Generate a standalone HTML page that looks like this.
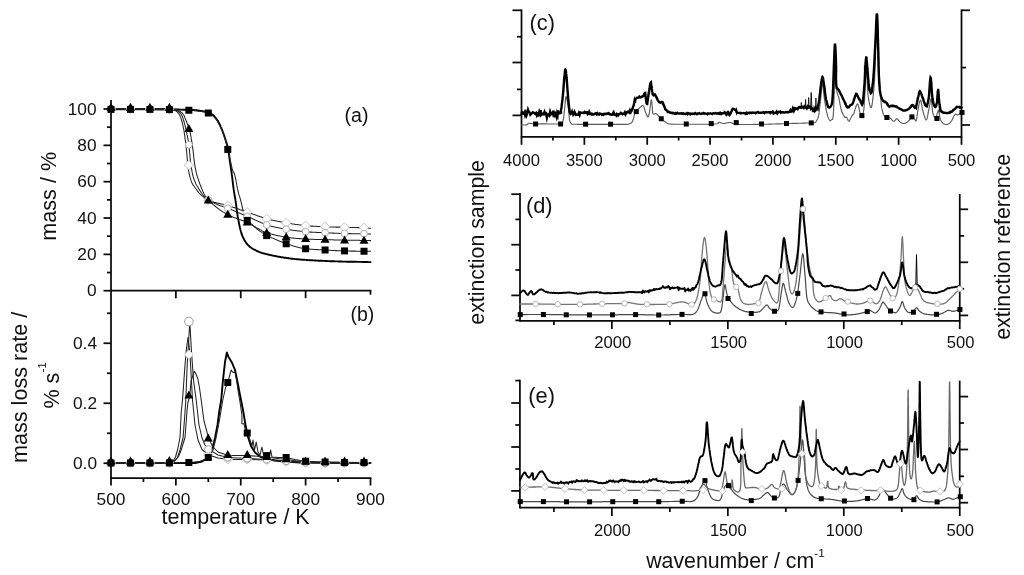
<!DOCTYPE html>
<html lang="en">
<head>
<meta charset="utf-8">
<title>TGA and IR spectra figure</title>
<style>
html,body{margin:0;padding:0;background:#fff;}
body{width:1024px;height:575px;overflow:hidden;font-family:"Liberation Sans", Arial, sans-serif;}
svg{display:block;font-family:"Liberation Sans", Arial, sans-serif;filter:blur(0.45px);}
</style>
</head>
<body>
<svg width="1024" height="575" viewBox="0 0 1024 575">
<rect x="0" y="0" width="1024" height="575" fill="#ffffff"/>
<g id="panel-ab">
<polyline points="111.0,109.0 111.3,109.0 111.6,109.0 112.0,109.0 112.3,109.0 112.7,109.0 113.1,109.0 113.5,109.0 114.0,109.0 114.4,109.0 114.9,109.0 115.3,109.0 115.8,109.0 116.3,109.0 116.8,109.0 117.3,109.0 117.9,109.0 118.4,109.0 119.0,109.0 119.5,109.0 120.1,109.0 120.7,109.0 121.3,109.0 121.9,109.0 122.5,109.0 123.2,109.0 123.8,109.0 124.4,109.0 125.1,109.0 125.7,109.0 126.4,109.0 127.1,109.0 127.7,109.0 128.4,109.0 129.1,109.0 129.8,109.0 130.5,109.0 131.1,109.0 131.8,109.0 132.5,109.0 133.2,109.0 133.9,109.0 134.6,109.0 135.3,109.0 136.0,109.0 136.7,109.0 137.4,109.0 138.1,109.0 138.8,109.0 139.5,109.0 140.2,109.0 140.9,109.0 141.6,109.0 142.3,109.0 142.9,109.0 143.6,109.1 144.3,109.1 144.9,109.1 145.6,109.1 146.2,109.1 146.9,109.1 147.5,109.1 148.2,109.1 148.8,109.1 149.4,109.1 150.0,109.1 150.6,109.1 151.2,109.1 151.8,109.1 152.4,109.1 153.1,109.1 153.7,109.1 154.3,109.1 155.0,109.2 155.6,109.2 156.3,109.2 156.9,109.2 157.6,109.2 158.2,109.2 158.9,109.2 159.6,109.2 160.2,109.2 160.9,109.2 161.6,109.2 162.2,109.3 162.9,109.3 163.6,109.3 164.3,109.3 164.9,109.3 165.6,109.3 166.3,109.3 166.9,109.3 167.6,109.3 168.3,109.3 168.9,109.4 169.6,109.4 170.3,109.4 170.9,109.4 171.6,109.4 172.2,109.4 172.9,109.4 173.5,109.4 174.2,109.4 174.8,109.5 175.4,109.5 176.0,109.5 176.7,109.5 177.3,109.5 177.9,109.5 178.5,109.5 179.1,109.5 179.6,109.6 180.2,109.6 180.8,109.6 181.4,109.6 181.9,109.6 182.5,109.6 183.0,109.6 183.5,109.6 184.0,109.7 184.5,109.7 185.0,109.7 185.5,109.7 186.0,109.7 186.5,109.7 186.9,109.7 187.4,109.7 187.8,109.8 188.2,109.8 188.6,109.8 189.0,109.8 190.3,109.8 191.5,109.9 192.5,109.9 193.4,110.0 194.2,110.0 194.8,110.1 195.4,110.1 195.9,110.2 196.4,110.2 196.8,110.3 197.2,110.3 197.6,110.4 197.9,110.5 198.3,110.5 198.6,110.6 199.0,110.7 199.5,110.7 200.0,110.8 200.7,110.9 201.4,111.0 202.0,111.1 202.7,111.2 203.3,111.3 204.0,111.4 204.6,111.5 205.2,111.6 205.8,111.7 206.4,111.9 206.9,112.0 207.5,112.2 208.0,112.3 208.5,112.5 209.2,112.8 209.8,113.0 210.4,113.3 210.9,113.6 211.5,113.9 212.0,114.3 212.5,114.6 213.0,115.0 213.5,115.5 214.0,116.0 214.4,116.4 214.7,116.8 215.1,117.2 215.5,117.6 215.8,118.0 216.2,118.5 216.5,119.0 216.9,119.5 217.2,120.0 217.6,120.5 217.9,121.1 218.3,121.7 218.6,122.3 219.0,123.0 219.2,123.5 219.5,123.9 219.7,124.4 220.0,124.9 220.2,125.5 220.5,126.0 220.7,126.6 220.9,127.1 221.2,127.7 221.4,128.3 221.7,128.9 221.9,129.5 222.2,130.1 222.4,130.7 222.6,131.3 222.9,131.9 223.1,132.5 223.3,133.1 223.6,133.8 223.8,134.4 224.0,135.0 224.2,135.5 224.4,136.1 224.6,136.7 224.7,137.2 224.9,137.8 225.1,138.4 225.3,139.0 225.5,139.6 225.7,140.1 225.8,140.7 226.0,141.3 226.2,141.9 226.4,142.5 226.5,143.1 226.7,143.7 226.9,144.3 227.0,144.9 227.2,145.5 227.3,146.1 227.5,146.7 227.6,147.3 227.7,147.9 227.9,148.4 228.0,149.0 228.1,149.6 228.3,150.3 228.4,150.9 228.5,151.5 228.6,152.2 228.7,152.8 228.8,153.4 228.9,154.0 229.0,154.6 229.1,155.3 229.2,155.9 229.3,156.5 229.3,157.1 229.4,157.7 229.5,158.3 229.6,158.9 229.7,159.5 229.7,160.2 229.8,160.8 229.9,161.4 230.0,162.0 230.1,162.6 230.2,163.2 230.3,163.8 230.4,164.4 230.5,165.1 230.6,165.7 230.6,166.3 230.7,166.9 230.8,167.5 230.9,168.1 231.0,168.7 231.1,169.3 231.2,169.9 231.3,170.5 231.4,171.1 231.5,171.8 231.5,172.4 231.6,173.0 231.7,173.7 231.8,174.3 231.9,175.0 232.0,175.6 232.0,176.1 232.1,176.7 232.2,177.3 232.3,177.9 232.3,178.5 232.4,179.2 232.5,179.8 232.6,180.4 232.6,181.0 232.7,181.7 232.8,182.3 232.9,182.9 232.9,183.6 233.0,184.2 233.1,184.8 233.2,185.4 233.2,186.0 233.3,186.6 233.4,187.2 233.5,187.8 233.5,188.4 233.6,188.9 233.7,189.5 233.8,190.0 233.9,190.7 234.0,191.4 234.1,192.0 234.2,192.7 234.3,193.3 234.4,193.9 234.5,194.4 234.6,195.0 234.7,195.6 234.8,196.1 234.9,196.7 235.0,197.3 235.1,197.8 235.2,198.4 235.3,199.0 235.4,199.7 235.5,200.3 235.6,201.0 235.7,201.5 235.8,202.1 235.8,202.7 235.9,203.3 236.0,203.9 236.1,204.5 236.2,205.1 236.2,205.7 236.3,206.3 236.4,206.9 236.5,207.6 236.5,208.2 236.6,208.8 236.7,209.5 236.8,210.1 236.9,210.7 237.0,211.3 237.0,212.0 237.1,212.6 237.2,213.2 237.3,213.8 237.4,214.4 237.5,215.0 237.6,215.6 237.7,216.2 237.8,216.9 237.9,217.5 238.0,218.1 238.1,218.7 238.3,219.4 238.4,220.0 238.5,220.6 238.6,221.2 238.7,221.9 238.8,222.5 238.9,223.1 239.1,223.7 239.2,224.2 239.3,224.8 239.4,225.4 239.5,225.9 239.7,226.5 239.8,227.0 239.9,227.5 240.0,228.0 240.2,228.7 240.3,229.4 240.5,230.1 240.7,230.8 240.9,231.4 241.0,232.0 241.2,232.5 241.4,233.1 241.5,233.6 241.7,234.2 241.9,234.7 242.1,235.2 242.3,235.7 242.5,236.2 242.8,236.9 243.1,237.5 243.4,238.1 243.7,238.7 244.0,239.3 244.3,239.9 244.6,240.4 245.0,241.0 245.3,241.5 245.7,242.0 246.0,242.5 246.4,243.1 246.8,243.6 247.2,244.1 247.6,244.6 248.1,245.1 248.5,245.6 249.0,246.0 249.5,246.5 250.0,246.9 250.5,247.3 251.0,247.6 251.5,248.0 252.0,248.3 252.6,248.6 253.1,249.0 253.7,249.3 254.3,249.6 254.9,249.9 255.4,250.2 256.0,250.5 256.5,250.8 257.1,251.0 257.6,251.3 258.1,251.5 258.6,251.7 259.1,252.0 259.7,252.2 260.3,252.4 260.9,252.6 261.7,252.9 262.5,253.1 263.0,253.2 263.5,253.4 264.0,253.5 264.5,253.6 265.1,253.8 265.6,253.9 266.2,254.1 266.8,254.2 267.4,254.4 268.1,254.5 268.7,254.7 269.3,254.8 270.0,254.9 270.6,255.1 271.3,255.2 271.9,255.4 272.5,255.5 273.2,255.6 273.8,255.8 274.4,255.9 275.0,256.0 275.6,256.1 276.2,256.2 276.8,256.3 277.4,256.5 278.0,256.6 278.6,256.7 279.2,256.8 279.8,256.9 280.4,257.0 281.0,257.1 281.5,257.2 282.1,257.3 282.7,257.4 283.3,257.5 283.9,257.6 284.5,257.7 285.1,257.8 285.7,257.8 286.3,257.9 286.9,258.0 287.5,258.1 288.1,258.2 288.7,258.3 289.3,258.4 289.9,258.4 290.5,258.5 291.1,258.6 291.7,258.7 292.3,258.7 292.8,258.8 293.4,258.9 294.0,258.9 294.6,259.0 295.3,259.1 295.9,259.1 296.5,259.2 297.2,259.3 297.9,259.3 298.5,259.4 299.3,259.4 300.0,259.5 300.5,259.5 301.0,259.6 301.6,259.6 302.1,259.7 302.7,259.7 303.2,259.8 303.8,259.8 304.3,259.8 304.9,259.9 305.5,259.9 306.0,259.9 306.6,260.0 307.2,260.0 307.8,260.1 308.4,260.1 309.0,260.1 309.7,260.2 310.3,260.2 310.9,260.2 311.5,260.3 312.2,260.3 312.8,260.4 313.5,260.4 314.1,260.4 314.8,260.5 315.5,260.5 316.1,260.5 316.8,260.6 317.5,260.6 318.0,260.6 318.6,260.7 319.1,260.7 319.7,260.7 320.2,260.7 320.8,260.8 321.3,260.8 321.9,260.8 322.4,260.8 323.0,260.9 323.6,260.9 324.1,260.9 324.7,260.9 325.3,261.0 325.9,261.0 326.5,261.0 327.0,261.0 327.6,261.1 328.2,261.1 328.8,261.1 329.4,261.1 330.1,261.2 330.7,261.2 331.3,261.2 331.9,261.2 332.6,261.3 333.2,261.3 333.9,261.3 334.5,261.3 335.2,261.4 335.8,261.4 336.5,261.4 337.2,261.4 337.9,261.4 338.6,261.5 339.3,261.5 340.0,261.5 340.5,261.5 341.1,261.5 341.6,261.5 342.2,261.6 342.8,261.6 343.4,261.6 344.0,261.6 344.7,261.6 345.3,261.6 346.0,261.6 346.6,261.7 347.3,261.7 348.0,261.7 348.7,261.7 349.3,261.7 350.0,261.7 350.7,261.7 351.4,261.8 352.1,261.8 352.8,261.8 353.5,261.8 354.3,261.8 355.0,261.8 355.7,261.8 356.4,261.8 357.1,261.9 357.7,261.9 358.4,261.9 359.1,261.9 359.8,261.9 360.4,261.9 361.1,261.9 361.7,261.9 362.4,262.0 363.0,262.0 363.6,262.0 364.2,262.0 364.8,262.0 365.3,262.0 365.9,262.0 366.4,262.0 366.9,262.0 367.4,262.0 367.9,262.1 368.4,262.1 368.8,262.1 369.2,262.1 369.6,262.1 369.9,262.1 370.3,262.1 370.6,262.1" fill="none" stroke="#000" stroke-width="1.9" stroke-linejoin="round" stroke-linecap="round"/>
<polyline points="111.0,109.6 111.3,109.6 111.6,109.6 112.0,109.6 112.3,109.6 112.7,109.6 113.1,109.6 113.5,109.6 113.9,109.6 114.3,109.6 114.8,109.6 115.2,109.6 115.7,109.6 116.2,109.6 116.7,109.6 117.2,109.6 117.7,109.6 118.2,109.6 118.8,109.6 119.3,109.6 119.9,109.6 120.5,109.6 121.1,109.6 121.6,109.6 122.3,109.6 122.9,109.6 123.5,109.6 124.1,109.6 124.7,109.6 125.4,109.6 126.0,109.6 126.7,109.6 127.4,109.6 128.0,109.6 128.7,109.6 129.4,109.6 130.1,109.6 130.8,109.6 131.5,109.6 132.2,109.6 132.9,109.6 133.6,109.6 134.3,109.6 135.0,109.6 135.7,109.6 136.4,109.6 137.2,109.6 137.9,109.6 138.6,109.6 139.3,109.6 140.1,109.6 140.8,109.6 141.5,109.6 142.3,109.6 143.0,109.6 143.7,109.6 144.4,109.6 145.2,109.6 145.9,109.6 146.6,109.6 147.3,109.6 148.0,109.6 148.8,109.6 149.5,109.6 150.2,109.6 150.9,109.6 151.6,109.6 152.3,109.6 153.0,109.6 153.6,109.6 154.3,109.6 155.0,109.6 155.7,109.6 156.3,109.6 157.0,109.6 157.6,109.6 158.3,109.6 158.9,109.6 159.5,109.6 160.1,109.6 160.7,109.6 161.3,109.6 161.9,109.6 162.5,109.6 163.1,109.6 163.6,109.6 164.2,109.6 164.7,109.6 165.2,109.6 165.7,109.6 166.2,109.6 166.7,109.6 167.2,109.6 167.7,109.6 168.1,109.6 168.6,109.6 169.0,109.6 169.4,109.6 170.6,109.6 171.7,109.6 172.8,109.6 173.8,109.6 174.7,109.7 175.6,109.7 176.4,109.7 177.2,109.7 178.0,109.7 178.7,109.7 179.3,109.7 180.0,109.8 180.6,109.8 181.1,109.8 181.7,109.8 182.2,109.8 182.6,109.9 183.1,109.9 183.6,109.9 184.0,109.9 184.4,109.9 184.8,110.0 185.2,110.0 185.6,110.0 186.0,110.0 186.4,110.0 186.8,110.1 187.2,110.1 187.6,110.1 188.1,110.1 188.5,110.2 189.0,110.2 189.8,110.2 190.6,110.3 191.4,110.3 192.1,110.4 192.7,110.5 193.4,110.5 194.0,110.6 194.6,110.6 195.2,110.7 195.8,110.7 196.3,110.8 196.8,110.9 197.4,110.9 197.9,111.0 198.4,111.1 198.9,111.1 199.5,111.2 200.0,111.3 200.7,111.4 201.4,111.5 202.0,111.6 202.7,111.7 203.3,111.8 204.0,111.9 204.6,112.0 205.2,112.1 205.8,112.2 206.4,112.3 206.9,112.5 207.5,112.6 208.0,112.8 208.5,113.0 209.1,113.3 209.7,113.5 210.2,113.8 210.7,114.2 211.2,114.5 211.7,114.8 212.2,115.2 212.6,115.6 213.1,116.1 213.5,116.5 214.0,117.0 214.4,117.4 214.7,117.8 215.1,118.2 215.5,118.6 215.8,119.1 216.2,119.5 216.5,120.0 216.9,120.5 217.2,121.0 217.6,121.5 217.9,122.1 218.3,122.7 218.6,123.3 219.0,124.0 219.2,124.5 219.5,124.9 219.7,125.4 220.0,126.0 220.2,126.5 220.5,127.0 220.7,127.6 220.9,128.1 221.2,128.7 221.4,129.3 221.7,129.9 221.9,130.5 222.2,131.1 222.4,131.7 222.6,132.3 222.9,132.9 223.1,133.6 223.3,134.2 223.6,134.8 223.8,135.4 224.0,136.0 224.2,136.6 224.4,137.1 224.6,137.6 224.8,138.2 224.9,138.7 225.1,139.3 225.3,139.8 225.5,140.4 225.6,140.9 225.8,141.5 226.0,142.0 226.1,142.6 226.3,143.1 226.5,143.7 226.6,144.3 226.8,144.9 227.0,145.5 227.1,146.1 227.3,146.7 227.5,147.4 227.7,148.0 227.8,148.7 228.0,149.4 228.1,149.9 228.3,150.5 228.4,151.0 228.5,151.6 228.7,152.2 228.8,152.8 228.9,153.5 229.1,154.1 229.2,154.7 229.3,155.4 229.5,156.0 229.6,156.7 229.7,157.4 229.9,158.0 230.0,158.7 230.1,159.4 230.3,160.0 230.4,160.7 230.5,161.3 230.7,162.0 230.8,162.6 230.9,163.2 231.0,163.8 231.2,164.4 231.3,165.0 231.4,165.5 231.5,166.1 231.7,166.6 231.8,167.1 231.9,167.6 232.0,168.0 232.2,168.9 232.5,169.6 232.7,170.3 232.9,170.9 233.1,171.4 233.4,171.8 233.6,172.2 233.8,172.6 234.0,173.1 234.2,173.5 234.4,174.0 234.6,174.6 234.8,175.2 235.0,176.0 235.1,176.5 235.2,177.0 235.4,177.5 235.5,178.1 235.6,178.6 235.7,179.2 235.9,179.9 236.0,180.5 236.1,181.1 236.2,181.8 236.3,182.4 236.5,183.1 236.6,183.8 236.7,184.4 236.8,185.1 236.9,185.8 237.1,186.4 237.2,187.0 237.3,187.7 237.4,188.3 237.5,188.9 237.7,189.4 237.8,190.0 237.9,190.5 238.0,191.0 238.2,191.8 238.4,192.5 238.5,193.1 238.7,193.7 238.9,194.3 239.0,194.9 239.2,195.4 239.4,195.9 239.5,196.4 239.7,197.0 239.9,197.5 240.1,198.1 240.2,198.7 240.4,199.3 240.6,200.0 240.7,200.5 240.9,201.1 241.0,201.6 241.2,202.2 241.3,202.8 241.4,203.5 241.6,204.1 241.7,204.7 241.9,205.4 242.0,206.0 242.2,206.7 242.3,207.3 242.5,207.9 242.6,208.6 242.8,209.2 242.9,209.8 243.1,210.4 243.2,210.9 243.4,211.5 243.6,212.0 243.8,212.5 244.0,213.2 244.2,213.8 244.5,214.4 244.7,215.0 245.0,215.6 245.2,216.1 245.5,216.6 245.7,217.1 246.0,217.6 246.3,218.1 246.7,218.6 247.0,219.1 247.4,219.6 247.9,220.2 248.2,220.6 248.6,221.0 248.9,221.4 249.3,221.8 249.7,222.3 250.1,222.7 250.5,223.1 250.9,223.6 251.4,224.0 251.8,224.4 252.3,224.9 252.7,225.3 253.2,225.8 253.7,226.2 254.2,226.6 254.6,227.0 255.1,227.4 255.6,227.8 256.1,228.2 256.5,228.6 257.0,229.0 257.5,229.4 258.0,229.8 258.5,230.1 259.0,230.5 259.5,230.9 260.0,231.2 260.6,231.6 261.1,231.9 261.6,232.2 262.2,232.6 262.7,232.9 263.2,233.2 263.8,233.5 264.3,233.9 264.8,234.2 265.4,234.5 265.9,234.8 266.4,235.0 266.9,235.3 267.4,235.6 268.0,235.9 268.6,236.2 269.1,236.5 269.7,236.8 270.3,237.1 270.9,237.3 271.4,237.6 272.0,237.9 272.5,238.1 273.1,238.3 273.7,238.6 274.2,238.8 274.8,239.1 275.3,239.3 275.9,239.5 276.4,239.8 277.0,240.0 277.6,240.2 278.1,240.5 278.7,240.7 279.2,240.9 279.8,241.2 280.4,241.4 280.9,241.6 281.5,241.9 282.0,242.1 282.6,242.3 283.2,242.5 283.7,242.7 284.3,242.9 284.8,243.1 285.4,243.3 285.9,243.6 286.5,243.8 287.1,244.0 287.7,244.2 288.3,244.4 288.9,244.6 289.5,244.8 290.1,245.0 290.7,245.1 291.2,245.3 291.8,245.5 292.4,245.7 293.0,245.9 293.6,246.0 294.2,246.2 294.8,246.4 295.4,246.5 296.0,246.7 296.6,246.9 297.1,247.0 297.7,247.2 298.2,247.3 298.7,247.4 299.2,247.6 299.7,247.7 300.2,247.8 300.7,248.0 301.3,248.1 301.9,248.2 302.5,248.3 303.2,248.4 303.9,248.5 304.7,248.6 305.6,248.8 306.1,248.8 306.6,248.9 307.1,248.9 307.6,249.0 308.1,249.0 308.7,249.0 309.3,249.1 309.8,249.1 310.4,249.2 311.0,249.2 311.6,249.3 312.3,249.3 312.9,249.3 313.5,249.4 314.2,249.4 314.8,249.5 315.5,249.5 316.1,249.5 316.8,249.6 317.5,249.6 318.1,249.7 318.8,249.7 319.5,249.7 320.1,249.8 320.8,249.8 321.4,249.8 322.1,249.9 322.7,249.9 323.4,249.9 324.0,250.0 324.6,250.0 325.2,250.0 325.8,250.1 326.4,250.1 327.1,250.1 327.7,250.2 328.3,250.2 328.9,250.2 329.5,250.3 330.1,250.3 330.8,250.3 331.4,250.4 332.0,250.4 332.6,250.4 333.2,250.5 333.9,250.5 334.5,250.5 335.1,250.6 335.7,250.6 336.3,250.6 336.9,250.6 337.6,250.7 338.2,250.7 338.8,250.7 339.4,250.7 340.0,250.8 340.7,250.8 341.3,250.8 341.9,250.8 342.5,250.9 343.1,250.9 343.8,250.9 344.4,250.9 345.0,250.9 345.6,251.0 346.2,251.0 346.9,251.0 347.5,251.0 348.2,251.0 348.8,251.0 349.5,251.0 350.1,251.1 350.8,251.1 351.5,251.1 352.1,251.1 352.8,251.1 353.4,251.1 354.1,251.1 354.7,251.1 355.4,251.1 356.0,251.2 356.6,251.2 357.2,251.2 357.8,251.2 358.4,251.2 359.0,251.2 359.6,251.2 360.1,251.2 360.6,251.2 361.2,251.2 361.6,251.2 362.1,251.2 362.6,251.2 363.0,251.2 364.1,251.3 365.0,251.3 365.9,251.3 366.7,251.3 367.4,251.3 368.0,251.3 368.6,251.3 369.1,251.3 369.5,251.3 369.9,251.3 370.3,251.3 370.6,251.3" fill="none" stroke="#222222" stroke-width="1.05" stroke-linejoin="round" stroke-linecap="round"/>
<polyline points="111.0,108.5 111.3,108.5 111.6,108.5 112.0,108.5 112.4,108.5 112.8,108.5 113.2,108.5 113.6,108.5 114.0,108.5 114.5,108.5 115.0,108.5 115.5,108.5 116.0,108.5 116.5,108.5 117.1,108.5 117.6,108.5 118.2,108.5 118.8,108.5 119.4,108.5 120.0,108.5 120.6,108.5 121.2,108.5 121.8,108.5 122.5,108.5 123.1,108.5 123.8,108.5 124.5,108.5 125.2,108.5 125.9,108.5 126.6,108.5 127.3,108.5 128.0,108.5 128.7,108.5 129.4,108.5 130.1,108.5 130.9,108.5 131.6,108.5 132.3,108.5 133.1,108.5 133.8,108.5 134.5,108.5 135.3,108.5 136.0,108.5 136.8,108.5 137.5,108.5 138.2,108.5 139.0,108.5 139.7,108.5 140.5,108.5 141.2,108.5 141.9,108.5 142.6,108.5 143.4,108.5 144.1,108.5 144.8,108.5 145.5,108.5 146.2,108.5 146.9,108.5 147.6,108.5 148.2,108.5 148.9,108.5 149.5,108.5 150.2,108.5 150.8,108.5 151.5,108.6 152.1,108.6 152.7,108.6 153.3,108.6 153.8,108.6 154.4,108.6 155.0,108.6 155.5,108.6 156.0,108.6 156.5,108.6 157.0,108.6 157.5,108.6 158.0,108.6 158.4,108.6 158.8,108.6 159.2,108.6 159.6,108.6 160.0,108.6 161.8,108.6 163.3,108.6 164.5,108.7 165.4,108.7 166.2,108.7 166.8,108.7 167.2,108.8 167.6,108.8 167.8,108.8 168.0,108.9 168.2,108.9 168.4,108.9 168.6,109.0 169.0,109.0 169.4,109.1 170.2,109.2 170.9,109.3 171.6,109.4 172.2,109.5 172.8,109.7 173.4,109.8 173.9,110.0 174.5,110.2 175.0,110.5 175.6,110.8 176.1,111.2 176.7,111.5 177.2,112.0 177.7,112.4 178.1,112.9 178.6,113.4 179.0,114.0 179.3,114.5 179.6,115.0 179.9,115.5 180.1,116.0 180.3,116.5 180.6,117.1 180.8,117.8 181.0,118.4 181.3,119.2 181.5,120.0 181.6,120.5 181.8,121.0 181.9,121.5 182.1,122.0 182.2,122.5 182.3,123.0 182.5,123.5 182.6,124.1 182.8,124.7 182.9,125.3 183.0,125.9 183.2,126.6 183.3,127.2 183.4,127.9 183.6,128.6 183.7,129.4 183.9,130.2 184.0,131.0 184.1,131.5 184.2,132.0 184.2,132.5 184.3,133.1 184.4,133.7 184.5,134.2 184.6,134.8 184.7,135.4 184.8,136.1 184.9,136.7 184.9,137.3 185.0,138.0 185.1,138.6 185.2,139.3 185.3,139.9 185.4,140.6 185.5,141.2 185.5,141.9 185.6,142.6 185.7,143.2 185.8,143.9 185.9,144.5 185.9,145.2 186.0,145.8 186.1,146.5 186.2,147.1 186.2,147.7 186.3,148.3 186.4,148.9 186.4,149.4 186.5,150.0 186.6,150.7 186.6,151.4 186.7,152.0 186.8,152.7 186.8,153.3 186.9,154.0 186.9,154.6 187.0,155.3 187.0,155.9 187.1,156.5 187.1,157.1 187.2,157.8 187.2,158.4 187.2,159.0 187.3,159.6 187.3,160.1 187.4,160.7 187.4,161.3 187.4,161.8 187.5,162.4 187.5,162.9 187.6,163.5 187.6,164.0 187.7,164.5 187.8,165.0 187.8,165.8 187.9,166.5 188.0,167.2 188.1,167.9 188.2,168.6 188.3,169.2 188.4,169.8 188.5,170.4 188.7,171.0 188.8,171.6 188.9,172.2 189.0,172.8 189.1,173.3 189.2,173.9 189.4,174.4 189.5,175.0 189.7,175.7 189.8,176.4 190.0,177.1 190.2,177.7 190.4,178.4 190.6,179.0 190.8,179.7 191.0,180.3 191.2,180.9 191.4,181.4 191.6,182.0 191.8,182.5 192.0,183.0 192.3,183.6 192.6,184.2 192.9,184.7 193.2,185.2 193.6,185.6 193.9,186.1 194.3,186.5 194.6,187.0 195.0,187.5 195.3,188.0 195.7,188.5 196.0,189.0 196.4,189.5 196.8,190.0 197.1,190.6 197.5,191.1 197.9,191.6 198.3,192.1 198.6,192.6 199.0,193.0 199.5,193.5 200.0,194.0 200.4,194.4 200.9,194.9 201.4,195.3 201.9,195.7 202.4,196.1 203.0,196.5 203.5,196.9 203.9,197.3 204.4,197.6 204.8,198.0 205.3,198.4 205.8,198.8 206.3,199.2 206.9,199.6 207.6,200.0 208.3,200.3 208.8,200.5 209.3,200.7 209.8,200.9 210.4,201.1 211.0,201.3 211.6,201.5 212.2,201.7 212.9,201.8 213.5,202.0 214.1,202.2 214.8,202.4 215.5,202.5 216.1,202.7 216.7,202.9 217.4,203.0 218.0,203.2 218.6,203.3 219.1,203.5 219.6,203.6 220.1,203.7 220.6,203.8 221.1,203.9 221.6,204.0 222.1,204.1 222.7,204.2 223.2,204.3 223.8,204.5 224.4,204.6 225.0,204.8 225.7,204.9 226.4,205.1 227.2,205.4 228.0,205.6 228.4,205.7 228.9,205.9 229.4,206.0 229.9,206.2 230.4,206.3 230.9,206.5 231.4,206.7 231.9,206.9 232.5,207.0 233.0,207.2 233.6,207.4 234.2,207.6 234.8,207.8 235.4,208.0 235.9,208.2 236.5,208.4 237.2,208.6 237.8,208.8 238.4,209.1 239.0,209.3 239.6,209.5 240.2,209.7 240.9,209.9 241.5,210.1 242.1,210.3 242.7,210.6 243.3,210.8 243.9,211.0 244.5,211.2 245.1,211.4 245.7,211.6 246.3,211.8 246.9,212.0 247.5,212.2 248.1,212.4 248.6,212.6 249.2,212.8 249.8,213.0 250.4,213.2 250.9,213.4 251.5,213.6 252.1,213.8 252.7,214.0 253.2,214.2 253.8,214.4 254.4,214.6 255.0,214.8 255.5,215.0 256.1,215.2 256.7,215.5 257.3,215.7 257.8,215.9 258.4,216.1 259.0,216.3 259.6,216.5 260.1,216.7 260.7,216.8 261.3,217.0 261.9,217.2 262.4,217.4 263.0,217.6 263.6,217.8 264.1,218.0 264.7,218.1 265.3,218.3 265.9,218.5 266.4,218.6 267.0,218.8 267.6,219.0 268.2,219.1 268.8,219.3 269.4,219.4 270.0,219.6 270.6,219.7 271.2,219.9 271.8,220.0 272.4,220.2 273.0,220.3 273.6,220.4 274.3,220.6 274.9,220.7 275.5,220.8 276.1,221.0 276.7,221.1 277.3,221.2 277.9,221.3 278.5,221.5 279.1,221.6 279.7,221.7 280.3,221.8 280.9,221.9 281.5,222.0 282.1,222.1 282.7,222.3 283.3,222.4 283.9,222.5 284.5,222.6 285.1,222.7 285.7,222.8 286.3,222.9 286.9,223.0 287.5,223.1 288.1,223.2 288.7,223.3 289.3,223.4 289.9,223.5 290.5,223.6 291.1,223.7 291.7,223.8 292.3,223.9 292.9,224.0 293.6,224.1 294.2,224.2 294.8,224.3 295.4,224.4 296.0,224.4 296.6,224.5 297.2,224.6 297.8,224.7 298.4,224.8 299.0,224.8 299.6,224.9 300.2,225.0 300.8,225.1 301.4,225.1 302.0,225.2 302.6,225.3 303.2,225.3 303.8,225.4 304.4,225.5 305.0,225.5 305.6,225.6 306.2,225.7 306.8,225.7 307.4,225.8 308.1,225.8 308.7,225.9 309.3,225.9 309.9,226.0 310.5,226.0 311.1,226.1 311.7,226.1 312.4,226.1 313.0,226.2 313.6,226.2 314.2,226.2 314.8,226.3 315.4,226.3 316.0,226.3 316.6,226.4 317.2,226.4 317.9,226.4 318.5,226.4 319.1,226.5 319.7,226.5 320.3,226.5 320.9,226.5 321.5,226.6 322.1,226.6 322.8,226.6 323.4,226.6 324.0,226.7 324.6,226.7 325.2,226.7 325.8,226.8 326.4,226.8 327.1,226.8 327.7,226.8 328.3,226.8 328.9,226.9 329.5,226.9 330.1,226.9 330.8,226.9 331.4,226.9 332.0,227.0 332.6,227.0 333.2,227.0 333.9,227.0 334.5,227.0 335.1,227.0 335.7,227.1 336.3,227.1 336.9,227.1 337.6,227.1 338.2,227.1 338.8,227.1 339.4,227.1 340.0,227.2 340.7,227.2 341.3,227.2 341.9,227.2 342.5,227.2 343.1,227.2 343.8,227.2 344.4,227.3 345.0,227.3 345.6,227.3 346.2,227.3 346.9,227.3 347.5,227.3 348.2,227.4 348.8,227.4 349.5,227.4 350.1,227.4 350.8,227.4 351.5,227.4 352.1,227.5 352.8,227.5 353.4,227.5 354.1,227.5 354.7,227.5 355.4,227.5 356.0,227.5 356.6,227.6 357.2,227.6 357.8,227.6 358.4,227.6 359.0,227.6 359.6,227.6 360.1,227.7 360.6,227.7 361.2,227.7 361.6,227.7 362.1,227.7 362.6,227.7 363.0,227.8 364.1,227.8 365.0,227.8 365.9,227.9 366.7,228.0 367.4,228.0 368.0,228.1 368.6,228.1 369.1,228.2 369.5,228.2 369.9,228.2 370.3,228.3 370.6,228.3" fill="none" stroke="#222222" stroke-width="1.05" stroke-linejoin="round" stroke-linecap="round"/>
<polyline points="111.0,109.5 111.3,109.5 111.6,109.5 112.0,109.5 112.4,109.5 112.8,109.5 113.2,109.5 113.6,109.5 114.0,109.5 114.5,109.5 115.0,109.5 115.5,109.5 116.0,109.5 116.5,109.5 117.1,109.5 117.6,109.5 118.2,109.5 118.8,109.5 119.4,109.5 120.0,109.5 120.6,109.5 121.2,109.5 121.8,109.5 122.5,109.5 123.1,109.5 123.8,109.5 124.5,109.5 125.2,109.5 125.9,109.5 126.6,109.5 127.3,109.5 128.0,109.5 128.7,109.5 129.4,109.5 130.1,109.5 130.9,109.5 131.6,109.5 132.3,109.5 133.1,109.5 133.8,109.5 134.5,109.5 135.3,109.5 136.0,109.5 136.8,109.5 137.5,109.5 138.2,109.5 139.0,109.5 139.7,109.5 140.5,109.5 141.2,109.5 141.9,109.5 142.6,109.5 143.4,109.5 144.1,109.5 144.8,109.5 145.5,109.5 146.2,109.5 146.9,109.5 147.6,109.5 148.2,109.5 148.9,109.5 149.5,109.5 150.2,109.5 150.8,109.5 151.5,109.5 152.1,109.5 152.7,109.5 153.3,109.5 153.8,109.5 154.4,109.5 155.0,109.5 155.5,109.5 156.0,109.5 156.5,109.5 157.0,109.5 157.5,109.5 158.0,109.5 158.4,109.5 158.8,109.5 159.2,109.5 159.6,109.5 160.0,109.5 161.8,109.5 163.3,109.5 164.5,109.5 165.4,109.4 166.2,109.4 166.7,109.4 167.1,109.4 167.5,109.4 167.7,109.4 167.9,109.3 168.1,109.3 168.3,109.3 168.6,109.4 168.9,109.4 169.4,109.4 170.1,109.4 170.9,109.5 171.6,109.5 172.3,109.6 172.9,109.7 173.6,109.8 174.2,109.9 174.8,110.0 175.4,110.1 176.0,110.3 176.5,110.5 177.1,110.8 177.7,111.1 178.3,111.4 178.8,111.8 179.3,112.1 179.7,112.6 180.2,113.0 180.6,113.5 181.0,114.0 181.3,114.5 181.6,115.0 181.9,115.5 182.1,116.0 182.4,116.5 182.6,117.1 182.8,117.8 183.0,118.4 183.2,119.2 183.5,120.0 183.6,120.5 183.8,121.0 184.0,121.5 184.1,122.1 184.3,122.6 184.4,123.2 184.6,123.8 184.7,124.4 184.9,125.0 185.1,125.6 185.2,126.3 185.4,126.9 185.5,127.6 185.7,128.3 185.8,128.9 186.0,129.6 186.1,130.3 186.3,131.0 186.4,131.5 186.5,132.1 186.7,132.7 186.8,133.2 186.9,133.8 187.0,134.4 187.1,134.9 187.3,135.5 187.4,136.1 187.5,136.7 187.6,137.3 187.7,137.9 187.8,138.5 188.0,139.1 188.1,139.8 188.2,140.4 188.3,141.0 188.4,141.7 188.5,142.3 188.6,143.0 188.7,143.6 188.8,144.3 188.9,145.0 189.0,145.6 189.0,146.1 189.1,146.7 189.2,147.3 189.2,147.9 189.3,148.5 189.4,149.1 189.4,149.7 189.5,150.3 189.5,151.0 189.6,151.6 189.6,152.2 189.7,152.9 189.8,153.5 189.8,154.2 189.9,154.8 189.9,155.4 190.0,156.1 190.0,156.7 190.1,157.3 190.1,157.9 190.2,158.5 190.2,159.1 190.3,159.7 190.3,160.3 190.4,160.9 190.5,161.4 190.5,162.0 190.6,162.5 190.7,163.2 190.8,163.9 190.9,164.6 191.0,165.3 191.1,165.9 191.2,166.6 191.3,167.2 191.4,167.8 191.5,168.4 191.6,169.0 191.7,169.6 191.8,170.2 191.9,170.8 192.0,171.4 192.1,171.9 192.2,172.4 192.3,173.0 192.4,173.5 192.5,174.0 192.6,174.5 192.8,175.0 192.9,175.7 193.1,176.4 193.3,177.1 193.5,177.7 193.7,178.3 193.9,178.9 194.1,179.5 194.3,180.1 194.5,180.6 194.7,181.1 194.9,181.6 195.1,182.1 195.3,182.5 195.5,183.0 195.8,183.7 196.1,184.3 196.3,184.8 196.6,185.3 196.9,185.7 197.2,186.2 197.6,186.8 198.0,187.5 198.3,187.9 198.5,188.4 198.8,188.8 199.1,189.4 199.5,189.9 199.8,190.4 200.1,190.9 200.5,191.5 200.8,192.0 201.2,192.6 201.6,193.1 201.9,193.6 202.3,194.1 202.6,194.6 203.0,195.0 203.4,195.5 203.8,196.0 204.2,196.4 204.6,196.9 205.1,197.3 205.5,197.7 205.9,198.1 206.4,198.4 206.8,198.8 207.3,199.2 207.9,199.6 208.5,200.0 209.0,200.3 209.4,200.6 209.9,200.9 210.4,201.2 211.0,201.5 211.5,201.8 212.1,202.1 212.7,202.4 213.3,202.6 213.9,202.9 214.4,203.2 215.0,203.5 215.6,203.8 216.2,204.0 216.8,204.3 217.4,204.6 218.0,204.8 218.6,205.0 219.1,205.2 219.6,205.4 220.1,205.6 220.6,205.8 221.1,205.9 221.6,206.1 222.1,206.2 222.6,206.4 223.2,206.5 223.7,206.7 224.3,206.9 225.0,207.1 225.7,207.3 226.4,207.6 227.2,207.9 228.0,208.2 228.4,208.4 228.9,208.5 229.3,208.7 229.8,208.9 230.3,209.1 230.8,209.3 231.3,209.5 231.8,209.8 232.3,210.0 232.9,210.2 233.4,210.4 234.0,210.7 234.5,210.9 235.1,211.2 235.7,211.4 236.3,211.7 236.8,211.9 237.4,212.2 238.0,212.4 238.6,212.7 239.2,212.9 239.8,213.2 240.4,213.5 241.0,213.7 241.6,214.0 242.2,214.2 242.8,214.5 243.4,214.7 244.0,215.0 244.6,215.3 245.2,215.5 245.8,215.8 246.4,216.0 246.9,216.3 247.5,216.5 248.1,216.7 248.6,217.0 249.2,217.2 249.8,217.5 250.3,217.7 250.9,218.0 251.5,218.3 252.0,218.5 252.6,218.8 253.2,219.0 253.7,219.3 254.3,219.6 254.9,219.8 255.4,220.1 256.0,220.4 256.6,220.6 257.1,220.9 257.7,221.1 258.3,221.4 258.9,221.6 259.4,221.9 260.0,222.1 260.6,222.4 261.1,222.6 261.7,222.9 262.3,223.1 262.8,223.3 263.4,223.6 263.9,223.8 264.5,224.0 265.1,224.2 265.6,224.4 266.2,224.6 266.7,224.8 267.3,225.0 267.9,225.2 268.5,225.4 269.1,225.6 269.7,225.7 270.3,225.9 270.9,226.1 271.5,226.2 272.1,226.4 272.7,226.5 273.3,226.7 273.9,226.8 274.5,227.0 275.1,227.1 275.7,227.2 276.2,227.4 276.8,227.5 277.4,227.6 278.0,227.7 278.6,227.8 279.2,227.9 279.8,228.0 280.4,228.2 281.0,228.3 281.5,228.4 282.1,228.5 282.7,228.6 283.3,228.7 283.9,228.8 284.5,228.9 285.1,229.0 285.7,229.1 286.3,229.2 286.9,229.3 287.5,229.4 288.1,229.5 288.7,229.6 289.3,229.7 289.9,229.8 290.5,229.9 291.1,230.0 291.7,230.1 292.3,230.2 292.9,230.2 293.5,230.3 294.1,230.4 294.7,230.5 295.3,230.6 296.0,230.6 296.6,230.7 297.2,230.8 297.8,230.9 298.4,230.9 299.0,231.0 299.6,231.1 300.2,231.2 300.8,231.2 301.4,231.3 302.0,231.3 302.6,231.4 303.2,231.5 303.8,231.5 304.4,231.6 305.0,231.6 305.6,231.7 306.2,231.8 306.8,231.8 307.4,231.9 308.1,231.9 308.7,231.9 309.3,232.0 309.9,232.0 310.5,232.1 311.1,232.1 311.7,232.1 312.4,232.2 313.0,232.2 313.6,232.2 314.2,232.3 314.8,232.3 315.4,232.3 316.0,232.3 316.6,232.4 317.2,232.4 317.9,232.4 318.5,232.4 319.1,232.5 319.7,232.5 320.3,232.5 320.9,232.5 321.5,232.6 322.1,232.6 322.8,232.6 323.4,232.6 324.0,232.7 324.6,232.7 325.2,232.7 325.8,232.8 326.4,232.8 327.1,232.8 327.7,232.8 328.3,232.9 328.9,232.9 329.5,232.9 330.1,233.0 330.8,233.0 331.4,233.0 332.0,233.0 332.6,233.1 333.2,233.1 333.9,233.1 334.5,233.2 335.1,233.2 335.7,233.2 336.3,233.2 336.9,233.3 337.6,233.3 338.2,233.3 338.8,233.3 339.4,233.4 340.0,233.4 340.7,233.4 341.3,233.4 341.9,233.4 342.5,233.5 343.1,233.5 343.8,233.5 344.4,233.5 345.0,233.5 345.6,233.5 346.2,233.6 346.9,233.6 347.5,233.6 348.2,233.6 348.8,233.6 349.5,233.6 350.1,233.6 350.8,233.6 351.5,233.7 352.1,233.7 352.8,233.7 353.4,233.7 354.1,233.7 354.7,233.7 355.4,233.7 356.0,233.7 356.6,233.7 357.2,233.7 357.8,233.7 358.4,233.7 359.0,233.7 359.6,233.8 360.1,233.8 360.6,233.8 361.2,233.8 361.6,233.8 362.1,233.8 362.6,233.8 363.0,233.8 364.1,233.8 365.0,233.8 365.9,233.9 366.7,233.9 367.4,233.9 368.0,233.9 368.6,233.9 369.1,234.0 369.5,234.0 369.9,234.0 370.3,234.0 370.6,234.0" fill="none" stroke="#222222" stroke-width="1.05" stroke-linejoin="round" stroke-linecap="round"/>
<polyline points="111.0,108.8 111.3,108.8 111.6,108.8 112.0,108.8 112.3,108.8 112.7,108.8 113.1,108.8 113.5,108.8 113.9,108.8 114.4,108.8 114.8,108.8 115.3,108.8 115.8,108.8 116.3,108.8 116.8,108.8 117.3,108.8 117.8,108.8 118.4,108.8 118.9,108.8 119.5,108.8 120.1,108.8 120.7,108.8 121.3,108.8 121.9,108.8 122.5,108.8 123.1,108.8 123.8,108.8 124.4,108.8 125.1,108.8 125.7,108.8 126.4,108.8 127.1,108.8 127.8,108.8 128.4,108.8 129.1,108.8 129.8,108.8 130.5,108.8 131.3,108.8 132.0,108.8 132.7,108.8 133.4,108.8 134.1,108.8 134.9,108.8 135.6,108.8 136.3,108.8 137.1,108.8 137.8,108.8 138.6,108.8 139.3,108.8 140.0,108.7 140.8,108.7 141.5,108.7 142.3,108.7 143.0,108.7 143.7,108.7 144.5,108.7 145.2,108.7 145.9,108.7 146.7,108.7 147.4,108.7 148.1,108.7 148.9,108.7 149.6,108.7 150.3,108.8 151.0,108.8 151.7,108.8 152.4,108.8 153.1,108.8 153.8,108.8 154.4,108.8 155.1,108.8 155.8,108.8 156.4,108.8 157.1,108.8 157.7,108.8 158.4,108.8 159.0,108.8 159.6,108.8 160.2,108.8 160.8,108.8 161.4,108.8 162.0,108.8 162.5,108.8 163.1,108.8 163.6,108.8 164.1,108.8 164.7,108.8 165.2,108.8 165.7,108.8 166.1,108.8 166.6,108.8 167.0,108.9 167.5,108.9 167.9,108.9 168.3,108.9 168.7,108.9 169.0,108.9 169.4,108.9 171.6,109.0 173.3,109.0 174.6,109.1 175.6,109.2 176.3,109.3 176.8,109.4 177.0,109.5 177.2,109.6 177.2,109.7 177.3,109.9 177.3,110.0 177.4,110.2 177.6,110.3 178.0,110.5 178.7,110.8 179.3,111.0 179.8,111.3 180.4,111.6 180.8,111.9 181.3,112.3 181.8,112.7 182.2,113.1 182.6,113.5 183.0,114.0 183.3,114.5 183.7,115.0 184.0,115.5 184.2,116.1 184.5,116.6 184.7,117.2 185.0,117.8 185.2,118.5 185.5,119.1 185.7,119.8 186.0,120.5 186.2,121.0 186.4,121.6 186.7,122.1 186.9,122.7 187.1,123.3 187.4,123.9 187.6,124.5 187.9,125.1 188.1,125.8 188.3,126.4 188.5,127.0 188.8,127.5 188.9,128.1 189.1,128.7 189.3,129.2 189.5,129.9 189.7,130.5 189.8,131.0 189.9,131.5 190.1,132.0 190.2,132.5 190.3,133.1 190.4,133.7 190.5,134.4 190.6,135.1 190.8,136.0 190.9,136.5 191.0,137.0 191.1,137.5 191.2,138.0 191.2,138.6 191.3,139.2 191.4,139.8 191.5,140.4 191.6,141.0 191.8,141.7 191.9,142.3 192.0,143.0 192.1,143.6 192.2,144.3 192.3,145.0 192.4,145.6 192.5,146.3 192.6,146.9 192.7,147.6 192.7,148.2 192.8,148.8 192.9,149.4 193.0,150.0 193.1,150.7 193.2,151.3 193.2,152.0 193.3,152.6 193.4,153.2 193.4,153.9 193.5,154.5 193.6,155.1 193.6,155.7 193.7,156.3 193.7,157.0 193.8,157.6 193.9,158.2 193.9,158.8 194.0,159.4 194.1,160.0 194.1,160.6 194.2,161.3 194.3,161.9 194.4,162.5 194.5,163.1 194.6,163.7 194.7,164.3 194.8,164.9 194.9,165.5 195.0,166.1 195.1,166.7 195.2,167.3 195.3,167.9 195.4,168.5 195.5,169.0 195.6,169.6 195.8,170.2 195.9,170.8 196.0,171.4 196.2,172.0 196.3,172.6 196.4,173.2 196.6,173.8 196.7,174.4 196.9,175.0 197.1,175.6 197.2,176.2 197.4,176.7 197.6,177.3 197.8,177.9 198.0,178.5 198.2,179.1 198.4,179.7 198.6,180.3 198.8,180.9 199.0,181.5 199.2,182.1 199.4,182.7 199.6,183.3 199.8,183.8 200.1,184.4 200.3,185.0 200.5,185.5 200.7,186.0 200.9,186.5 201.1,187.0 201.2,187.5 201.5,188.2 201.8,188.9 202.1,189.6 202.4,190.2 202.6,190.9 202.9,191.5 203.2,192.0 203.4,192.6 203.7,193.1 203.9,193.7 204.2,194.2 204.5,194.7 204.7,195.1 205.0,195.6 205.4,196.2 205.7,196.7 206.0,197.2 206.2,197.6 206.5,198.0 206.9,198.4 207.2,198.8 207.6,199.3 208.2,199.8 208.8,200.4 209.1,200.7 209.4,201.1 209.8,201.5 210.2,201.8 210.7,202.2 211.1,202.6 211.5,203.1 212.0,203.5 212.5,203.9 213.0,204.4 213.5,204.8 214.0,205.2 214.5,205.7 215.0,206.1 215.5,206.5 216.0,206.9 216.5,207.4 217.0,207.7 217.5,208.1 218.0,208.5 218.5,208.9 219.0,209.2 219.5,209.6 220.1,210.0 220.6,210.3 221.1,210.7 221.7,211.0 222.2,211.4 222.7,211.7 223.3,212.1 223.8,212.4 224.4,212.7 224.9,213.0 225.4,213.3 226.0,213.6 226.5,213.9 227.0,214.2 227.6,214.5 228.1,214.8 228.7,215.1 229.3,215.4 229.9,215.7 230.4,215.9 231.0,216.2 231.6,216.5 232.2,216.7 232.8,217.0 233.4,217.2 233.9,217.4 234.5,217.7 235.1,217.9 235.7,218.1 236.3,218.3 236.8,218.6 237.4,218.8 238.0,219.0 238.6,219.2 239.2,219.4 239.8,219.6 240.3,219.8 240.9,220.0 241.5,220.2 242.1,220.4 242.7,220.6 243.3,220.8 243.9,221.0 244.5,221.1 245.0,221.3 245.6,221.6 246.2,221.8 246.8,222.0 247.3,222.2 247.9,222.5 248.5,222.8 249.0,223.1 249.5,223.4 250.1,223.7 250.6,224.0 251.1,224.3 251.6,224.7 252.2,225.0 252.7,225.3 253.2,225.7 253.7,226.0 254.3,226.4 254.8,226.7 255.3,227.0 255.9,227.4 256.4,227.7 257.0,228.0 257.5,228.3 258.0,228.5 258.5,228.8 259.0,229.1 259.4,229.3 259.9,229.6 260.4,229.9 260.9,230.1 261.3,230.4 261.8,230.7 262.4,230.9 262.9,231.2 263.4,231.4 264.0,231.7 264.6,231.9 265.3,232.2 265.9,232.4 266.7,232.7 267.4,232.9 267.9,233.0 268.3,233.2 268.8,233.3 269.3,233.5 269.9,233.6 270.4,233.8 270.9,233.9 271.5,234.1 272.1,234.2 272.6,234.4 273.2,234.5 273.8,234.7 274.4,234.8 275.0,235.0 275.6,235.1 276.3,235.2 276.9,235.4 277.5,235.5 278.1,235.7 278.8,235.8 279.4,235.9 280.0,236.1 280.7,236.2 281.3,236.3 281.9,236.4 282.6,236.6 283.2,236.7 283.8,236.8 284.4,236.9 285.0,237.0 285.6,237.1 286.2,237.2 286.8,237.3 287.4,237.4 288.0,237.5 288.6,237.6 289.2,237.6 289.9,237.7 290.5,237.8 291.1,237.9 291.7,237.9 292.3,238.0 292.9,238.1 293.5,238.1 294.1,238.2 294.7,238.2 295.3,238.3 295.9,238.3 296.5,238.4 297.1,238.4 297.7,238.5 298.3,238.5 299.0,238.6 299.6,238.6 300.2,238.7 300.8,238.7 301.4,238.7 302.0,238.8 302.6,238.8 303.2,238.8 303.8,238.9 304.4,238.9 305.0,239.0 305.6,239.0 306.2,239.0 306.8,239.1 307.5,239.1 308.1,239.1 308.7,239.2 309.3,239.2 309.9,239.2 310.5,239.2 311.1,239.3 311.7,239.3 312.4,239.3 313.0,239.3 313.6,239.3 314.2,239.4 314.8,239.4 315.4,239.4 316.0,239.4 316.6,239.4 317.3,239.4 317.9,239.4 318.5,239.5 319.1,239.5 319.7,239.5 320.3,239.5 320.9,239.5 321.5,239.5 322.1,239.5 322.8,239.6 323.4,239.6 324.0,239.6 324.6,239.6 325.2,239.6 325.8,239.6 326.4,239.7 327.1,239.7 327.7,239.7 328.3,239.7 328.9,239.7 329.5,239.7 330.1,239.8 330.8,239.8 331.4,239.8 332.0,239.8 332.6,239.8 333.2,239.8 333.9,239.9 334.5,239.9 335.1,239.9 335.7,239.9 336.3,239.9 336.9,239.9 337.6,240.0 338.2,240.0 338.8,240.0 339.4,240.0 340.0,240.0 340.7,240.0 341.3,240.0 341.9,240.1 342.5,240.1 343.1,240.1 343.8,240.1 344.4,240.1 345.0,240.1 345.6,240.1 346.2,240.1 346.9,240.2 347.5,240.2 348.2,240.2 348.8,240.2 349.5,240.2 350.1,240.2 350.8,240.2 351.5,240.2 352.1,240.2 352.8,240.3 353.4,240.3 354.1,240.3 354.7,240.3 355.4,240.3 356.0,240.3 356.6,240.3 357.2,240.3 357.8,240.3 358.4,240.3 359.0,240.3 359.6,240.3 360.1,240.4 360.6,240.4 361.2,240.4 361.6,240.4 362.1,240.4 362.6,240.4 363.0,240.4 364.1,240.4 365.0,240.4 365.9,240.5 366.7,240.5 367.4,240.5 368.0,240.5 368.6,240.5 369.1,240.6 369.5,240.6 369.9,240.6 370.3,240.6 370.6,240.6" fill="none" stroke="#222222" stroke-width="1.05" stroke-linejoin="round" stroke-linecap="round"/>
<polygon points="111,104.4 115.6,109 111,113.6 106.4,109" fill="#fff" stroke="#c6c6c6" stroke-width="1"/>
<polygon points="130.46,104.4 135.06,109 130.46,113.6 125.86,109" fill="#fff" stroke="#c6c6c6" stroke-width="1"/>
<polygon points="149.93,104.4 154.53,109 149.93,113.6 145.33,109" fill="#fff" stroke="#c6c6c6" stroke-width="1"/>
<polygon points="169.39,104.9 173.99,109.5 169.39,114.1 164.79,109.5" fill="#fff" stroke="#c6c6c6" stroke-width="1"/>
<polygon points="188.85,160.4 193.45,165 188.85,169.6 184.25,165" fill="#fff" stroke="#c6c6c6" stroke-width="1"/>
<polygon points="208.31,195.9 212.91,200.5 208.31,205.1 203.71,200.5" fill="#fff" stroke="#c6c6c6" stroke-width="1"/>
<polygon points="227.78,201 232.38,205.6 227.78,210.2 223.18,205.6" fill="#fff" stroke="#c6c6c6" stroke-width="1"/>
<polygon points="247.24,207.7 251.84,212.3 247.24,216.9 242.64,212.3" fill="#fff" stroke="#c6c6c6" stroke-width="1"/>
<polygon points="266.7,214.2 271.3,218.8 266.7,223.4 262.1,218.8" fill="#fff" stroke="#c6c6c6" stroke-width="1"/>
<polygon points="286.16,218.3 290.76,222.9 286.16,227.5 281.56,222.9" fill="#fff" stroke="#c6c6c6" stroke-width="1"/>
<polygon points="305.62,221 310.23,225.6 305.62,230.2 301.02,225.6" fill="#fff" stroke="#c6c6c6" stroke-width="1"/>
<polygon points="325.09,222.1 329.69,226.7 325.09,231.3 320.49,226.7" fill="#fff" stroke="#c6c6c6" stroke-width="1"/>
<polygon points="344.55,222.65 349.15,227.25 344.55,231.85 339.95,227.25" fill="#fff" stroke="#c6c6c6" stroke-width="1"/>
<polygon points="364.01,223.15 368.61,227.75 364.01,232.35 359.41,227.75" fill="#fff" stroke="#c6c6c6" stroke-width="1"/>
<circle cx="111" cy="109" r="3.4" fill="#fff" stroke="#b0b0b0" stroke-width="1"/>
<circle cx="130.46" cy="109" r="3.4" fill="#fff" stroke="#b0b0b0" stroke-width="1"/>
<circle cx="149.93" cy="109" r="3.4" fill="#fff" stroke="#b0b0b0" stroke-width="1"/>
<circle cx="169.39" cy="109.3" r="3.4" fill="#fff" stroke="#b0b0b0" stroke-width="1"/>
<circle cx="188.85" cy="144.75" r="3.4" fill="#fff" stroke="#b0b0b0" stroke-width="1"/>
<circle cx="208.31" cy="200" r="3.4" fill="#fff" stroke="#b0b0b0" stroke-width="1"/>
<circle cx="227.78" cy="208.2" r="3.4" fill="#fff" stroke="#b0b0b0" stroke-width="1"/>
<circle cx="247.24" cy="216.5" r="3.4" fill="#fff" stroke="#b0b0b0" stroke-width="1"/>
<circle cx="266.7" cy="225" r="3.4" fill="#fff" stroke="#b0b0b0" stroke-width="1"/>
<circle cx="286.16" cy="229.2" r="3.4" fill="#fff" stroke="#b0b0b0" stroke-width="1"/>
<circle cx="305.62" cy="231.7" r="3.4" fill="#fff" stroke="#b0b0b0" stroke-width="1"/>
<circle cx="325.09" cy="232.7" r="3.4" fill="#fff" stroke="#b0b0b0" stroke-width="1"/>
<circle cx="344.55" cy="233.5" r="3.4" fill="#fff" stroke="#b0b0b0" stroke-width="1"/>
<circle cx="364.01" cy="233.8" r="3.4" fill="#fff" stroke="#b0b0b0" stroke-width="1"/>
<rect x="107.5" y="105.9" width="7" height="7" fill="#000"/>
<rect x="126.96" y="105.9" width="7" height="7" fill="#000"/>
<rect x="146.43" y="105.9" width="7" height="7" fill="#000"/>
<rect x="165.89" y="106.1" width="7" height="7" fill="#000"/>
<rect x="185.35" y="106.75" width="7" height="7" fill="#000"/>
<rect x="204.81" y="109.5" width="7" height="7" fill="#000"/>
<rect x="224.28" y="145.9" width="7" height="7" fill="#000"/>
<rect x="243.74" y="216.9" width="7" height="7" fill="#000"/>
<rect x="263.2" y="232.1" width="7" height="7" fill="#000"/>
<rect x="282.66" y="240.25" width="7" height="7" fill="#000"/>
<rect x="302.12" y="245.25" width="7" height="7" fill="#000"/>
<rect x="321.59" y="246.5" width="7" height="7" fill="#000"/>
<rect x="341.05" y="247.4" width="7" height="7" fill="#000"/>
<rect x="360.51" y="247.75" width="7" height="7" fill="#000"/>
<polygon points="111,102.7 106.5,110.7 115.5,110.7" fill="#000"/>
<polygon points="130.46,102.7 125.96,110.7 134.96,110.7" fill="#000"/>
<polygon points="149.93,102.7 145.43,110.7 154.43,110.7" fill="#000"/>
<polygon points="169.39,102.8 164.89,110.8 173.89,110.8" fill="#000"/>
<polygon points="188.85,124 184.35,132 193.35,132" fill="#000"/>
<polygon points="208.31,195.4 203.81,203.4 212.81,203.4" fill="#000"/>
<polygon points="227.78,209.75 223.28,217.75 232.28,217.75" fill="#000"/>
<polygon points="247.24,217.5 242.74,225.5 251.74,225.5" fill="#000"/>
<polygon points="266.7,227.9 262.2,235.9 271.2,235.9" fill="#000"/>
<polygon points="286.16,232.25 281.66,240.25 290.66,240.25" fill="#000"/>
<polygon points="305.62,234.1 301.12,242.1 310.12,242.1" fill="#000"/>
<polygon points="325.09,234.75 320.59,242.75 329.59,242.75" fill="#000"/>
<polygon points="344.55,235.4 340.05,243.4 349.05,243.4" fill="#000"/>
<polygon points="364.01,235.75 359.51,243.75 368.51,243.75" fill="#000"/>
<polyline points="111.0,463.0 195.0,463.0 202.0,461.5 208.0,458.0 212.0,450.0 215.0,438.0 217.5,425.0 219.5,410.0 221.2,400.0 223.0,380.0 225.0,362.0 226.9,352.5 228.5,357.0 231.9,362.5 235.0,370.0 237.5,382.0 240.0,395.0 243.0,410.0 245.5,425.0 248.0,437.0 251.0,446.0 255.0,452.5 260.0,456.5 266.0,459.0 275.0,460.5 285.0,461.5 300.0,462.5 370.6,463.0" fill="none" stroke="#000" stroke-width="1.9" stroke-linejoin="round" stroke-linecap="round"/>
<polyline points="111.0,462.8 189.4,462.6 200.0,461.5 208.8,457.5 213.0,450.0 216.0,438.0 219.5,420.0 222.8,400.0 225.5,388.0 227.9,382.5 229.5,376.0 231.2,370.0 233.0,372.5 235.0,372.0 236.5,380.0 238.3,392.0 240.0,402.0 241.9,415.0 241.9,423.8 243.8,423.8 245.5,430.0 247.9,433.0 250.0,440.0 252.0,446.0 253.0,440.0 254.5,450.0 256.2,442.0 258.0,452.0 260.0,455.0 261.9,447.0 263.5,455.0 267.0,455.6 269.5,456.0 270.6,450.0 272.0,457.0 278.0,457.5 285.6,457.5 295.0,459.5 305.2,461.2 324.6,462.0 343.8,462.5 363.0,462.5 370.6,462.5" fill="none" stroke="#222222" stroke-width="1.05" stroke-linejoin="round" stroke-linecap="round"/>
<polyline points="111.0,463.0 169.4,463.0 173.0,461.3 175.5,457.0 177.5,450.0 180.0,437.5 181.2,412.5 182.5,400.0 185.0,365.0 186.5,348.0 188.0,337.5 189.0,345.0 190.0,354.6 192.5,400.0 195.0,425.0 198.0,440.0 202.0,449.5 208.8,455.0 218.0,458.0 228.0,459.4 247.9,459.4 267.0,460.0 286.0,461.5 305.0,462.6 324.6,463.0 370.6,463.0" fill="none" stroke="#222222" stroke-width="1.05" stroke-linejoin="round" stroke-linecap="round"/>
<polyline points="111.0,463.0 169.4,463.0 174.0,461.6 177.5,457.5 180.0,450.0 183.1,437.5 185.0,412.5 185.8,400.0 187.2,365.0 189.8,322.0 191.5,352.0 193.5,380.0 196.2,400.0 199.0,425.0 202.0,438.0 205.0,445.0 208.8,449.4 218.0,455.0 228.0,457.5 247.9,458.5 267.0,459.5 286.0,461.0 305.0,462.4 324.6,463.0 370.6,463.0" fill="none" stroke="#222222" stroke-width="1.05" stroke-linejoin="round" stroke-linecap="round"/>
<polyline points="111.0,463.0 160.0,463.0 169.4,462.2 175.0,460.5 178.5,456.5 181.2,450.0 185.0,437.5 186.9,412.5 187.8,403.0 189.8,396.0 191.0,381.0 194.4,371.2 196.0,374.0 198.0,379.4 199.5,388.0 201.2,400.0 204.0,421.0 208.8,438.8 213.0,447.0 218.0,452.0 228.4,455.4 248.1,455.4 267.0,457.3 286.0,459.6 305.0,462.0 324.6,462.8 370.6,463.0" fill="none" stroke="#222222" stroke-width="1.05" stroke-linejoin="round" stroke-linecap="round"/>
<polygon points="111,458.4 115.6,463 111,467.6 106.4,463" fill="#fff" stroke="#c6c6c6" stroke-width="1"/>
<polygon points="130.46,458.4 135.06,463 130.46,467.6 125.86,463" fill="#fff" stroke="#c6c6c6" stroke-width="1"/>
<polygon points="149.93,458.4 154.53,463 149.93,467.6 145.33,463" fill="#fff" stroke="#c6c6c6" stroke-width="1"/>
<polygon points="169.39,458.4 173.99,463 169.39,467.6 164.79,463" fill="#fff" stroke="#c6c6c6" stroke-width="1"/>
<polygon points="188.85,350 193.45,354.6 188.85,359.2 184.25,354.6" fill="#fff" stroke="#c6c6c6" stroke-width="1"/>
<polygon points="208.31,450.4 212.91,455 208.31,459.6 203.71,455" fill="#fff" stroke="#c6c6c6" stroke-width="1"/>
<polygon points="227.78,454.8 232.38,459.4 227.78,464 223.18,459.4" fill="#fff" stroke="#c6c6c6" stroke-width="1"/>
<polygon points="247.24,454.8 251.84,459.4 247.24,464 242.64,459.4" fill="#fff" stroke="#c6c6c6" stroke-width="1"/>
<polygon points="266.7,455.4 271.3,460 266.7,464.6 262.1,460" fill="#fff" stroke="#c6c6c6" stroke-width="1"/>
<polygon points="286.16,456.9 290.76,461.5 286.16,466.1 281.56,461.5" fill="#fff" stroke="#c6c6c6" stroke-width="1"/>
<polygon points="305.62,458 310.23,462.6 305.62,467.2 301.02,462.6" fill="#fff" stroke="#c6c6c6" stroke-width="1"/>
<polygon points="325.09,458.4 329.69,463 325.09,467.6 320.49,463" fill="#fff" stroke="#c6c6c6" stroke-width="1"/>
<polygon points="344.55,458.4 349.15,463 344.55,467.6 339.95,463" fill="#fff" stroke="#c6c6c6" stroke-width="1"/>
<polygon points="364.01,458.4 368.61,463 364.01,467.6 359.41,463" fill="#fff" stroke="#c6c6c6" stroke-width="1"/>
<circle cx="111" cy="463" r="3.6" fill="#fff" stroke="#a8a8a8" stroke-width="1.1"/>
<circle cx="130.46" cy="463" r="3.6" fill="#fff" stroke="#a8a8a8" stroke-width="1.1"/>
<circle cx="149.93" cy="463" r="3.6" fill="#fff" stroke="#a8a8a8" stroke-width="1.1"/>
<circle cx="169.39" cy="463" r="3.6" fill="#fff" stroke="#a8a8a8" stroke-width="1.1"/>
<circle cx="188.85" cy="321.6" r="4.3" fill="#fff" stroke="#a8a8a8" stroke-width="1.1"/>
<circle cx="208.31" cy="449.4" r="3.6" fill="#fff" stroke="#a8a8a8" stroke-width="1.1"/>
<circle cx="227.78" cy="457.5" r="3.6" fill="#fff" stroke="#a8a8a8" stroke-width="1.1"/>
<circle cx="247.24" cy="458.5" r="3.6" fill="#fff" stroke="#a8a8a8" stroke-width="1.1"/>
<circle cx="266.7" cy="459.5" r="3.6" fill="#fff" stroke="#a8a8a8" stroke-width="1.1"/>
<circle cx="286.16" cy="461" r="3.6" fill="#fff" stroke="#a8a8a8" stroke-width="1.1"/>
<circle cx="305.62" cy="462.4" r="3.6" fill="#fff" stroke="#a8a8a8" stroke-width="1.1"/>
<circle cx="325.09" cy="463" r="3.6" fill="#fff" stroke="#a8a8a8" stroke-width="1.1"/>
<circle cx="344.55" cy="463" r="3.6" fill="#fff" stroke="#a8a8a8" stroke-width="1.1"/>
<circle cx="364.01" cy="463" r="3.6" fill="#fff" stroke="#a8a8a8" stroke-width="1.1"/>
<rect x="107.5" y="459.5" width="7" height="7" fill="#000"/>
<rect x="126.96" y="459.5" width="7" height="7" fill="#000"/>
<rect x="146.43" y="459.5" width="7" height="7" fill="#000"/>
<rect x="165.89" y="459.4" width="7" height="7" fill="#000"/>
<rect x="185.35" y="459" width="7" height="7" fill="#000"/>
<rect x="204.81" y="454" width="7" height="7" fill="#000"/>
<rect x="224.28" y="379" width="7" height="7" fill="#000"/>
<rect x="243.74" y="429.5" width="7" height="7" fill="#000"/>
<rect x="263.2" y="452.1" width="7" height="7" fill="#000"/>
<rect x="282.66" y="454" width="7" height="7" fill="#000"/>
<rect x="302.12" y="457.75" width="7" height="7" fill="#000"/>
<rect x="321.59" y="458.5" width="7" height="7" fill="#000"/>
<rect x="341.05" y="459" width="7" height="7" fill="#000"/>
<rect x="360.51" y="459" width="7" height="7" fill="#000"/>
<polygon points="111,456.5 106.5,464.5 115.5,464.5" fill="#000"/>
<polygon points="130.46,456.5 125.96,464.5 134.96,464.5" fill="#000"/>
<polygon points="149.93,456.5 145.43,464.5 154.43,464.5" fill="#000"/>
<polygon points="169.39,456.1 164.89,464.1 173.89,464.1" fill="#000"/>
<polygon points="188.85,390.6 184.35,398.6 193.35,398.6" fill="#000"/>
<polygon points="208.31,433.5 203.81,441.5 212.81,441.5" fill="#000"/>
<polygon points="227.78,450 223.28,458 232.28,458" fill="#000"/>
<polygon points="247.24,450 242.74,458 251.74,458" fill="#000"/>
<polygon points="266.7,452 262.2,460 271.2,460" fill="#000"/>
<polygon points="286.16,454.3 281.66,462.3 290.66,462.3" fill="#000"/>
<polygon points="305.62,456.4 301.12,464.4 310.12,464.4" fill="#000"/>
<polygon points="325.09,456.4 320.59,464.4 329.59,464.4" fill="#000"/>
<polygon points="344.55,456.5 340.05,464.5 349.05,464.5" fill="#000"/>
<polygon points="364.01,456.5 359.51,464.5 368.51,464.5" fill="#000"/>
<line x1="111" y1="100" x2="111" y2="478.88" stroke="#0a0a0a" stroke-width="1.75" stroke-linecap="butt"/>
<line x1="110.12" y1="290.7" x2="371.38" y2="290.7" stroke="#0a0a0a" stroke-width="1.75" stroke-linecap="butt"/>
<line x1="110.12" y1="478" x2="371.38" y2="478" stroke="#0a0a0a" stroke-width="1.75" stroke-linecap="butt"/>
<line x1="103.5" y1="290.7" x2="111" y2="290.7" stroke="#0a0a0a" stroke-width="1.75" stroke-linecap="butt"/>
<line x1="107" y1="272.53" x2="111" y2="272.53" stroke="#0a0a0a" stroke-width="1.75" stroke-linecap="butt"/>
<line x1="103.5" y1="254.36" x2="111" y2="254.36" stroke="#0a0a0a" stroke-width="1.75" stroke-linecap="butt"/>
<line x1="107" y1="236.19" x2="111" y2="236.19" stroke="#0a0a0a" stroke-width="1.75" stroke-linecap="butt"/>
<line x1="103.5" y1="218.02" x2="111" y2="218.02" stroke="#0a0a0a" stroke-width="1.75" stroke-linecap="butt"/>
<line x1="107" y1="199.85" x2="111" y2="199.85" stroke="#0a0a0a" stroke-width="1.75" stroke-linecap="butt"/>
<line x1="103.5" y1="181.68" x2="111" y2="181.68" stroke="#0a0a0a" stroke-width="1.75" stroke-linecap="butt"/>
<line x1="107" y1="163.51" x2="111" y2="163.51" stroke="#0a0a0a" stroke-width="1.75" stroke-linecap="butt"/>
<line x1="103.5" y1="145.34" x2="111" y2="145.34" stroke="#0a0a0a" stroke-width="1.75" stroke-linecap="butt"/>
<line x1="107" y1="127.17" x2="111" y2="127.17" stroke="#0a0a0a" stroke-width="1.75" stroke-linecap="butt"/>
<line x1="103.5" y1="109" x2="111" y2="109" stroke="#0a0a0a" stroke-width="1.75" stroke-linecap="butt"/>
<text x="96.5" y="296.3" font-size="17.3" text-anchor="end" fill="#111">0</text>
<text x="96.5" y="259.96" font-size="17.3" text-anchor="end" fill="#111">20</text>
<text x="96.5" y="223.62" font-size="17.3" text-anchor="end" fill="#111">40</text>
<text x="96.5" y="187.28" font-size="17.3" text-anchor="end" fill="#111">60</text>
<text x="96.5" y="150.94" font-size="17.3" text-anchor="end" fill="#111">80</text>
<text x="96.5" y="114.6" font-size="17.3" text-anchor="end" fill="#111">100</text>
<line x1="175.88" y1="290.7" x2="175.88" y2="298.2" stroke="#0a0a0a" stroke-width="1.75" stroke-linecap="butt"/>
<line x1="240.75" y1="290.7" x2="240.75" y2="298.2" stroke="#0a0a0a" stroke-width="1.75" stroke-linecap="butt"/>
<line x1="305.62" y1="290.7" x2="305.62" y2="298.2" stroke="#0a0a0a" stroke-width="1.75" stroke-linecap="butt"/>
<line x1="370.5" y1="290.7" x2="370.5" y2="294.7" stroke="#0a0a0a" stroke-width="1.75" stroke-linecap="butt"/>
<line x1="103.5" y1="463.25" x2="111" y2="463.25" stroke="#0a0a0a" stroke-width="1.75" stroke-linecap="butt"/>
<line x1="107" y1="433.25" x2="111" y2="433.25" stroke="#0a0a0a" stroke-width="1.75" stroke-linecap="butt"/>
<line x1="103.5" y1="403.25" x2="111" y2="403.25" stroke="#0a0a0a" stroke-width="1.75" stroke-linecap="butt"/>
<line x1="107" y1="373.25" x2="111" y2="373.25" stroke="#0a0a0a" stroke-width="1.75" stroke-linecap="butt"/>
<line x1="103.5" y1="343.25" x2="111" y2="343.25" stroke="#0a0a0a" stroke-width="1.75" stroke-linecap="butt"/>
<line x1="107" y1="313.25" x2="111" y2="313.25" stroke="#0a0a0a" stroke-width="1.75" stroke-linecap="butt"/>
<text x="97" y="468.85" font-size="17.3" text-anchor="end" fill="#111">0.0</text>
<text x="97" y="408.85" font-size="17.3" text-anchor="end" fill="#111">0.2</text>
<text x="97" y="348.85" font-size="17.3" text-anchor="end" fill="#111">0.4</text>
<line x1="111" y1="478" x2="111" y2="485.5" stroke="#0a0a0a" stroke-width="1.75" stroke-linecap="butt"/>
<line x1="143.44" y1="478" x2="143.44" y2="482" stroke="#0a0a0a" stroke-width="1.75" stroke-linecap="butt"/>
<line x1="175.88" y1="478" x2="175.88" y2="485.5" stroke="#0a0a0a" stroke-width="1.75" stroke-linecap="butt"/>
<line x1="208.31" y1="478" x2="208.31" y2="482" stroke="#0a0a0a" stroke-width="1.75" stroke-linecap="butt"/>
<line x1="240.75" y1="478" x2="240.75" y2="485.5" stroke="#0a0a0a" stroke-width="1.75" stroke-linecap="butt"/>
<line x1="273.19" y1="478" x2="273.19" y2="482" stroke="#0a0a0a" stroke-width="1.75" stroke-linecap="butt"/>
<line x1="305.62" y1="478" x2="305.62" y2="485.5" stroke="#0a0a0a" stroke-width="1.75" stroke-linecap="butt"/>
<line x1="338.06" y1="478" x2="338.06" y2="482" stroke="#0a0a0a" stroke-width="1.75" stroke-linecap="butt"/>
<line x1="370.5" y1="478" x2="370.5" y2="485.5" stroke="#0a0a0a" stroke-width="1.75" stroke-linecap="butt"/>
<text x="111" y="504.7" font-size="17.3" text-anchor="middle" fill="#111">500</text>
<text x="175.88" y="504.7" font-size="17.3" text-anchor="middle" fill="#111">600</text>
<text x="240.75" y="504.7" font-size="17.3" text-anchor="middle" fill="#111">700</text>
<text x="305.62" y="504.7" font-size="17.3" text-anchor="middle" fill="#111">800</text>
<text x="370.5" y="504.7" font-size="17.3" text-anchor="middle" fill="#111">900</text>
<text x="235.6" y="524" font-size="21.5" text-anchor="middle" fill="#111">temperature / K</text>
<text x="356.5" y="122.4" font-size="19.6" text-anchor="middle" fill="#111">(a)</text>
<text x="362.4" y="320.6" font-size="19.5" text-anchor="middle" fill="#111">(b)</text>
<text x="55.6" y="196.3" font-size="21.6" text-anchor="middle" fill="#111" transform="rotate(-90 55.6 196.3)">mass / %</text>
<text x="27" y="387.4" font-size="21.6" text-anchor="middle" fill="#111" transform="rotate(-90 27 387.4)">mass loss rate /</text>
<text x="59" y="408.6" font-size="21.6" text-anchor="start" fill="#111" transform="rotate(-90 59 408.6)">% s<tspan font-size="11.8" dy="-13">-1</tspan></text>
</g>
<g id="panel-c">
<line x1="521.5" y1="9.43" x2="521.5" y2="137.68" stroke="#0a0a0a" stroke-width="1.75" stroke-linecap="butt"/>
<line x1="961.5" y1="9.43" x2="961.5" y2="137.68" stroke="#0a0a0a" stroke-width="1.75" stroke-linecap="butt"/>
<line x1="521.5" y1="136.8" x2="961.5" y2="136.8" stroke="#0a0a0a" stroke-width="1.75" stroke-linecap="butt"/>
<line x1="512.5" y1="10.3" x2="521.5" y2="10.3" stroke="#0a0a0a" stroke-width="1.75" stroke-linecap="butt"/>
<line x1="517" y1="36.75" x2="521.5" y2="36.75" stroke="#0a0a0a" stroke-width="1.75" stroke-linecap="butt"/>
<line x1="512.5" y1="62.5" x2="521.5" y2="62.5" stroke="#0a0a0a" stroke-width="1.75" stroke-linecap="butt"/>
<line x1="517" y1="89.4" x2="521.5" y2="89.4" stroke="#0a0a0a" stroke-width="1.75" stroke-linecap="butt"/>
<line x1="512.5" y1="115.4" x2="521.5" y2="115.4" stroke="#0a0a0a" stroke-width="1.75" stroke-linecap="butt"/>
<line x1="961.5" y1="10.3" x2="970" y2="10.3" stroke="#0a0a0a" stroke-width="1.75" stroke-linecap="butt"/>
<line x1="961.5" y1="67.6" x2="966" y2="67.6" stroke="#0a0a0a" stroke-width="1.75" stroke-linecap="butt"/>
<line x1="961.5" y1="125" x2="970" y2="125" stroke="#0a0a0a" stroke-width="1.75" stroke-linecap="butt"/>
<line x1="521.5" y1="136.8" x2="521.5" y2="144.8" stroke="#0a0a0a" stroke-width="1.75" stroke-linecap="butt"/>
<line x1="552.93" y1="136.8" x2="552.93" y2="140.5" stroke="#0a0a0a" stroke-width="1.75" stroke-linecap="butt"/>
<line x1="584.36" y1="136.8" x2="584.36" y2="144.8" stroke="#0a0a0a" stroke-width="1.75" stroke-linecap="butt"/>
<line x1="615.79" y1="136.8" x2="615.79" y2="140.5" stroke="#0a0a0a" stroke-width="1.75" stroke-linecap="butt"/>
<line x1="647.21" y1="136.8" x2="647.21" y2="144.8" stroke="#0a0a0a" stroke-width="1.75" stroke-linecap="butt"/>
<line x1="678.64" y1="136.8" x2="678.64" y2="140.5" stroke="#0a0a0a" stroke-width="1.75" stroke-linecap="butt"/>
<line x1="710.07" y1="136.8" x2="710.07" y2="144.8" stroke="#0a0a0a" stroke-width="1.75" stroke-linecap="butt"/>
<line x1="741.5" y1="136.8" x2="741.5" y2="140.5" stroke="#0a0a0a" stroke-width="1.75" stroke-linecap="butt"/>
<line x1="772.93" y1="136.8" x2="772.93" y2="144.8" stroke="#0a0a0a" stroke-width="1.75" stroke-linecap="butt"/>
<line x1="804.36" y1="136.8" x2="804.36" y2="140.5" stroke="#0a0a0a" stroke-width="1.75" stroke-linecap="butt"/>
<line x1="835.79" y1="136.8" x2="835.79" y2="144.8" stroke="#0a0a0a" stroke-width="1.75" stroke-linecap="butt"/>
<line x1="867.21" y1="136.8" x2="867.21" y2="140.5" stroke="#0a0a0a" stroke-width="1.75" stroke-linecap="butt"/>
<line x1="898.64" y1="136.8" x2="898.64" y2="144.8" stroke="#0a0a0a" stroke-width="1.75" stroke-linecap="butt"/>
<line x1="930.07" y1="136.8" x2="930.07" y2="140.5" stroke="#0a0a0a" stroke-width="1.75" stroke-linecap="butt"/>
<line x1="961.5" y1="136.8" x2="961.5" y2="144.8" stroke="#0a0a0a" stroke-width="1.75" stroke-linecap="butt"/>
<polyline points="521.5,125.0 521.8,125.0 522.2,125.0 522.7,125.0 523.3,125.0 523.8,125.0 524.4,125.0 525.0,125.0 525.6,125.0 526.2,124.9 526.6,124.9 527.0,124.8 527.6,124.4 527.8,123.9 528.1,123.5 528.8,123.2 529.1,123.2 529.3,123.2 529.6,123.2 529.8,123.3 530.1,123.3 530.4,123.4 530.8,123.5 531.4,123.5 532.0,123.6 532.8,123.7 533.8,123.8 535.0,123.8 535.3,123.8 535.7,123.8 536.0,123.8 536.4,123.8 536.8,123.8 537.3,123.8 537.7,123.9 538.2,123.9 538.7,123.9 539.2,123.9 539.7,123.9 540.2,123.9 540.8,123.9 541.3,123.9 541.9,123.9 542.4,123.9 543.0,123.9 543.6,123.9 544.2,123.9 544.8,123.9 545.4,123.9 546.0,123.9 546.6,124.0 547.2,124.0 547.8,124.0 548.4,124.0 549.0,124.0 549.6,124.0 550.2,124.0 550.8,124.0 551.4,124.0 552.0,124.0 552.5,124.0 553.1,124.0 553.6,124.0 554.2,124.0 554.7,124.0 555.2,124.0 555.7,124.0 556.2,124.0 556.7,124.0 557.1,124.0 557.6,124.0 558.0,124.0 558.4,124.0 558.7,124.0 559.1,124.0 559.4,124.0 559.7,124.0 560.0,124.0 561.5,124.0 561.5,124.0 561.5,123.6 561.7,123.3 562.0,123.0 562.2,122.6 562.5,122.2 562.7,121.6 563.0,120.9 563.2,120.0 563.3,119.6 563.3,119.3 563.4,118.9 563.5,118.5 563.6,118.0 563.6,117.6 563.7,117.1 563.7,116.6 563.8,116.1 563.9,115.6 563.9,115.1 564.0,114.5 564.1,114.0 564.1,113.4 564.2,112.9 564.2,112.3 564.3,111.7 564.4,111.2 564.4,110.6 564.5,110.0 564.6,109.5 564.6,109.1 564.7,108.5 564.7,108.0 564.8,107.4 564.8,106.9 564.9,106.3 564.9,105.7 565.0,105.1 565.0,104.5 565.1,103.9 565.1,103.3 565.2,102.7 565.2,102.1 565.3,101.5 565.3,101.0 565.4,100.4 565.4,99.9 565.5,99.4 565.5,99.0 565.6,98.5 565.6,98.1 565.7,97.8 565.7,97.5 565.8,97.2 565.8,97.0 566.0,96.5 566.2,96.7 566.4,97.3 566.6,98.2 566.8,99.1 567.0,100.0 567.1,100.4 567.2,100.8 567.3,101.3 567.4,101.8 567.4,102.3 567.5,102.9 567.6,103.4 567.7,104.0 567.8,104.5 567.9,105.0 567.9,105.5 568.0,106.0 568.1,106.5 568.2,107.0 568.2,107.5 568.3,107.9 568.4,108.4 568.5,108.8 568.5,109.3 568.6,109.8 568.7,110.4 568.8,111.0 568.8,111.4 568.8,111.9 568.9,112.4 568.9,112.9 569.0,113.4 569.0,114.0 569.0,114.5 569.1,115.1 569.1,115.7 569.1,116.2 569.2,116.7 569.2,117.3 569.3,117.7 569.3,118.2 569.4,118.6 569.4,119.0 569.5,119.8 569.7,120.5 569.8,121.1 570.0,121.5 570.1,121.9 570.3,122.3 570.6,122.9 571.0,123.2 571.5,123.5 571.5,123.7 571.5,123.8 571.5,124.0 572.0,124.1 574.0,124.2 574.3,124.2 574.6,124.2 574.9,124.2 575.2,124.2 575.6,124.2 576.0,124.2 576.4,124.2 576.8,124.2 577.2,124.3 577.6,124.3 578.1,124.3 578.5,124.3 579.0,124.3 579.5,124.3 580.0,124.3 580.5,124.3 581.0,124.3 581.5,124.3 582.0,124.3 582.6,124.3 583.1,124.3 583.7,124.3 584.2,124.3 584.8,124.3 585.3,124.3 585.9,124.3 586.5,124.3 587.1,124.3 587.6,124.3 588.2,124.3 588.8,124.3 589.4,124.3 589.9,124.3 590.5,124.3 591.1,124.3 591.7,124.3 592.2,124.3 592.8,124.3 593.4,124.3 593.9,124.3 594.5,124.3 595.0,124.3 595.6,124.3 596.1,124.3 596.6,124.3 597.1,124.3 597.6,124.3 598.1,124.3 598.6,124.3 599.1,124.3 599.6,124.3 600.0,124.3 600.6,124.3 601.1,124.3 601.7,124.3 602.3,124.3 602.9,124.3 603.4,124.3 604.0,124.3 604.6,124.3 605.1,124.3 605.7,124.3 606.2,124.3 606.8,124.3 607.3,124.4 607.9,124.4 608.4,124.4 609.0,124.4 609.5,124.4 610.0,124.4 610.6,124.4 611.1,124.4 611.6,124.4 612.1,124.4 612.6,124.4 613.1,124.4 613.6,124.4 614.1,124.4 614.5,124.4 615.0,124.4 615.5,124.4 615.9,124.4 616.4,124.4 616.8,124.4 617.2,124.4 617.7,124.4 618.1,124.4 618.5,124.4 618.9,124.4 619.3,124.4 619.6,124.4 620.0,124.4 620.8,124.4 621.6,124.4 622.3,124.4 622.9,124.4 623.6,124.4 624.1,124.4 624.7,124.4 625.2,124.4 625.6,124.4 626.1,124.4 626.5,124.3 626.9,124.3 627.3,124.3 627.6,124.2 628.0,124.2 628.4,124.1 628.8,124.0 629.4,123.8 629.9,123.7 630.4,123.5 630.8,123.3 631.2,123.1 631.5,122.8 631.8,122.4 632.1,121.9 632.5,121.2 632.7,120.9 632.8,120.5 633.0,120.1 633.2,119.6 633.3,119.1 633.5,118.5 633.6,118.0 633.8,117.4 633.9,116.8 634.1,116.2 634.2,115.6 634.4,115.1 634.5,114.5 634.7,113.9 634.8,113.4 635.0,112.9 635.1,112.4 635.3,112.0 635.4,111.6 635.6,111.2 636.0,110.6 636.4,110.1 636.7,109.8 637.1,109.6 637.5,109.4 637.9,109.2 638.3,109.0 638.8,108.8 639.1,108.4 639.6,108.0 640.0,107.5 640.5,107.1 640.9,106.6 641.4,106.2 641.8,105.8 642.2,105.6 642.6,105.5 643.0,105.6 643.2,105.8 643.5,106.1 643.7,106.5 643.9,106.9 644.1,107.4 644.2,108.0 644.4,108.6 644.6,109.2 644.8,109.8 644.9,110.4 645.1,111.0 645.3,111.6 645.4,112.1 645.6,112.5 645.9,113.1 646.1,113.7 646.4,114.3 646.6,114.9 646.9,115.4 647.1,115.9 647.4,116.3 647.6,116.7 647.8,116.8 648.0,116.9 648.2,116.8 648.4,116.6 648.5,116.3 648.7,116.0 648.8,115.5 648.9,114.9 649.1,114.3 649.2,113.6 649.3,112.8 649.5,112.0 649.6,111.6 649.6,111.2 649.7,110.7 649.8,110.2 649.9,109.7 649.9,109.1 650.0,108.5 650.1,107.9 650.2,107.2 650.3,106.6 650.3,106.0 650.4,105.3 650.5,104.7 650.6,104.1 650.6,103.5 650.7,102.9 650.8,102.4 650.9,101.9 650.9,101.4 651.0,101.0 651.1,100.7 651.1,100.4 651.2,100.2 651.2,100.0 651.4,99.9 651.5,99.9 651.5,100.2 651.6,100.6 651.7,101.1 651.8,101.8 651.9,102.5 651.9,103.2 652.0,104.0 652.1,104.7 652.1,105.4 652.2,106.0 652.3,106.5 652.3,107.0 652.3,107.6 652.4,108.1 652.4,108.7 652.4,109.3 652.4,110.0 652.5,110.5 652.5,111.1 652.6,111.7 652.6,112.2 652.7,112.7 652.8,113.1 652.9,113.5 653.0,113.8 653.4,114.1 653.8,114.1 654.4,113.9 654.9,113.7 655.6,113.6 656.2,113.8 656.6,114.0 656.9,114.2 657.2,114.5 657.6,114.9 657.9,115.2 658.3,115.6 658.6,116.0 659.0,116.4 659.4,116.9 659.8,117.3 660.1,117.7 660.5,118.1 660.9,118.4 661.2,118.8 661.7,119.1 662.1,119.5 662.5,119.8 663.0,120.2 663.4,120.5 663.8,120.8 664.3,121.2 664.7,121.5 665.1,121.8 665.5,122.0 665.9,122.3 666.2,122.5 666.7,122.8 667.0,123.1 667.2,123.3 667.4,123.5 667.8,123.6 668.2,123.8 669.0,123.9 670.0,124.0 670.3,124.0 670.6,124.0 671.0,124.1 671.3,124.1 671.7,124.1 672.1,124.1 672.4,124.1 672.8,124.2 673.2,124.2 673.7,124.2 674.1,124.2 674.5,124.2 675.0,124.2 675.5,124.2 675.9,124.2 676.4,124.2 676.9,124.2 677.4,124.2 678.0,124.2 678.5,124.2 679.1,124.2 679.6,124.2 680.2,124.2 680.8,124.2 681.4,124.2 682.0,124.2 682.7,124.2 683.3,124.2 684.0,124.2 684.6,124.2 685.3,124.2 686.0,124.2 686.4,124.2 686.8,124.2 687.2,124.2 687.7,124.2 688.1,124.2 688.6,124.2 689.1,124.2 689.5,124.2 690.0,124.2 690.5,124.2 691.1,124.2 691.6,124.2 692.1,124.2 692.7,124.2 693.2,124.2 693.8,124.2 694.3,124.2 694.9,124.2 695.4,124.2 696.0,124.2 696.6,124.2 697.2,124.2 697.8,124.2 698.3,124.2 698.9,124.2 699.5,124.2 700.1,124.2 700.7,124.2 701.3,124.2 701.8,124.2 702.4,124.2 703.0,124.2 703.6,124.2 704.1,124.2 704.7,124.2 705.3,124.2 705.8,124.2 706.4,124.2 706.9,124.2 707.4,124.2 708.0,124.2 708.5,124.2 709.0,124.2 709.5,124.2 710.0,124.2 710.4,124.1 710.9,124.1 711.3,124.1 711.8,124.1 712.2,124.1 712.6,124.1 713.0,124.1 713.4,124.1 713.7,124.1 714.1,124.0 714.4,124.0 714.7,124.0 715.0,124.0 716.7,123.8 717.7,123.6 718.2,123.3 718.4,123.1 718.4,122.8 718.3,122.6 718.4,122.4 718.8,122.3 719.2,122.3 719.6,122.4 720.1,122.5 720.6,122.7 721.1,122.9 721.6,123.0 722.1,123.2 722.6,123.4 723.2,123.5 723.8,123.5 724.2,123.5 724.7,123.4 725.2,123.3 725.7,123.2 726.2,123.1 726.7,123.0 727.2,122.8 727.8,122.7 728.3,122.6 728.9,122.5 729.4,122.5 730.0,122.5 730.4,122.5 730.8,122.6 731.2,122.7 731.5,122.9 731.8,123.0 732.1,123.1 732.5,123.3 732.8,123.5 733.3,123.6 733.7,123.8 734.3,124.0 734.9,124.1 735.7,124.2 736.5,124.3 737.5,124.4 737.8,124.4 738.2,124.4 738.5,124.4 738.9,124.5 739.3,124.5 739.7,124.5 740.1,124.5 740.5,124.5 741.0,124.5 741.4,124.5 741.9,124.5 742.3,124.5 742.8,124.5 743.3,124.5 743.7,124.5 744.2,124.5 744.7,124.5 745.2,124.5 745.8,124.5 746.3,124.5 746.8,124.5 747.3,124.5 747.9,124.5 748.4,124.5 748.9,124.5 749.5,124.5 750.0,124.5 750.6,124.5 751.1,124.5 751.7,124.5 752.3,124.5 752.8,124.5 753.4,124.4 753.9,124.4 754.5,124.4 755.0,124.4 755.6,124.4 756.2,124.4 756.7,124.4 757.3,124.4 757.8,124.4 758.3,124.4 758.9,124.3 759.4,124.3 759.9,124.3 760.5,124.3 761.0,124.3 761.5,124.3 762.0,124.3 762.5,124.3 763.0,124.3 763.5,124.3 764.0,124.3 764.5,124.2 765.0,124.2 765.6,124.2 766.1,124.2 766.6,124.2 767.2,124.2 767.7,124.2 768.2,124.2 768.8,124.1 769.3,124.1 769.8,124.1 770.4,124.1 770.9,124.1 771.4,124.1 772.0,124.0 772.5,124.0 773.1,124.0 773.6,124.0 774.1,124.0 774.7,124.0 775.2,124.0 775.7,123.9 776.2,123.9 776.8,123.9 777.3,123.9 777.8,123.9 778.3,123.9 778.8,123.8 779.3,123.8 779.8,123.8 780.3,123.8 780.8,123.8 781.3,123.8 781.8,123.7 782.2,123.7 782.7,123.7 783.1,123.7 783.6,123.7 784.0,123.7 784.5,123.7 784.9,123.6 785.3,123.6 785.7,123.6 786.1,123.6 786.5,123.6 787.2,123.6 787.9,123.6 788.5,123.5 789.1,123.5 789.7,123.5 790.3,123.5 790.9,123.5 791.4,123.5 791.9,123.4 792.4,123.4 792.9,123.4 793.4,123.4 793.9,123.4 794.3,123.4 794.8,123.4 795.2,123.3 795.7,123.3 796.1,123.3 796.5,123.3 796.9,123.3 797.4,123.3 797.8,123.3 798.2,123.3 798.7,123.2 799.1,123.2 799.5,123.2 800.0,123.2 800.6,123.2 801.1,123.2 801.7,123.2 802.3,123.1 802.9,123.1 803.4,123.1 804.0,123.1 804.6,123.1 805.1,123.1 805.7,123.1 806.2,123.0 806.8,123.0 807.3,123.0 807.8,123.0 808.3,123.0 808.8,123.0 809.2,123.0 809.7,123.0 810.1,122.9 810.5,122.9 810.9,122.9 811.2,122.9 812.2,122.9 812.9,122.9 813.5,122.8 813.9,122.8 814.3,122.8 814.6,122.7 815.0,122.5 815.4,122.2 815.8,121.9 816.1,121.5 816.4,121.1 816.7,120.6 817.0,120.0 817.2,119.6 817.4,119.3 817.5,119.0 817.7,118.7 817.9,118.3 818.1,117.8 818.2,117.3 818.4,116.7 818.6,115.9 818.8,115.0 818.8,114.7 818.9,114.3 818.9,113.9 819.0,113.5 819.0,113.1 819.1,112.7 819.2,112.2 819.2,111.7 819.3,111.3 819.3,110.8 819.4,110.3 819.4,109.8 819.5,109.2 819.6,108.7 819.6,108.2 819.7,107.6 819.7,107.1 819.8,106.6 819.8,106.0 819.9,105.4 820.0,104.9 820.0,104.3 820.1,103.8 820.1,103.2 820.2,102.7 820.3,102.1 820.3,101.6 820.4,101.0 820.4,100.5 820.5,100.0 820.6,99.5 820.6,99.0 820.7,98.4 820.7,97.8 820.8,97.2 820.9,96.6 820.9,96.0 821.0,95.4 821.1,94.7 821.1,94.1 821.2,93.4 821.2,92.8 821.3,92.1 821.4,91.5 821.4,90.8 821.5,90.2 821.6,89.6 821.6,89.0 821.7,88.4 821.8,87.8 821.8,87.3 821.9,86.8 821.9,86.3 822.0,85.9 822.1,85.5 822.1,85.2 822.2,84.8 822.3,84.6 822.3,84.3 822.4,84.2 822.4,84.1 822.5,84.0 822.6,84.0 822.6,84.1 822.7,84.2 822.8,84.4 822.8,84.7 822.9,85.1 823.0,85.4 823.0,85.9 823.1,86.4 823.2,86.9 823.2,87.4 823.3,88.0 823.3,88.6 823.4,89.2 823.5,89.9 823.5,90.6 823.6,91.2 823.7,91.9 823.7,92.6 823.8,93.3 823.8,93.9 823.9,94.6 824.0,95.2 824.0,95.8 824.1,96.4 824.2,97.0 824.2,97.5 824.3,98.0 824.4,98.5 824.5,99.1 824.5,99.6 824.6,100.2 824.7,100.7 824.8,101.3 824.9,101.8 824.9,102.3 825.0,102.9 825.1,103.4 825.2,103.9 825.3,104.4 825.4,104.9 825.4,105.5 825.5,106.0 825.6,106.4 825.7,106.9 825.8,107.4 825.9,107.9 825.9,108.3 826.0,108.8 826.1,109.2 826.2,109.6 826.2,110.0 826.4,110.7 826.5,111.3 826.6,111.9 826.8,112.5 826.9,113.0 827.0,113.5 827.1,114.0 827.2,114.5 827.4,115.0 827.5,115.4 827.6,115.8 827.7,116.2 827.9,116.6 828.0,117.0 828.2,117.6 828.5,118.2 828.7,118.8 829.0,119.3 829.3,119.7 829.5,120.1 829.8,120.4 830.0,120.6 830.6,120.6 831.1,120.1 831.6,119.5 832.0,119.4 832.3,119.5 832.7,119.1 833.0,117.5 833.0,117.2 833.1,116.9 833.1,116.6 833.1,116.3 833.2,116.0 833.2,115.7 833.2,115.4 833.3,115.0 833.3,114.7 833.3,114.3 833.3,113.9 833.4,113.5 833.4,113.1 833.4,112.7 833.5,112.3 833.5,111.8 833.5,111.4 833.5,110.9 833.6,110.4 833.6,109.9 833.6,109.4 833.6,108.8 833.7,108.3 833.7,107.7 833.7,107.1 833.8,106.5 833.8,105.8 833.8,105.2 833.8,104.5 833.9,103.8 833.9,103.1 833.9,102.4 833.9,101.6 834.0,100.8 834.0,100.0 834.0,99.6 834.0,99.2 834.0,98.8 834.0,98.4 834.1,98.0 834.1,97.6 834.1,97.1 834.1,96.6 834.1,96.1 834.1,95.6 834.1,95.1 834.1,94.6 834.2,94.1 834.2,93.5 834.2,93.0 834.2,92.4 834.2,91.8 834.2,91.2 834.2,90.7 834.2,90.1 834.3,89.5 834.3,88.8 834.3,88.2 834.3,87.6 834.3,87.0 834.3,86.3 834.3,85.7 834.4,85.1 834.4,84.4 834.4,83.8 834.4,83.1 834.4,82.5 834.4,81.9 834.4,81.2 834.4,80.6 834.5,79.9 834.5,79.3 834.5,78.6 834.5,78.0 834.5,77.3 834.5,76.7 834.5,76.1 834.5,75.5 834.5,74.8 834.6,74.2 834.6,73.6 834.6,73.0 834.6,72.4 834.6,71.8 834.6,71.2 834.6,70.7 834.6,70.1 834.7,69.5 834.7,69.0 834.7,68.5 834.7,67.9 834.7,67.4 834.7,66.9 834.7,66.4 834.8,66.0 834.8,65.5 834.8,65.0 834.8,64.6 834.8,64.2 834.8,63.8 834.8,63.4 834.8,63.0 834.9,62.7 834.9,62.4 834.9,62.0 834.9,61.7 834.9,61.5 834.9,61.2 834.9,61.0 834.9,60.8 835.0,60.6 835.0,60.4 835.0,60.2 835.0,60.1 835.0,60.0 835.0,59.9 835.0,59.8 835.1,59.8 835.1,59.8 835.1,59.9 835.1,60.1 835.1,60.3 835.2,60.5 835.2,60.8 835.2,61.1 835.2,61.5 835.2,61.8 835.2,62.3 835.3,62.7 835.3,63.2 835.3,63.7 835.3,64.3 835.3,64.9 835.4,65.5 835.4,66.1 835.4,66.7 835.4,67.4 835.4,68.1 835.5,68.7 835.5,69.4 835.5,70.1 835.5,70.9 835.5,71.6 835.5,72.3 835.6,73.0 835.6,73.8 835.6,74.5 835.6,75.2 835.6,75.9 835.7,76.6 835.7,77.3 835.7,78.0 835.7,78.7 835.7,79.3 835.8,80.0 835.8,80.6 835.8,81.2 835.8,81.8 835.9,82.3 835.9,82.9 835.9,83.4 835.9,83.8 836.0,84.2 836.0,84.6 836.0,85.0 836.1,85.9 836.1,86.7 836.2,87.5 836.3,88.2 836.4,88.8 836.5,89.4 836.6,89.9 836.6,90.4 836.7,90.8 836.8,91.3 836.9,91.6 837.0,92.0 837.1,92.3 837.2,92.7 837.3,93.0 837.3,93.3 837.4,93.7 837.5,94.0 837.7,94.7 837.8,95.1 838.0,95.4 838.1,95.7 838.3,96.0 838.5,96.6 838.8,97.5 838.8,97.8 838.9,98.2 839.0,98.6 839.1,99.1 839.2,99.6 839.3,100.1 839.4,100.6 839.5,101.1 839.6,101.7 839.7,102.3 839.8,102.8 839.9,103.4 840.0,104.0 840.1,104.6 840.2,105.2 840.4,105.8 840.5,106.3 840.6,106.9 840.7,107.4 840.8,107.9 840.9,108.4 841.0,108.8 841.1,109.3 841.2,109.6 841.2,110.0 841.5,110.9 841.7,111.6 842.0,112.1 842.2,112.6 842.4,112.9 842.6,113.2 842.8,113.6 843.0,114.0 843.2,114.5 843.5,115.0 843.8,115.5 844.0,116.0 844.3,116.5 844.5,116.9 844.8,117.3 845.0,117.5 845.5,117.5 846.0,117.0 846.5,117.0 846.7,117.3 847.0,117.8 847.2,118.3 847.5,118.9 847.7,119.6 848.0,120.2 848.3,120.7 848.5,121.0 848.8,121.2 849.1,121.2 849.4,121.0 849.6,120.5 849.9,119.9 850.2,119.3 850.5,118.8 850.7,118.3 851.0,117.8 851.3,117.3 851.5,116.8 851.8,116.3 852.0,115.8 852.3,115.4 852.5,115.0 852.9,114.6 853.3,114.5 853.8,113.8 853.9,113.4 854.0,113.0 854.1,112.6 854.3,112.1 854.4,111.6 854.6,111.1 854.7,110.5 854.9,109.9 855.1,109.4 855.2,108.8 855.4,108.3 855.5,107.8 855.7,107.4 855.8,107.0 856.1,106.3 856.3,105.6 856.6,105.0 856.8,104.5 857.1,104.1 857.3,103.8 857.5,103.8 857.7,103.9 857.9,104.3 858.1,104.8 858.3,105.4 858.4,106.1 858.6,106.8 858.8,107.5 858.9,108.0 859.0,108.5 859.1,109.0 859.3,109.5 859.4,110.0 859.5,110.6 859.6,111.1 859.7,111.6 859.9,112.1 860.0,112.5 860.2,113.1 860.5,113.8 860.8,114.4 861.1,115.0 861.3,115.4 861.6,115.6 861.9,115.6 862.1,115.5 862.3,115.2 862.4,115.0 862.6,114.6 862.8,114.2 863.0,113.7 863.1,113.1 863.3,112.4 863.5,111.7 863.6,110.9 863.8,110.0 863.8,109.7 863.8,109.3 863.9,108.9 863.9,108.5 864.0,108.2 864.0,107.8 864.0,107.4 864.1,106.9 864.1,106.5 864.1,106.1 864.2,105.6 864.2,105.2 864.2,104.7 864.3,104.2 864.3,103.7 864.3,103.2 864.4,102.7 864.4,102.2 864.4,101.6 864.5,101.1 864.5,100.5 864.5,100.0 864.5,99.4 864.6,98.8 864.6,98.2 864.6,97.6 864.7,96.9 864.7,96.3 864.8,95.7 864.8,95.0 864.8,94.6 864.9,94.1 864.9,93.7 864.9,93.2 864.9,92.7 865.0,92.2 865.0,91.6 865.0,91.1 865.0,90.5 865.1,89.9 865.1,89.3 865.1,88.7 865.1,88.0 865.2,87.4 865.2,86.8 865.2,86.1 865.3,85.4 865.3,84.8 865.3,84.1 865.3,83.5 865.4,82.8 865.4,82.1 865.4,81.5 865.5,80.8 865.5,80.2 865.5,79.5 865.6,78.9 865.6,78.3 865.6,77.7 865.6,77.1 865.7,76.5 865.7,75.9 865.7,75.4 865.8,74.9 865.8,74.4 865.8,73.9 865.9,73.4 865.9,73.0 865.9,72.5 865.9,72.2 866.0,71.8 866.0,71.5 866.0,71.2 866.1,70.9 866.1,70.6 866.1,70.4 866.2,70.3 866.2,70.1 866.2,70.1 866.2,70.0 866.3,70.0 866.3,70.0 866.4,70.1 866.4,70.3 866.4,70.5 866.5,70.7 866.5,71.0 866.5,71.3 866.6,71.6 866.6,72.0 866.6,72.4 866.7,72.9 866.7,73.4 866.7,73.9 866.8,74.4 866.8,75.0 866.8,75.5 866.9,76.1 866.9,76.8 866.9,77.4 867.0,78.0 867.0,78.7 867.0,79.4 867.1,80.0 867.1,80.7 867.2,81.4 867.2,82.1 867.2,82.8 867.3,83.4 867.3,84.1 867.3,84.8 867.4,85.5 867.4,86.1 867.4,86.7 867.5,87.4 867.5,88.0 867.5,88.6 867.6,89.1 867.6,89.7 867.7,90.2 867.7,90.7 867.7,91.2 867.8,91.6 867.8,92.0 867.9,92.7 867.9,93.4 868.0,94.0 868.1,94.7 868.1,95.3 868.2,95.9 868.3,96.5 868.4,97.1 868.4,97.6 868.5,98.1 868.6,98.7 868.6,99.2 868.7,99.6 868.8,100.1 868.9,100.6 868.9,101.0 869.0,101.4 869.1,101.8 869.1,102.2 869.2,102.6 869.3,103.0 869.4,103.3 869.4,103.7 869.5,104.0 869.8,105.0 870.0,105.9 870.3,106.7 870.5,107.2 870.8,107.5 871.0,107.7 871.2,107.5 871.4,107.3 871.5,107.1 871.6,106.9 871.6,106.6 871.7,106.3 871.8,105.9 871.9,105.5 872.0,105.0 872.1,104.4 872.2,103.8 872.3,103.2 872.4,102.5 872.5,101.7 872.6,100.9 872.7,100.0 872.7,99.7 872.8,99.3 872.8,99.0 872.9,98.6 872.9,98.2 873.0,97.9 873.0,97.5 873.0,97.1 873.1,96.7 873.1,96.3 873.2,96.0 873.2,95.5 873.3,95.1 873.3,94.7 873.4,94.3 873.4,93.9 873.5,93.4 873.5,93.0 873.5,92.5 873.6,92.0 873.6,91.5 873.7,91.1 873.7,90.6 873.8,90.0 873.8,89.5 873.9,89.0 873.9,88.4 874.0,87.9 874.0,87.3 874.1,86.7 874.1,86.1 874.2,85.5 874.2,84.8 874.2,84.2 874.3,83.5 874.3,82.9 874.4,82.2 874.4,81.5 874.5,80.7 874.5,80.0 874.5,79.6 874.5,79.2 874.6,78.8 874.6,78.4 874.6,78.0 874.6,77.6 874.6,77.2 874.7,76.7 874.7,76.3 874.7,75.8 874.7,75.4 874.7,74.9 874.8,74.5 874.8,74.0 874.8,73.5 874.8,73.0 874.8,72.5 874.9,72.0 874.9,71.5 874.9,71.0 874.9,70.5 874.9,70.0 875.0,69.5 875.0,69.0 875.0,68.4 875.0,67.9 875.0,67.4 875.1,66.8 875.1,66.3 875.1,65.8 875.1,65.2 875.1,64.7 875.2,64.1 875.2,63.6 875.2,63.0 875.2,62.5 875.2,61.9 875.2,61.4 875.3,60.8 875.3,60.2 875.3,59.7 875.3,59.1 875.3,58.6 875.4,58.0 875.4,57.5 875.4,56.9 875.4,56.4 875.4,55.8 875.5,55.3 875.5,54.7 875.5,54.2 875.5,53.6 875.5,53.1 875.5,52.5 875.6,52.0 875.6,51.5 875.6,50.9 875.6,50.4 875.6,49.9 875.7,49.3 875.7,48.8 875.7,48.3 875.7,47.8 875.7,47.3 875.7,46.8 875.8,46.3 875.8,45.8 875.8,45.3 875.8,44.8 875.8,44.4 875.8,43.9 875.9,43.4 875.9,43.0 875.9,42.5 875.9,42.1 875.9,41.7 875.9,41.2 876.0,40.8 876.0,40.4 876.0,40.0 876.0,39.3 876.1,38.6 876.1,38.0 876.1,37.3 876.1,36.6 876.2,35.9 876.2,35.2 876.2,34.5 876.2,33.8 876.3,33.0 876.3,32.3 876.3,31.6 876.3,30.9 876.4,30.2 876.4,29.5 876.4,28.9 876.4,28.2 876.5,27.5 876.5,26.8 876.5,26.2 876.5,25.5 876.6,24.9 876.6,24.3 876.6,23.7 876.6,23.1 876.7,22.5 876.7,22.0 876.7,21.4 876.7,20.9 876.8,20.4 876.8,19.9 876.8,19.5 876.8,19.0 876.9,18.6 876.9,18.3 876.9,17.9 876.9,17.6 877.0,17.3 877.0,17.0 877.0,16.7 877.0,16.5 877.1,16.4 877.1,16.2 877.1,16.1 877.1,16.0 877.2,16.0 877.2,16.0 877.2,16.0 877.2,16.1 877.2,16.1 877.3,16.3 877.3,16.4 877.3,16.6 877.3,16.8 877.3,17.0 877.4,17.2 877.4,17.5 877.4,17.8 877.4,18.1 877.4,18.4 877.5,18.8 877.5,19.2 877.5,19.6 877.5,20.0 877.6,20.4 877.6,20.9 877.6,21.4 877.6,21.8 877.6,22.3 877.7,22.9 877.7,23.4 877.7,23.9 877.7,24.5 877.7,25.1 877.8,25.6 877.8,26.2 877.8,26.8 877.8,27.4 877.8,28.0 877.9,28.7 877.9,29.3 877.9,29.9 877.9,30.6 877.9,31.2 878.0,31.8 878.0,32.5 878.0,33.1 878.0,33.8 878.0,34.5 878.1,35.1 878.1,35.8 878.1,36.4 878.1,37.1 878.2,37.7 878.2,38.4 878.2,39.0 878.2,39.6 878.2,40.3 878.3,40.9 878.3,41.5 878.3,42.1 878.3,42.7 878.3,43.3 878.4,43.9 878.4,44.4 878.4,45.0 878.4,45.5 878.4,45.9 878.5,46.4 878.5,46.9 878.5,47.3 878.5,47.8 878.5,48.3 878.5,48.8 878.6,49.3 878.6,49.8 878.6,50.3 878.6,50.8 878.6,51.3 878.6,51.8 878.6,52.3 878.7,52.8 878.7,53.3 878.7,53.9 878.7,54.4 878.7,54.9 878.7,55.4 878.8,55.9 878.8,56.5 878.8,57.0 878.8,57.5 878.8,58.0 878.8,58.6 878.9,59.1 878.9,59.6 878.9,60.2 878.9,60.7 878.9,61.2 878.9,61.8 879.0,62.3 879.0,62.8 879.0,63.4 879.0,63.9 879.0,64.4 879.0,64.9 879.1,65.5 879.1,66.0 879.1,66.5 879.1,67.0 879.1,67.6 879.1,68.1 879.2,68.6 879.2,69.1 879.2,69.6 879.2,70.1 879.2,70.6 879.2,71.1 879.3,71.7 879.3,72.1 879.3,72.6 879.3,73.1 879.3,73.6 879.3,74.1 879.4,74.6 879.4,75.1 879.4,75.5 879.4,76.0 879.4,76.5 879.5,76.9 879.5,77.4 879.5,77.8 879.5,78.3 879.5,78.7 879.6,79.1 879.6,79.6 879.6,80.0 879.6,80.6 879.7,81.2 879.7,81.9 879.7,82.5 879.8,83.1 879.8,83.7 879.8,84.3 879.9,84.9 879.9,85.5 879.9,86.1 880.0,86.7 880.0,87.3 880.0,87.8 880.1,88.4 880.1,89.0 880.1,89.5 880.2,90.1 880.2,90.7 880.3,91.2 880.3,91.8 880.3,92.3 880.4,92.8 880.4,93.3 880.4,93.9 880.5,94.4 880.5,94.9 880.6,95.4 880.6,95.9 880.6,96.4 880.7,96.8 880.7,97.3 880.7,97.8 880.8,98.2 880.8,98.7 880.8,99.1 880.9,99.6 880.9,100.0 881.0,100.4 881.0,100.8 881.0,101.2 881.1,101.6 881.1,102.0 881.1,102.4 881.2,102.7 881.2,103.1 881.2,103.4 881.2,103.8 881.4,104.8 881.4,105.7 881.5,106.5 881.6,107.1 881.7,107.7 881.8,108.2 881.9,108.6 882.0,109.0 882.1,109.3 882.2,109.6 882.2,110.0 882.3,110.3 882.4,110.6 882.5,111.0 882.6,111.7 882.8,112.3 882.9,112.8 883.0,113.3 883.2,113.8 883.3,114.2 883.5,114.6 883.8,115.0 884.0,115.5 884.3,115.9 884.7,116.3 885.0,116.6 885.4,117.0 885.8,117.3 886.2,117.5 886.7,117.7 887.2,117.7 887.8,117.7 888.3,117.7 888.9,117.7 889.5,117.8 890.0,118.0 890.4,118.3 890.8,118.6 891.3,119.1 891.7,119.6 892.1,120.0 892.5,120.5 893.0,120.9 893.4,121.1 893.8,121.2 894.2,121.2 894.6,120.9 895.0,120.5 895.4,120.0 895.7,119.5 896.1,119.1 896.5,118.8 896.9,118.8 897.3,118.9 897.7,119.2 898.0,119.6 898.4,120.1 898.8,120.6 899.2,121.1 899.6,121.5 900.0,121.9 900.4,122.2 900.9,122.5 901.4,122.8 901.8,123.0 902.3,123.2 902.8,123.4 903.3,123.5 903.8,123.5 904.2,123.5 904.7,123.4 905.1,123.3 905.5,123.1 906.0,122.9 906.5,122.6 907.0,122.3 907.5,121.9 907.8,121.6 908.2,121.3 908.5,120.9 908.9,120.5 909.3,120.1 909.7,119.7 910.1,119.2 910.5,118.8 910.9,118.4 911.3,118.0 911.6,117.7 911.9,117.4 912.2,117.1 912.5,117.0 913.1,117.0 913.5,117.3 913.9,117.9 914.2,118.5 914.5,119.0 915.0,119.7 915.4,120.6 915.8,121.1 916.2,120.6 916.3,120.4 916.4,120.1 916.5,119.7 916.6,119.3 916.7,118.9 916.7,118.4 916.8,117.9 916.9,117.4 917.0,116.9 917.1,116.3 917.1,115.7 917.2,115.1 917.3,114.5 917.4,113.9 917.5,113.3 917.5,112.7 917.6,112.2 917.7,111.6 917.8,111.0 917.9,110.5 918.0,110.0 918.1,109.5 918.2,108.9 918.3,108.3 918.4,107.7 918.5,107.1 918.7,106.5 918.8,105.9 918.9,105.2 919.0,104.6 919.1,104.0 919.3,103.4 919.4,102.9 919.5,102.4 919.6,101.9 919.7,101.4 919.8,101.0 920.0,100.7 920.1,100.4 920.2,100.2 920.2,100.0 920.4,99.9 920.6,100.0 920.7,100.4 920.9,100.9 921.0,101.5 921.2,102.2 921.3,102.9 921.4,103.7 921.6,104.4 921.7,105.0 921.8,105.5 921.9,105.9 922.0,106.4 922.1,106.9 922.2,107.4 922.2,107.9 922.3,108.4 922.4,108.9 922.5,109.5 922.7,110.0 922.8,110.6 923.0,111.2 923.1,111.7 923.3,112.2 923.4,112.8 923.6,113.4 923.8,114.0 924.0,114.7 924.2,115.3 924.4,116.0 924.5,116.6 924.8,117.3 925.0,117.8 925.1,118.4 925.3,118.9 925.5,119.3 925.7,119.6 925.9,119.8 926.1,120.0 926.2,120.0 926.4,119.9 926.5,119.8 926.7,119.5 926.8,119.2 926.9,118.8 927.1,118.4 927.2,117.9 927.3,117.4 927.4,116.8 927.6,116.2 927.7,115.6 927.8,115.0 927.9,114.3 928.0,113.7 928.2,113.0 928.3,112.4 928.4,111.7 928.5,111.1 928.6,110.6 928.8,110.0 928.9,109.5 929.0,109.0 929.1,108.4 929.2,107.8 929.3,107.2 929.4,106.5 929.5,105.9 929.6,105.2 929.8,104.6 929.9,103.9 930.0,103.3 930.1,102.7 930.2,102.1 930.3,101.5 930.4,101.0 930.5,100.5 930.6,100.1 930.7,99.7 930.8,99.4 930.8,99.1 930.9,98.9 931.0,98.8 931.1,98.7 931.2,98.8 931.3,99.1 931.4,99.5 931.4,100.0 931.5,100.5 931.6,101.2 931.6,101.9 931.7,102.6 931.8,103.4 931.8,104.1 931.9,104.8 931.9,105.4 932.0,106.0 932.1,106.5 932.1,107.0 932.2,107.6 932.2,108.1 932.3,108.7 932.3,109.2 932.4,109.8 932.4,110.3 932.5,110.9 932.5,111.4 932.6,111.9 932.7,112.4 932.8,112.9 932.9,113.3 933.0,113.8 933.2,114.4 933.5,115.1 933.8,115.8 934.1,116.4 934.4,117.0 934.7,117.4 935.0,117.8 935.3,118.0 935.6,118.0 935.8,117.9 936.0,117.6 936.2,117.1 936.4,116.6 936.6,116.0 936.7,115.3 936.9,114.7 937.1,114.0 937.2,113.4 937.4,112.9 937.5,112.5 937.8,111.7 938.0,110.9 938.1,110.3 938.3,110.0 938.5,110.0 938.6,110.2 938.7,110.5 938.8,110.9 938.9,111.5 939.0,112.0 939.1,112.6 939.2,113.3 939.3,113.9 939.4,114.5 939.5,115.0 939.6,115.5 939.7,116.0 939.8,116.5 939.8,117.1 939.9,117.6 940.0,118.1 940.1,118.6 940.2,119.1 940.4,119.6 940.6,120.0 940.9,120.5 941.2,121.0 941.5,121.5 941.8,121.9 942.2,122.4 942.6,122.8 943.0,123.1 943.4,123.5 943.8,123.8 944.3,124.0 944.8,124.3 945.3,124.4 945.9,124.5 946.4,124.6 947.0,124.5 947.5,124.4 947.9,124.2 948.3,124.0 948.8,123.8 949.2,123.5 949.6,123.1 950.0,122.7 950.4,122.3 950.8,121.8 951.2,121.2 951.5,120.9 951.8,120.5 952.0,120.0 952.3,119.5 952.5,119.0 952.8,118.4 953.1,117.9 953.3,117.3 953.6,116.8 953.8,116.3 954.1,115.8 954.3,115.4 954.6,115.0 954.8,114.6 955.0,114.4 955.6,114.1 956.0,114.3 956.5,114.6 956.9,115.0 957.5,115.0 957.9,114.8 958.4,114.6 958.9,114.3 959.4,114.0 959.9,113.6 960.4,113.3 960.9,112.9 961.2,112.7 961.5,112.5" fill="none" stroke="#5c5c5c" stroke-width="1.15" stroke-linejoin="round" stroke-linecap="round"/>
<polyline points="521.5,113.8 521.9,112.6 522.3,112.3 522.8,113.3 523.3,113.8 523.9,113.5 524.5,112.4 525.1,114.9 525.8,112.8 526.5,115.3 527.2,113.4 528.0,109.7 528.8,111.9 529.6,112.4 530.4,114.8 531.2,114.0 532.0,113.2 532.8,112.2 533.7,112.7 534.5,113.4 535.3,113.9 536.1,113.0 536.9,115.4 537.7,113.9 538.5,114.9 539.3,111.7 540.0,113.6 540.7,110.2 541.4,114.5 542.2,113.6 542.9,114.2 543.7,114.3 544.5,112.0 545.3,114.0 546.1,113.5 546.9,117.6 547.7,114.3 548.5,114.4 549.3,115.4 550.1,111.8 550.9,114.3 551.7,113.6 552.5,112.5 553.2,114.7 553.9,112.9 554.6,115.0 555.3,113.6 555.9,115.1 556.5,116.9 557.1,113.4 557.6,115.0 558.1,110.5 558.6,112.7 559.0,113.5 560.5,113.2 561.0,112.8 561.0,112.3 560.9,111.5 561.0,110.0 561.1,109.7 561.2,109.1 561.3,108.3 561.4,108.2 561.5,107.6 561.6,106.7 561.7,106.1 561.7,105.2 561.8,104.5 561.9,103.7 562.0,103.0 562.1,102.3 562.2,101.8 562.3,100.7 562.4,100.0 562.5,99.1 562.5,98.9 562.6,97.6 562.7,96.6 562.8,96.0 562.9,95.3 562.9,94.3 563.0,94.1 563.1,93.1 563.1,92.3 563.2,91.9 563.3,91.2 563.3,90.1 563.4,89.5 563.4,88.7 563.5,87.7 563.6,87.5 563.6,86.6 563.7,85.7 563.7,84.7 563.8,83.7 563.9,83.1 563.9,82.5 564.0,81.7 564.0,81.6 564.1,80.2 564.1,79.6 564.2,79.0 564.2,78.7 564.3,78.0 564.4,76.9 564.5,76.0 564.6,74.9 564.7,74.2 564.8,72.9 564.9,72.3 565.0,71.5 565.0,70.7 565.1,70.5 565.2,69.6 565.3,69.5 565.4,69.6 565.5,70.0 565.6,70.0 565.7,70.5 565.8,70.8 565.9,71.2 566.0,72.3 566.1,73.1 566.2,74.0 566.3,74.5 566.4,75.8 566.5,76.9 566.6,78.0 566.7,78.5 566.7,79.3 566.8,79.7 566.8,80.5 566.9,81.2 566.9,81.7 567.0,82.2 567.0,83.0 567.1,84.0 567.1,84.6 567.2,85.5 567.2,86.2 567.3,87.1 567.4,87.8 567.4,88.5 567.5,89.4 567.5,90.2 567.6,90.8 567.6,91.7 567.7,92.5 567.8,93.2 567.8,94.1 567.9,94.8 567.9,95.1 568.0,96.0 568.1,97.0 568.1,97.2 568.2,98.4 568.3,99.1 568.4,100.1 568.4,101.3 568.5,101.8 568.6,102.4 568.7,103.8 568.7,104.3 568.8,104.9 568.9,106.0 569.0,106.3 569.0,107.0 569.1,107.7 569.2,107.9 569.3,109.0 569.4,109.5 569.4,110.1 569.5,110.8 569.6,111.0 569.7,113.0 569.6,112.9 569.9,113.2 571.5,113.2 571.9,112.1 572.4,114.6 572.9,111.3 573.4,114.7 574.0,114.1 574.6,112.0 575.2,113.2 575.9,114.9 576.6,114.5 577.3,114.7 578.1,114.7 578.8,113.1 579.6,115.0 580.4,112.5 581.2,112.8 582.0,112.6 582.8,112.7 583.7,113.1 584.5,112.0 585.3,112.7 586.1,112.2 586.9,112.2 587.7,114.2 588.5,113.7 589.2,111.9 590.0,113.8 590.7,113.5 591.4,114.4 592.1,113.9 592.9,114.7 593.6,114.5 594.4,114.1 595.1,113.6 595.9,113.2 596.7,114.3 597.4,113.3 598.2,114.5 599.0,114.7 599.8,113.5 600.5,113.9 601.3,113.9 602.0,114.8 602.8,114.2 603.5,114.8 604.3,113.7 605.0,113.8 605.7,114.0 606.3,114.0 607.0,113.6 607.7,113.8 608.3,113.1 608.9,113.5 609.5,114.1 610.0,114.0 611.0,114.7 612.0,114.7 612.8,113.7 613.6,112.4 614.4,114.7 615.1,114.6 615.7,114.6 616.3,115.4 616.9,114.0 617.5,114.5 618.1,115.4 618.7,114.5 619.3,114.1 620.0,113.8 620.8,112.8 621.6,113.4 622.4,114.2 623.2,113.7 624.0,113.8 624.8,112.4 625.5,114.4 626.2,113.2 626.9,112.2 627.6,111.7 628.2,112.3 628.8,112.5 629.6,110.8 630.2,114.0 630.7,111.2 631.2,111.3 631.6,110.9 632.0,109.3 632.5,108.8 632.7,108.0 633.0,107.2 633.2,106.5 633.4,105.9 633.7,105.4 633.9,104.3 634.1,103.6 634.3,102.4 634.5,101.3 634.7,102.1 634.9,100.4 635.2,100.7 635.4,99.0 635.6,98.8 636.4,98.2 637.1,97.6 637.9,97.6 638.8,97.5 639.4,96.5 640.2,97.1 640.9,97.4 641.7,97.1 642.4,96.2 643.0,96.2 643.7,95.4 644.1,94.1 644.6,93.4 645.0,93.8 645.1,94.4 645.3,94.9 645.4,94.7 645.6,96.7 645.7,96.8 645.8,98.2 646.0,99.5 646.1,100.2 646.2,100.8 646.4,102.3 646.5,103.1 646.6,103.1 646.8,103.4 646.9,103.8 647.0,104.0 647.2,104.0 647.3,103.3 647.4,102.5 647.5,101.3 647.7,100.8 647.8,100.4 647.9,98.8 648.0,97.5 648.2,97.2 648.3,96.6 648.4,95.0 648.6,94.4 648.7,93.7 648.8,93.0 648.9,92.0 649.1,91.8 649.2,90.4 649.3,90.8 649.4,88.6 649.6,87.7 649.7,86.9 649.8,86.2 649.9,85.9 650.1,84.7 650.2,84.3 650.3,83.5 650.4,83.0 650.5,82.1 650.6,82.6 650.8,82.6 651.0,82.4 651.1,83.6 651.3,84.7 651.4,86.6 651.6,86.0 651.7,88.0 651.8,88.9 651.9,89.4 652.0,89.9 652.1,91.5 652.2,92.7 652.3,92.2 652.4,93.1 652.6,94.1 652.8,94.4 653.4,95.1 654.1,94.3 655.0,94.4 655.3,94.9 655.6,95.6 655.9,96.4 656.3,96.7 656.6,97.5 657.0,98.7 657.3,99.0 657.7,100.2 658.0,100.6 658.4,101.1 658.8,101.9 659.5,102.3 660.3,102.6 661.0,102.1 661.8,101.9 662.5,102.5 662.8,103.4 663.1,103.2 663.4,104.4 663.7,104.8 664.0,106.1 664.3,106.2 664.6,107.3 664.9,107.9 665.2,109.3 665.6,109.4 666.1,109.8 666.5,110.2 667.0,110.5 667.5,111.7 668.1,112.2 668.9,111.9 670.0,112.5 670.5,112.6 671.1,113.0 671.7,112.8 672.3,113.2 672.9,112.8 673.6,113.1 674.3,113.7 675.1,113.9 675.8,113.1 676.6,113.6 677.4,112.9 678.2,113.5 679.0,113.5 679.9,113.4 680.8,113.6 681.6,113.2 682.5,113.8 683.1,113.4 683.7,113.9 684.3,113.7 685.0,113.8 685.6,114.0 686.3,113.7 686.9,113.2 687.6,114.0 688.2,113.2 688.9,113.6 689.6,113.5 690.3,114.3 691.0,113.6 691.7,113.9 692.4,113.8 693.2,113.6 693.9,113.8 694.6,113.9 695.4,113.1 696.1,113.6 696.9,114.2 697.7,113.5 698.4,113.6 699.2,113.2 700.0,113.6 700.7,113.9 701.3,113.9 702.0,113.5 702.8,113.5 703.5,113.0 704.3,113.7 705.0,113.4 705.8,113.6 706.6,113.8 707.4,114.2 708.2,113.4 709.1,113.6 709.9,113.5 710.7,113.5 711.5,113.6 712.3,114.0 713.1,113.4 713.9,113.3 714.7,113.5 715.4,113.1 716.2,113.4 716.9,113.7 717.6,113.4 718.2,113.7 718.9,113.4 719.5,113.7 720.1,112.9 720.6,113.6 721.1,114.0 721.6,113.3 722.0,113.4 724.1,113.0 724.8,112.8 724.8,112.3 725.0,112.4 725.5,112.8 725.8,113.9 726.2,114.0 726.5,114.8 726.9,114.4 727.2,113.3 727.6,112.3 728.0,112.0 728.4,112.5 728.8,113.3 729.1,114.4 729.5,115.0 729.9,114.6 730.2,114.0 730.6,113.4 731.0,112.5 731.3,111.7 731.6,111.2 731.9,110.2 732.2,109.7 732.6,109.0 733.0,108.8 733.7,109.0 734.4,109.3 735.2,109.8 736.0,110.5 736.4,111.6 736.5,111.2 736.6,111.5 737.1,112.6 738.1,112.9 740.0,113.0 740.4,113.2 740.9,112.9 741.4,113.1 741.9,113.3 742.5,113.1 743.1,113.1 743.7,113.0 744.3,113.3 745.0,113.1 745.7,113.7 746.4,112.9 747.1,113.7 747.9,112.8 748.6,112.9 749.4,113.2 750.2,112.5 750.9,112.6 751.7,113.1 752.5,112.5 753.4,112.8 754.2,112.8 755.0,112.7 755.8,113.3 756.6,112.8 757.4,112.1 758.2,112.2 759.0,112.7 759.8,112.6 760.6,112.7 761.4,112.7 762.1,112.5 762.9,112.6 763.6,112.3 764.3,113.1 765.0,112.5 765.7,112.2 766.5,112.2 767.3,112.4 768.0,112.4 768.8,112.1 769.6,112.1 770.3,113.0 771.1,112.1 771.9,112.3 772.7,111.7 773.5,113.5 774.2,113.1 775.0,112.8 775.8,112.8 776.5,111.7 777.3,113.3 778.0,112.3 778.7,111.7 779.5,111.9 780.2,111.6 780.9,112.7 781.6,112.2 782.2,112.2 782.9,112.1 783.5,112.6 784.2,112.6 784.8,112.5 785.4,112.2 785.9,112.0 786.5,112.2 787.0,112.4 787.5,112.0 788.6,112.2 789.6,111.6 790.5,110.2 791.2,111.6 791.9,111.4 792.5,110.0 793.0,108.0 793.5,108.7 794.0,110.7 794.5,109.8 795.0,108.2 795.6,108.3 796.2,108.8 797.0,108.4 797.7,109.1 798.5,107.6 799.3,107.0 800.0,107.5 800.8,107.3 801.5,107.6 802.3,106.7 803.0,107.1 803.7,107.9 804.4,106.3 805.0,106.9 805.9,107.1 806.8,108.3 807.7,106.3 808.5,107.1 809.3,106.6 810.0,107.0 810.7,108.5 811.2,107.5 811.9,108.8 812.3,108.9 812.7,109.1 813.0,111.0 813.3,111.1 813.8,111.2 814.2,109.3 814.8,111.1 815.4,110.6 816.0,108.1 816.5,108.7 817.1,109.1 817.5,107.5 817.8,108.1 818.0,107.0 818.2,105.7 818.3,105.0 818.5,104.2 818.6,103.4 818.8,103.0 818.9,102.1 819.0,100.9 819.2,100.0 819.3,99.4 819.4,98.9 819.4,98.3 819.5,97.2 819.6,96.2 819.7,96.0 819.8,96.0 819.8,94.4 819.9,93.6 820.0,93.3 820.1,92.4 820.2,91.8 820.2,91.0 820.3,90.2 820.4,89.4 820.5,88.5 820.6,88.0 820.6,87.4 820.7,86.4 820.8,86.0 820.9,85.3 821.1,84.0 821.2,83.0 821.3,82.3 821.4,81.4 821.6,80.5 821.7,79.8 821.8,79.4 822.0,78.4 822.1,78.2 822.2,77.1 822.4,76.8 822.5,76.9 822.6,77.4 822.8,77.4 822.9,77.6 823.0,78.1 823.2,78.6 823.3,79.7 823.4,80.4 823.6,81.6 823.7,82.3 823.8,83.3 823.9,84.4 824.1,85.1 824.2,86.0 824.3,86.8 824.4,87.4 824.5,87.9 824.6,88.2 824.7,89.0 824.8,90.1 824.9,91.6 825.0,91.7 825.0,92.7 825.1,93.3 825.2,94.2 825.3,95.0 825.4,95.3 825.5,96.1 825.6,96.9 825.7,97.6 825.8,98.0 826.0,99.1 826.1,99.7 826.3,100.6 826.5,100.8 826.7,101.5 826.8,102.6 827.0,103.4 827.2,104.2 827.3,104.5 827.5,105.0 827.9,106.2 828.2,107.1 828.5,107.3 829.0,107.5 829.4,107.5 829.9,107.2 830.5,106.6 831.0,106.1 831.5,105.0 831.9,103.8 832.0,102.9 832.1,102.7 832.2,102.4 832.3,101.6 832.3,101.1 832.4,100.4 832.4,99.8 832.5,99.6 832.5,98.9 832.6,97.9 832.6,97.6 832.7,96.4 832.7,95.7 832.8,94.7 832.8,93.7 832.9,93.2 832.9,92.1 832.9,91.0 833.0,90.0 833.0,89.5 833.1,89.0 833.1,88.2 833.1,87.8 833.1,86.9 833.2,86.9 833.2,86.0 833.2,85.3 833.2,84.3 833.3,83.7 833.3,82.9 833.3,82.5 833.3,81.3 833.4,80.7 833.4,79.9 833.4,79.4 833.5,78.5 833.5,77.5 833.5,77.1 833.5,76.1 833.6,75.4 833.6,74.5 833.6,73.8 833.6,73.1 833.7,72.2 833.7,71.4 833.7,70.9 833.7,70.0 833.8,69.3 833.8,68.6 833.8,67.5 833.8,66.9 833.9,66.2 833.9,65.7 833.9,64.8 833.9,64.4 834.0,63.7 834.0,63.0 834.0,62.3 834.1,61.1 834.1,60.5 834.1,59.6 834.2,58.5 834.2,57.7 834.3,56.6 834.3,56.0 834.3,54.5 834.4,53.5 834.4,52.5 834.4,51.5 834.5,50.8 834.5,49.9 834.6,49.4 834.6,48.4 834.6,47.7 834.7,47.1 834.7,46.4 834.7,46.3 834.8,45.5 834.8,45.3 834.9,44.7 834.9,44.0 834.9,44.2 835.0,43.7 835.0,43.8 835.0,43.7 835.1,44.1 835.1,44.1 835.2,44.9 835.2,45.2 835.2,45.6 835.3,46.2 835.3,47.0 835.4,47.3 835.4,48.1 835.4,48.9 835.5,49.4 835.5,50.2 835.6,51.0 835.6,52.0 835.6,53.1 835.7,54.2 835.7,55.1 835.8,56.0 835.8,57.0 835.8,57.8 835.9,58.2 835.9,59.7 835.9,60.6 835.9,61.6 836.0,62.5 836.0,63.0 836.0,63.7 836.0,63.8 836.0,65.2 836.1,66.0 836.1,66.6 836.1,67.5 836.1,68.1 836.1,68.9 836.1,69.4 836.1,70.4 836.1,71.2 836.0,72.3 836.0,73.0 836.0,73.6 836.0,74.5 836.0,75.4 836.0,76.2 836.0,76.9 836.0,77.5 836.0,78.2 836.0,79.2 836.0,79.9 836.0,80.6 836.1,81.2 836.1,81.8 836.1,82.2 836.1,83.0 836.1,83.0 836.2,83.8 836.2,85.1 836.2,85.0 836.5,86.5 836.8,88.0 837.1,88.1 837.5,88.5 837.9,88.9 838.3,89.5 838.8,90.0 839.0,90.6 839.3,91.0 839.6,91.9 840.0,92.4 840.3,93.0 840.6,94.0 841.0,94.5 841.4,95.0 841.7,95.8 842.1,96.5 842.5,97.5 842.8,98.2 843.1,99.0 843.5,99.7 843.8,100.1 844.2,101.0 844.5,101.5 844.9,102.8 845.3,103.7 845.6,103.7 846.0,105.1 846.3,105.8 846.6,106.5 846.9,106.5 847.2,107.3 847.5,107.5 848.3,107.3 848.9,107.3 849.4,106.4 850.0,105.5 850.6,104.9 851.3,104.9 851.9,104.6 852.5,103.8 852.8,103.4 853.0,102.6 853.3,101.8 853.5,101.2 853.8,100.6 854.0,99.3 854.3,98.9 854.5,98.0 854.8,97.3 855.1,96.2 855.4,95.7 855.7,94.5 856.0,94.2 856.2,93.8 856.6,94.0 856.9,94.7 857.3,95.1 857.6,96.1 858.0,97.0 858.4,97.6 858.8,98.7 859.2,98.9 859.6,99.8 860.0,100.0 860.4,100.7 860.8,102.4 861.3,103.4 861.7,103.9 862.1,104.6 862.5,103.8 862.6,103.6 862.7,102.7 862.8,102.7 862.8,102.0 862.9,101.7 863.0,100.9 863.1,100.5 863.2,99.3 863.2,99.1 863.3,98.2 863.4,97.5 863.5,96.5 863.5,95.9 863.6,95.0 863.7,94.1 863.8,93.0 863.8,92.2 863.9,91.6 864.0,90.2 864.0,89.7 864.1,88.7 864.2,88.4 864.2,87.3 864.3,86.4 864.3,85.6 864.4,85.0 864.5,84.6 864.5,84.2 864.6,82.6 864.6,81.9 864.6,81.1 864.7,80.8 864.7,80.1 864.8,78.5 864.8,78.2 864.8,77.8 864.9,76.8 864.9,76.2 864.9,75.2 865.0,74.3 865.0,74.4 865.0,72.8 865.1,72.2 865.1,72.1 865.1,70.3 865.2,70.5 865.2,69.8 865.2,68.7 865.3,68.8 865.3,67.6 865.3,67.2 865.4,66.4 865.4,66.0 865.5,64.7 865.5,63.6 865.6,62.6 865.7,61.5 865.8,60.7 865.8,60.2 865.9,59.5 866.0,59.2 866.0,58.2 866.1,58.0 866.2,57.7 866.2,57.5 866.3,57.5 866.4,57.8 866.5,58.0 866.5,58.5 866.6,59.3 866.7,60.2 866.8,60.8 866.8,61.6 866.9,62.5 867.0,63.8 867.1,65.1 867.2,66.0 867.2,66.8 867.3,67.3 867.3,67.6 867.4,68.3 867.5,68.9 867.5,70.0 867.6,71.1 867.6,71.2 867.7,71.5 867.7,72.6 867.8,73.0 867.9,74.2 867.9,75.0 868.0,76.1 868.0,76.8 868.1,77.3 868.2,78.3 868.2,79.4 868.3,79.8 868.4,80.5 868.4,81.4 868.5,82.0 868.5,82.9 868.6,83.5 868.6,83.8 868.7,84.4 868.8,85.0 868.9,85.8 869.1,87.3 869.2,88.9 869.4,88.8 869.5,89.6 869.7,89.8 869.8,90.7 870.0,91.0 870.4,92.1 870.8,93.2 871.2,93.0 871.4,92.7 871.5,92.3 871.6,91.9 871.8,91.6 871.9,90.6 872.0,89.8 872.1,89.0 872.2,88.0 872.4,87.0 872.5,86.0 872.6,85.2 872.6,84.6 872.7,84.2 872.8,84.0 872.8,83.1 872.9,82.6 872.9,82.3 873.0,81.7 873.1,80.8 873.1,80.7 873.2,79.5 873.3,79.0 873.3,78.1 873.4,77.3 873.5,76.8 873.5,75.7 873.6,74.2 873.7,74.2 873.8,72.5 873.8,71.9 873.8,71.5 873.9,71.1 873.9,70.1 873.9,69.6 874.0,69.3 874.0,69.0 874.0,68.3 874.1,67.2 874.1,67.1 874.1,65.8 874.2,65.1 874.2,64.2 874.3,63.8 874.3,62.9 874.3,62.7 874.4,61.7 874.4,61.3 874.5,59.5 874.5,59.2 874.5,58.4 874.6,58.0 874.6,56.9 874.7,56.2 874.7,55.2 874.7,54.8 874.8,54.0 874.8,53.2 874.9,52.4 874.9,51.4 874.9,50.7 875.0,50.0 875.0,49.2 875.1,48.6 875.1,47.9 875.1,47.1 875.2,46.4 875.2,45.6 875.3,44.8 875.3,44.0 875.3,43.4 875.4,42.7 875.4,42.0 875.4,41.2 875.5,40.1 875.5,39.7 875.6,39.1 875.6,38.1 875.6,36.9 875.7,36.1 875.7,35.2 875.8,34.5 875.8,33.3 875.8,32.8 875.9,31.5 875.9,30.7 876.0,29.8 876.0,28.7 876.0,28.1 876.1,26.8 876.1,26.2 876.1,24.5 876.2,23.5 876.2,23.4 876.3,22.6 876.3,21.5 876.3,21.3 876.4,19.9 876.4,19.2 876.4,18.3 876.5,17.9 876.5,17.2 876.6,17.1 876.6,16.1 876.6,15.5 876.7,15.2 876.7,14.6 876.7,14.2 876.8,14.6 876.8,13.5 876.8,13.9 876.9,13.4 876.9,13.6 876.9,13.6 877.0,14.1 877.0,14.2 877.0,14.1 877.1,14.4 877.1,14.8 877.1,15.4 877.2,15.6 877.2,16.0 877.2,16.7 877.2,17.4 877.3,17.9 877.3,18.6 877.3,19.1 877.4,20.2 877.4,20.7 877.4,22.0 877.4,22.2 877.5,23.5 877.5,24.8 877.5,24.9 877.6,25.8 877.6,26.8 877.6,27.6 877.6,28.8 877.7,29.9 877.7,30.4 877.7,31.7 877.7,32.6 877.8,33.3 877.8,34.5 877.8,35.1 877.8,36.2 877.9,37.2 877.9,38.2 877.9,38.8 877.9,39.5 878.0,40.0 878.0,41.1 878.0,42.0 878.0,42.9 878.0,43.5 878.1,43.8 878.1,44.6 878.1,45.4 878.1,46.1 878.1,47.2 878.2,47.6 878.2,48.4 878.2,49.4 878.2,50.2 878.2,50.7 878.2,51.2 878.3,52.7 878.3,53.1 878.3,53.5 878.3,54.7 878.3,55.4 878.3,55.9 878.3,56.6 878.4,57.7 878.4,58.4 878.4,58.8 878.4,59.6 878.4,60.2 878.4,61.0 878.4,61.9 878.5,62.4 878.5,63.5 878.5,63.9 878.5,64.7 878.5,65.2 878.5,66.1 878.6,67.0 878.6,67.4 878.6,67.7 878.6,69.0 878.6,69.0 878.7,70.2 878.7,71.0 878.7,71.6 878.7,71.8 878.8,72.5 878.8,73.3 878.8,74.2 878.9,75.4 878.9,76.0 878.9,76.8 879.0,77.3 879.0,78.7 879.1,79.6 879.1,80.3 879.1,80.9 879.2,81.6 879.2,82.7 879.3,83.3 879.3,84.0 879.4,84.6 879.4,85.1 879.5,85.8 879.5,86.7 879.6,87.2 879.6,88.2 879.7,88.9 879.7,88.9 879.8,89.7 879.9,90.1 879.9,90.8 880.0,91.2 880.1,92.1 880.3,93.0 880.5,93.9 880.6,95.1 880.8,95.9 881.0,96.1 881.2,96.8 881.4,97.5 881.6,98.0 881.8,98.5 882.0,99.2 882.3,99.4 882.5,100.0 883.1,100.9 883.7,101.0 884.4,101.9 885.0,101.6 885.7,102.2 886.2,102.5 886.7,103.0 887.1,104.0 887.5,104.8 887.9,104.7 888.3,105.8 888.8,106.2 889.4,106.8 890.1,106.0 890.9,105.8 891.6,105.9 892.5,105.6 893.1,106.2 893.8,105.9 894.5,106.3 895.2,106.5 895.9,106.3 896.7,106.6 897.5,107.5 898.1,108.0 898.8,108.2 899.5,108.8 900.3,108.9 901.0,109.4 901.7,109.7 902.4,110.0 903.1,110.6 903.8,110.6 904.5,110.5 905.3,110.5 906.0,110.1 906.8,110.1 907.4,109.6 908.1,109.3 908.8,108.8 909.4,108.4 909.9,107.7 910.5,106.9 911.0,106.7 911.5,105.5 912.0,105.1 912.5,105.0 913.1,105.2 913.6,106.1 914.1,106.7 914.6,107.7 915.1,108.0 915.6,108.0 915.8,107.4 916.0,107.6 916.1,106.8 916.3,106.1 916.5,105.3 916.6,104.4 916.8,103.5 916.9,103.1 917.1,102.3 917.3,101.1 917.4,100.2 917.6,99.7 917.7,98.5 917.9,98.2 918.0,97.5 918.2,97.1 918.5,95.7 918.7,95.0 918.9,93.6 919.1,92.7 919.3,92.3 919.5,91.9 919.8,91.1 920.0,91.2 920.2,91.4 920.5,92.0 920.8,92.9 921.0,93.0 921.3,93.8 921.6,94.6 921.9,95.5 922.2,96.9 922.5,97.5 922.8,97.9 923.0,98.7 923.3,99.1 923.6,101.0 923.9,101.4 924.2,102.5 924.5,103.2 924.8,104.0 925.1,104.9 925.4,104.9 925.7,105.8 926.0,106.1 926.2,106.2 926.5,106.0 926.7,106.0 926.9,106.2 927.1,105.8 927.3,104.8 927.5,103.4 927.7,103.3 927.9,102.5 928.1,101.5 928.2,100.5 928.4,99.8 928.6,98.4 928.8,97.5 928.8,96.9 928.9,96.4 929.0,95.6 929.1,94.8 929.1,93.9 929.2,93.0 929.3,92.3 929.3,91.4 929.4,90.1 929.5,89.2 929.5,88.4 929.6,87.4 929.7,86.4 929.7,85.2 929.8,84.3 929.9,83.8 929.9,82.8 930.0,81.4 930.1,81.4 930.1,80.6 930.2,79.7 930.3,79.4 930.3,78.4 930.4,77.9 930.5,78.1 930.5,78.1 930.6,78.0 930.7,78.0 930.7,78.2 930.8,78.7 930.9,79.0 930.9,79.8 931.0,80.0 931.0,80.6 931.1,81.3 931.2,81.8 931.2,83.2 931.3,82.9 931.4,84.2 931.4,85.4 931.5,86.4 931.5,87.0 931.6,88.0 931.7,89.1 931.7,89.8 931.8,91.1 931.9,91.9 931.9,92.9 932.0,93.5 932.1,94.6 932.1,95.6 932.2,95.6 932.3,96.8 932.4,97.8 932.4,97.6 932.5,98.8 932.7,100.1 932.9,100.9 933.1,101.8 933.3,102.8 933.5,103.9 933.8,104.4 934.0,105.3 934.2,105.4 934.4,106.1 934.6,106.5 934.8,106.7 935.0,107.0 935.4,107.1 935.7,106.5 936.0,106.3 936.3,104.9 936.6,103.7 936.9,102.5 937.0,101.9 937.1,101.3 937.2,100.7 937.2,98.9 937.3,98.7 937.4,98.0 937.4,96.7 937.5,95.5 937.6,95.1 937.6,93.9 937.7,92.9 937.8,92.0 937.8,91.2 937.9,90.7 938.0,90.2 938.0,90.3 938.1,90.0 938.2,90.0 938.2,90.2 938.3,90.6 938.4,91.5 938.4,91.9 938.5,92.5 938.5,93.2 938.6,94.2 938.7,95.2 938.7,95.9 938.8,97.2 938.9,97.9 938.9,99.2 939.0,100.0 939.1,101.0 939.2,101.6 939.2,102.1 939.3,102.9 939.4,103.8 939.5,104.6 939.7,105.4 939.8,106.3 939.9,107.4 940.0,107.8 940.2,109.2 940.3,109.0 940.5,110.3 940.7,110.1 941.0,110.8 941.2,111.2 941.8,112.0 942.4,111.9 943.2,112.7 943.9,112.7 944.7,112.8 945.5,112.9 946.2,113.0 947.0,113.1 947.7,113.0 948.5,112.8 949.2,112.5 949.9,112.6 950.6,111.7 951.2,112.0 951.9,111.8 952.4,111.0 953.0,110.5 953.5,109.6 954.1,109.5 954.5,109.2 955.0,108.8 955.7,108.2 956.2,107.6 956.8,106.9 957.5,107.0 958.3,107.1 959.2,106.8 960.1,107.8 960.9,107.3 961.5,107.5" fill="none" stroke="#000" stroke-width="2.4" stroke-linejoin="miter" stroke-miterlimit="5" stroke-linecap="round"/>
<polyline points="810.6,108.0 811.2,92.5 811.9,108.0" fill="none" stroke="#000" stroke-width="0.9" stroke-linejoin="round" stroke-linecap="round"/>
<polyline points="800.8,108.5 801.3,102.5 801.8,108.5" fill="none" stroke="#000" stroke-width="0.8" stroke-linejoin="round" stroke-linecap="round"/>
<polyline points="805.1,108.5 805.6,99.5 806.1,108.5" fill="none" stroke="#000" stroke-width="0.8" stroke-linejoin="round" stroke-linecap="round"/>
<polyline points="808.2,108.5 808.7,97.5 809.2,108.5" fill="none" stroke="#000" stroke-width="0.8" stroke-linejoin="round" stroke-linecap="round"/>
<polyline points="815.4,108.5 815.9,98.0 816.4,108.5" fill="none" stroke="#000" stroke-width="0.8" stroke-linejoin="round" stroke-linecap="round"/>
<rect x="533.1" y="121.5" width="5" height="5" fill="#000"/>
<rect x="558.1" y="121.5" width="5" height="5" fill="#000"/>
<rect x="583.1" y="121.7" width="5" height="5" fill="#000"/>
<rect x="608.1" y="121.7" width="5" height="5" fill="#000"/>
<rect x="633.75" y="109.1" width="5" height="5" fill="#000"/>
<rect x="658.75" y="116.25" width="5" height="5" fill="#000"/>
<rect x="683.75" y="121.5" width="5" height="5" fill="#000"/>
<rect x="708.75" y="121.1" width="5" height="5" fill="#000"/>
<rect x="733.75" y="120.1" width="5" height="5" fill="#000"/>
<rect x="759" y="121.5" width="5" height="5" fill="#000"/>
<rect x="784" y="121" width="5" height="5" fill="#000"/>
<rect x="808.75" y="120.4" width="5" height="5" fill="#000"/>
<rect x="859.4" y="113.1" width="5" height="5" fill="#000"/>
<rect x="884.4" y="115" width="5" height="5" fill="#000"/>
<rect x="909.4" y="114.4" width="5" height="5" fill="#000"/>
<rect x="934.4" y="116" width="5" height="5" fill="#000"/>
<rect x="959.5" y="110" width="5" height="5" fill="#000"/>
<text x="521.5" y="165.5" font-size="16.6" text-anchor="middle" fill="#111">4000</text>
<text x="584.36" y="165.5" font-size="16.6" text-anchor="middle" fill="#111">3500</text>
<text x="647.21" y="165.5" font-size="16.6" text-anchor="middle" fill="#111">3000</text>
<text x="710.07" y="165.5" font-size="16.6" text-anchor="middle" fill="#111">2500</text>
<text x="772.93" y="165.5" font-size="16.6" text-anchor="middle" fill="#111">2000</text>
<text x="835.79" y="165.5" font-size="16.6" text-anchor="middle" fill="#111">1500</text>
<text x="898.64" y="165.5" font-size="16.6" text-anchor="middle" fill="#111">1000</text>
<text x="961.5" y="165.5" font-size="16.6" text-anchor="middle" fill="#111">500</text>
<text x="542.2" y="30.1" font-size="21.8" text-anchor="middle" fill="#111">(c)</text>
</g>
<g id="panel-d">
<line x1="520" y1="193.12" x2="520" y2="321.68" stroke="#0a0a0a" stroke-width="1.75" stroke-linecap="butt"/>
<line x1="959.75" y1="194" x2="959.75" y2="321.68" stroke="#0a0a0a" stroke-width="1.75" stroke-linecap="butt"/>
<line x1="520" y1="320.8" x2="959.75" y2="320.8" stroke="#0a0a0a" stroke-width="1.75" stroke-linecap="butt"/>
<line x1="511.3" y1="194.2" x2="520" y2="194.2" stroke="#0a0a0a" stroke-width="1.75" stroke-linecap="butt"/>
<line x1="515.4" y1="219.4" x2="520" y2="219.4" stroke="#0a0a0a" stroke-width="1.75" stroke-linecap="butt"/>
<line x1="511.3" y1="244.7" x2="520" y2="244.7" stroke="#0a0a0a" stroke-width="1.75" stroke-linecap="butt"/>
<line x1="515.4" y1="270" x2="520" y2="270" stroke="#0a0a0a" stroke-width="1.75" stroke-linecap="butt"/>
<line x1="511.3" y1="295.4" x2="520" y2="295.4" stroke="#0a0a0a" stroke-width="1.75" stroke-linecap="butt"/>
<line x1="515.4" y1="320.4" x2="520" y2="320.4" stroke="#0a0a0a" stroke-width="1.75" stroke-linecap="butt"/>
<line x1="959.75" y1="209.3" x2="968.15" y2="209.3" stroke="#0a0a0a" stroke-width="1.75" stroke-linecap="butt"/>
<line x1="959.75" y1="235.9" x2="964.15" y2="235.9" stroke="#0a0a0a" stroke-width="1.75" stroke-linecap="butt"/>
<line x1="959.75" y1="262.3" x2="968.15" y2="262.3" stroke="#0a0a0a" stroke-width="1.75" stroke-linecap="butt"/>
<line x1="959.75" y1="288.8" x2="964.15" y2="288.8" stroke="#0a0a0a" stroke-width="1.75" stroke-linecap="butt"/>
<line x1="959.75" y1="315.4" x2="968.15" y2="315.4" stroke="#0a0a0a" stroke-width="1.75" stroke-linecap="butt"/>
<line x1="553.92" y1="320.8" x2="553.92" y2="325.1" stroke="#0a0a0a" stroke-width="1.75" stroke-linecap="butt"/>
<line x1="611.9" y1="320.8" x2="611.9" y2="329.1" stroke="#0a0a0a" stroke-width="1.75" stroke-linecap="butt"/>
<line x1="669.88" y1="320.8" x2="669.88" y2="325.1" stroke="#0a0a0a" stroke-width="1.75" stroke-linecap="butt"/>
<line x1="727.85" y1="320.8" x2="727.85" y2="329.1" stroke="#0a0a0a" stroke-width="1.75" stroke-linecap="butt"/>
<line x1="785.83" y1="320.8" x2="785.83" y2="325.1" stroke="#0a0a0a" stroke-width="1.75" stroke-linecap="butt"/>
<line x1="843.8" y1="320.8" x2="843.8" y2="329.1" stroke="#0a0a0a" stroke-width="1.75" stroke-linecap="butt"/>
<line x1="901.77" y1="320.8" x2="901.77" y2="325.1" stroke="#0a0a0a" stroke-width="1.75" stroke-linecap="butt"/>
<line x1="959.75" y1="320.8" x2="959.75" y2="329.1" stroke="#0a0a0a" stroke-width="1.75" stroke-linecap="butt"/>
<polyline points="520.0,314.6 520.3,314.6 520.6,314.6 520.9,314.6 521.2,314.6 521.5,314.6 521.9,314.6 522.3,314.6 522.7,314.6 523.1,314.6 523.5,314.6 524.0,314.6 524.5,314.6 524.9,314.6 525.4,314.6 525.9,314.6 526.4,314.6 527.0,314.6 527.5,314.5 528.0,314.5 528.6,314.5 529.1,314.5 529.7,314.5 530.3,314.5 530.8,314.5 531.4,314.5 532.0,314.5 532.6,314.5 533.2,314.5 533.8,314.5 534.4,314.5 535.0,314.5 535.6,314.5 536.2,314.5 536.7,314.5 537.3,314.5 537.9,314.5 538.5,314.5 539.1,314.5 539.6,314.5 540.2,314.5 540.8,314.5 541.3,314.5 541.8,314.5 542.4,314.5 542.9,314.5 543.4,314.5 543.9,314.5 544.4,314.5 544.9,314.5 545.5,314.5 546.0,314.5 546.5,314.5 547.0,314.5 547.5,314.5 548.0,314.5 548.5,314.5 549.0,314.5 549.5,314.6 550.0,314.6 550.5,314.6 551.0,314.6 551.6,314.6 552.1,314.6 552.6,314.6 553.1,314.6 553.6,314.6 554.1,314.6 554.6,314.6 555.1,314.6 555.6,314.7 556.1,314.7 556.6,314.7 557.1,314.7 557.6,314.7 558.1,314.7 558.6,314.7 559.1,314.7 559.6,314.7 560.1,314.7 560.7,314.7 561.2,314.7 561.7,314.7 562.2,314.8 562.7,314.8 563.2,314.8 563.7,314.8 564.2,314.8 564.7,314.8 565.2,314.8 565.7,314.8 566.2,314.8 566.8,314.8 567.3,314.8 567.8,314.8 568.3,314.8 568.8,314.8 569.3,314.8 569.8,314.8 570.3,314.8 570.8,314.8 571.3,314.8 571.8,314.8 572.3,314.8 572.8,314.8 573.3,314.9 573.8,314.9 574.3,314.9 574.8,314.9 575.3,314.9 575.8,314.9 576.3,314.9 576.8,314.9 577.3,314.9 577.8,314.9 578.3,314.9 578.8,314.9 579.3,314.9 579.8,314.9 580.3,314.9 580.8,314.9 581.3,314.9 581.8,314.9 582.3,314.9 582.9,314.9 583.4,314.9 583.9,314.9 584.4,314.9 584.9,314.9 585.4,314.9 585.9,314.9 586.4,314.9 586.9,314.9 587.4,314.9 587.9,314.9 588.4,314.9 588.9,314.9 589.4,314.9 589.9,314.9 590.4,314.9 590.9,314.9 591.4,314.9 591.9,314.9 592.4,314.9 592.9,314.9 593.4,314.9 593.9,314.9 594.4,314.9 594.9,314.9 595.4,314.9 595.9,314.9 596.4,314.9 596.9,314.9 597.4,314.9 597.9,314.9 598.4,314.9 598.9,314.9 599.4,314.9 599.9,314.9 600.5,314.9 601.0,314.9 601.5,314.9 602.0,314.9 602.5,314.9 603.0,314.9 603.5,314.9 604.0,314.9 604.5,314.9 605.0,314.8 605.5,314.8 606.0,314.8 606.5,314.8 607.0,314.8 607.5,314.8 608.0,314.8 608.5,314.8 609.0,314.8 609.5,314.8 610.0,314.8 610.5,314.8 611.0,314.8 611.5,314.8 612.0,314.8 612.5,314.8 613.0,314.8 613.5,314.8 614.0,314.8 614.5,314.8 615.0,314.8 615.5,314.8 616.0,314.8 616.5,314.8 617.0,314.8 617.5,314.8 618.0,314.7 618.5,314.7 619.0,314.7 619.5,314.7 620.0,314.7 620.5,314.7 621.0,314.7 621.5,314.7 622.0,314.7 622.5,314.7 623.0,314.7 623.5,314.7 624.0,314.7 624.5,314.7 625.0,314.7 625.5,314.7 626.0,314.6 626.5,314.6 627.0,314.6 627.5,314.6 628.0,314.6 628.5,314.6 629.0,314.6 629.5,314.6 630.0,314.6 630.5,314.6 631.0,314.6 631.5,314.6 632.0,314.6 632.5,314.6 633.0,314.6 633.5,314.6 634.1,314.6 634.6,314.6 635.1,314.6 635.6,314.6 636.1,314.6 636.6,314.6 637.1,314.6 637.6,314.6 638.1,314.6 638.6,314.6 639.1,314.6 639.6,314.6 640.1,314.7 640.6,314.7 641.2,314.7 641.7,314.7 642.2,314.7 642.7,314.7 643.2,314.7 643.7,314.7 644.2,314.7 644.8,314.8 645.3,314.8 645.8,314.8 646.3,314.8 646.8,314.8 647.4,314.8 647.9,314.8 648.4,314.8 648.9,314.8 649.4,314.9 649.9,314.9 650.5,314.9 651.0,314.9 651.5,314.9 652.0,314.9 652.5,314.9 653.0,314.9 653.5,314.9 654.0,315.0 654.5,315.0 655.1,315.0 655.6,315.0 656.1,315.0 656.6,315.0 657.1,315.0 657.6,315.0 658.0,315.0 658.5,315.0 659.0,315.0 659.5,315.0 660.0,315.0 660.5,315.0 661.1,315.0 661.6,315.0 662.1,315.0 662.7,315.0 663.2,315.0 663.8,315.0 664.3,314.9 664.8,314.9 665.4,314.9 665.9,314.9 666.5,314.9 667.0,314.9 667.6,314.9 668.1,314.8 668.7,314.8 669.2,314.8 669.7,314.8 670.3,314.8 670.8,314.8 671.3,314.7 671.9,314.7 672.4,314.7 672.9,314.7 673.4,314.7 673.9,314.7 674.4,314.6 674.9,314.6 675.4,314.6 675.9,314.6 676.4,314.6 676.9,314.5 677.4,314.5 677.8,314.5 678.3,314.5 678.7,314.5 679.2,314.5 679.6,314.5 680.0,314.4 680.4,314.4 680.8,314.4 681.2,314.4 681.6,314.4 682.0,314.4 682.8,314.4 683.5,314.4 684.2,314.4 684.8,314.4 685.4,314.5 686.0,314.5 686.6,314.5 687.1,314.6 687.6,314.6 688.1,314.6 688.5,314.7 689.0,314.7 689.4,314.7 689.8,314.7 690.2,314.7 690.6,314.7 691.0,314.7 691.4,314.6 691.8,314.6 692.1,314.5 692.5,314.4 693.1,314.2 693.6,314.0 694.1,313.8 694.5,313.6 694.9,313.3 695.2,313.0 695.6,312.7 695.9,312.3 696.2,311.9 696.5,311.5 696.9,311.0 697.2,310.5 697.5,310.0 697.7,309.6 697.9,309.3 698.1,308.8 698.3,308.4 698.5,307.9 698.7,307.4 698.9,306.9 699.0,306.4 699.2,305.9 699.4,305.4 699.6,304.8 699.8,304.3 699.9,303.8 700.1,303.3 700.3,302.7 700.4,302.2 700.6,301.8 700.8,301.3 700.9,300.8 701.1,300.4 701.2,300.0 701.5,299.4 701.8,298.7 702.0,298.0 702.3,297.3 702.5,296.6 702.7,295.9 703.0,295.3 703.2,294.8 703.5,294.4 703.7,294.0 703.9,293.8 704.2,293.7 704.4,293.8 704.6,293.9 704.7,294.1 704.9,294.4 705.0,294.8 705.2,295.2 705.3,295.7 705.5,296.2 705.6,296.7 705.8,297.3 705.9,297.9 706.1,298.6 706.2,299.2 706.4,299.8 706.5,300.5 706.7,301.1 706.8,301.7 707.0,302.3 707.2,302.8 707.3,303.3 707.5,303.8 707.7,304.3 708.0,304.9 708.2,305.4 708.4,305.9 708.7,306.4 708.9,306.9 709.1,307.4 709.4,307.9 709.6,308.3 709.9,308.8 710.1,309.2 710.4,309.6 710.7,309.9 711.0,310.3 711.2,310.6 711.7,311.0 712.1,311.4 712.5,311.7 713.0,311.9 713.5,312.2 714.0,312.4 714.4,312.6 714.9,312.7 715.4,312.8 715.8,312.9 716.2,313.0 716.8,313.1 717.4,313.2 718.0,313.2 718.6,313.2 719.2,313.1 719.7,312.8 720.2,312.5 720.6,311.9 720.8,311.6 720.9,311.3 721.0,311.0 721.2,310.6 721.3,310.2 721.4,309.8 721.5,309.4 721.6,308.9 721.6,308.5 721.7,308.0 721.8,307.5 721.9,306.9 722.0,306.4 722.0,305.8 722.1,305.2 722.2,304.5 722.3,303.9 722.4,303.2 722.5,302.5 722.6,302.1 722.6,301.7 722.7,301.2 722.7,300.7 722.8,300.2 722.9,299.7 722.9,299.1 723.0,298.6 723.1,298.0 723.1,297.4 723.2,296.8 723.3,296.2 723.3,295.5 723.4,294.9 723.5,294.3 723.5,293.7 723.6,293.0 723.7,292.4 723.7,291.8 723.8,291.2 723.9,290.6 723.9,290.1 724.0,289.5 724.1,289.0 724.1,288.5 724.2,288.0 724.3,287.5 724.3,287.1 724.4,286.7 724.5,286.3 724.5,285.9 724.6,285.6 724.6,285.4 724.7,285.2 724.8,285.0 724.9,284.7 725.0,284.7 725.2,284.9 725.3,285.3 725.4,285.8 725.5,286.4 725.7,287.1 725.8,287.8 725.9,288.6 726.0,289.4 726.2,290.2 726.3,290.9 726.4,291.5 726.5,292.0 726.6,292.6 726.8,293.1 726.9,293.7 727.0,294.2 727.2,294.7 727.3,295.3 727.4,295.7 727.6,296.2 727.7,296.7 727.8,297.1 728.0,297.5 728.2,298.0 728.5,298.5 728.7,298.9 729.0,299.2 729.3,299.6 729.6,300.0 730.0,300.5 730.3,300.9 730.5,301.2 730.8,301.6 731.1,302.0 731.4,302.4 731.8,302.9 732.1,303.3 732.5,303.7 732.9,304.2 733.3,304.6 733.8,305.0 734.1,305.3 734.4,305.6 734.8,305.9 735.2,306.2 735.6,306.5 736.0,306.9 736.4,307.2 736.9,307.5 737.3,307.8 737.7,308.1 738.2,308.4 738.6,308.6 739.1,308.9 739.5,309.2 740.0,309.4 740.5,309.6 740.9,309.8 741.4,310.1 741.8,310.3 742.3,310.5 742.7,310.7 743.2,310.8 743.7,311.0 744.2,311.2 744.7,311.3 745.2,311.5 745.7,311.6 746.3,311.7 746.9,311.8 747.5,311.9 747.9,312.0 748.4,312.0 748.9,312.1 749.4,312.1 749.9,312.2 750.5,312.2 751.0,312.2 751.6,312.3 752.1,312.3 752.7,312.3 753.3,312.3 753.8,312.3 754.4,312.3 755.0,312.3 755.5,312.3 756.0,312.3 756.5,312.2 757.0,312.2 757.5,312.1 757.9,312.1 758.4,312.0 758.8,311.9 759.3,311.7 759.9,311.4 760.4,311.1 760.8,310.8 761.2,310.4 761.6,310.1 761.9,309.7 762.2,309.3 762.6,308.9 762.9,308.5 763.1,308.1 763.4,307.8 763.8,307.5 764.2,307.1 764.7,306.6 765.1,306.1 765.4,305.7 765.8,305.4 766.2,305.1 766.5,305.0 766.9,305.0 767.2,305.1 767.6,305.4 767.9,305.8 768.2,306.3 768.5,306.8 768.8,307.4 769.2,307.9 769.6,308.4 770.0,308.8 770.4,309.0 770.8,309.3 771.3,309.7 771.7,310.0 772.2,310.3 772.7,310.5 773.2,310.8 773.7,311.0 774.1,311.1 774.6,311.2 775.0,311.2 775.5,311.3 775.9,311.3 776.4,311.3 776.8,311.2 777.2,311.0 777.6,310.8 778.0,310.3 778.4,309.6 778.8,308.8 778.8,308.4 778.9,308.1 779.0,307.7 779.1,307.3 779.2,306.9 779.3,306.4 779.4,306.0 779.5,305.5 779.6,305.0 779.7,304.4 779.8,303.9 779.8,303.3 779.9,302.8 780.0,302.2 780.1,301.6 780.2,301.0 780.2,300.4 780.3,299.9 780.4,299.3 780.5,298.7 780.5,298.1 780.6,297.5 780.7,297.0 780.7,296.4 780.8,295.9 780.9,295.3 781.0,294.8 781.0,294.3 781.1,293.9 781.2,293.4 781.2,293.0 781.4,292.3 781.5,291.6 781.6,290.9 781.7,290.3 781.8,289.6 781.9,288.9 782.0,288.2 782.1,287.6 782.2,287.0 782.3,286.4 782.4,285.8 782.5,285.3 782.6,284.9 782.7,284.5 782.8,284.1 782.9,283.8 783.0,283.6 783.1,283.4 783.2,283.3 783.3,283.3 783.5,283.4 783.6,283.6 783.7,283.9 783.9,284.3 784.0,284.7 784.1,285.3 784.3,285.8 784.4,286.4 784.6,287.1 784.7,287.7 784.9,288.4 785.0,289.1 785.2,289.7 785.3,290.4 785.5,291.0 785.6,291.4 785.7,291.9 785.9,292.4 786.0,292.9 786.1,293.4 786.3,293.9 786.4,294.4 786.5,295.0 786.7,295.5 786.8,296.1 787.0,296.6 787.1,297.2 787.3,297.7 787.4,298.3 787.5,298.8 787.7,299.4 787.8,299.9 788.0,300.4 788.1,300.8 788.3,301.3 788.4,301.7 788.6,302.1 788.8,302.5 789.0,303.2 789.4,303.8 789.7,304.4 790.0,305.0 790.3,305.5 790.7,306.0 791.0,306.4 791.3,306.7 791.6,307.0 791.9,307.2 792.2,307.4 792.5,307.5 792.8,307.5 793.1,307.4 793.4,307.1 793.7,306.8 794.0,306.3 794.2,305.8 794.5,305.2 794.7,304.5 795.0,303.8 795.1,303.4 795.2,303.0 795.4,302.7 795.5,302.3 795.6,301.9 795.8,301.5 795.9,301.1 796.0,300.6 796.1,300.2 796.2,299.7 796.4,299.2 796.5,298.7 796.6,298.1 796.8,297.6 796.9,297.0 797.0,296.4 797.1,295.8 797.2,295.1 797.4,294.5 797.5,293.8 797.6,293.4 797.6,293.0 797.7,292.5 797.8,292.1 797.8,291.7 797.9,291.2 798.0,290.8 798.0,290.3 798.1,289.9 798.2,289.4 798.2,288.9 798.3,288.4 798.4,287.9 798.4,287.4 798.5,286.9 798.6,286.4 798.6,285.9 798.7,285.3 798.8,284.8 798.8,284.3 798.9,283.7 799.0,283.2 799.0,282.7 799.1,282.1 799.2,281.6 799.2,281.0 799.3,280.5 799.4,279.9 799.4,279.4 799.5,278.8 799.6,278.3 799.6,277.7 799.7,277.2 799.8,276.6 799.9,276.1 799.9,275.5 800.0,275.0 800.1,274.5 800.1,274.0 800.2,273.5 800.3,272.9 800.3,272.3 800.4,271.7 800.4,271.1 800.5,270.5 800.6,269.8 800.6,269.2 800.7,268.5 800.8,267.9 800.8,267.2 800.9,266.5 801.0,265.9 801.1,265.2 801.1,264.5 801.2,263.8 801.3,263.2 801.3,262.5 801.4,261.9 801.5,261.2 801.5,260.6 801.6,260.0 801.7,259.4 801.7,258.9 801.8,258.3 801.9,257.8 801.9,257.3 802.0,256.8 802.1,256.3 802.1,255.9 802.2,255.5 802.3,255.2 802.3,254.9 802.4,254.6 802.4,254.3 802.5,254.1 802.6,254.0 802.6,253.8 802.7,253.8 802.8,253.8 802.8,253.8 802.9,253.8 802.9,254.0 803.0,254.1 803.0,254.3 803.1,254.5 803.2,254.8 803.2,255.1 803.3,255.5 803.3,255.8 803.4,256.3 803.4,256.7 803.5,257.2 803.5,257.6 803.6,258.2 803.7,258.7 803.7,259.2 803.8,259.8 803.8,260.4 803.9,261.0 803.9,261.6 804.0,262.3 804.0,262.9 804.1,263.6 804.1,264.2 804.2,264.9 804.2,265.6 804.3,266.2 804.3,266.9 804.4,267.6 804.4,268.3 804.5,268.9 804.6,269.6 804.6,270.3 804.7,270.9 804.7,271.5 804.8,272.1 804.8,272.8 804.9,273.3 804.9,273.9 805.0,274.5 805.0,275.0 805.0,275.5 805.1,276.0 805.1,276.5 805.2,277.0 805.2,277.5 805.3,278.1 805.3,278.6 805.3,279.1 805.4,279.7 805.4,280.2 805.5,280.8 805.5,281.3 805.5,281.9 805.6,282.4 805.6,283.0 805.7,283.5 805.7,284.1 805.7,284.6 805.8,285.2 805.8,285.7 805.8,286.3 805.9,286.8 805.9,287.4 806.0,287.9 806.0,288.5 806.0,289.0 806.1,289.5 806.1,290.0 806.2,290.6 806.2,291.1 806.2,291.6 806.3,292.1 806.3,292.5 806.4,293.0 806.4,293.5 806.4,293.9 806.5,294.4 806.5,294.8 806.6,295.2 806.6,295.7 806.7,296.0 806.7,296.4 806.8,296.8 806.8,297.2 806.9,297.5 807.1,298.4 807.2,299.2 807.4,299.9 807.6,300.5 807.8,301.1 807.9,301.6 808.1,302.0 808.3,302.4 808.5,302.8 808.7,303.1 808.9,303.4 809.2,303.7 809.4,304.0 809.6,304.3 809.8,304.7 810.0,305.0 810.3,305.5 810.7,306.0 811.1,306.4 811.5,306.8 811.8,307.2 812.2,307.5 812.6,307.8 813.0,308.1 813.4,308.4 813.8,308.8 814.1,309.1 814.5,309.4 814.8,309.7 815.1,310.0 815.5,310.3 815.9,310.6 816.3,310.8 816.9,311.0 817.5,311.2 817.9,311.4 818.3,311.5 818.7,311.6 819.2,311.6 819.7,311.7 820.2,311.8 820.7,311.9 821.3,312.0 821.8,312.0 822.4,312.1 823.0,312.2 823.5,312.2 824.1,312.3 824.6,312.3 825.2,312.4 825.7,312.4 826.2,312.5 826.8,312.5 827.3,312.6 827.8,312.6 828.3,312.6 828.8,312.7 829.3,312.7 829.8,312.7 830.3,312.7 830.8,312.7 831.3,312.7 831.8,312.8 832.3,312.8 832.9,312.8 833.4,312.8 833.9,312.9 834.5,312.9 835.0,313.0 835.5,313.1 835.9,313.1 836.4,313.2 836.9,313.3 837.4,313.4 837.9,313.5 838.4,313.6 838.9,313.7 839.4,313.8 839.9,313.9 840.4,314.0 840.9,314.1 841.5,314.2 842.0,314.3 842.5,314.4 843.0,314.5 843.5,314.6 844.0,314.7 844.5,314.7 845.0,314.8 845.5,314.8 846.0,314.8 846.5,314.8 847.0,314.8 847.5,314.8 848.0,314.8 848.5,314.8 849.1,314.8 849.6,314.8 850.1,314.8 850.6,314.8 851.1,314.8 851.6,314.7 852.1,314.7 852.6,314.6 853.1,314.6 853.6,314.6 854.1,314.5 854.5,314.5 855.0,314.4 855.6,314.3 856.1,314.2 856.7,314.2 857.2,314.1 857.7,314.0 858.3,313.8 858.8,313.7 859.3,313.6 859.9,313.5 860.4,313.4 860.9,313.2 861.4,313.1 861.9,313.0 862.4,312.9 862.8,312.7 863.3,312.6 863.8,312.5 864.3,312.3 864.9,312.2 865.4,312.0 865.9,311.8 866.4,311.6 866.9,311.4 867.3,311.2 867.8,311.0 868.3,310.9 868.7,310.7 869.1,310.7 869.6,310.6 870.0,310.6 870.5,310.7 871.0,310.8 871.5,311.1 872.0,311.4 872.4,311.7 872.9,312.0 873.3,312.3 873.8,312.6 874.2,312.8 874.6,313.0 875.0,313.0 875.5,312.9 875.9,312.7 876.4,312.5 876.8,312.1 877.2,311.8 877.6,311.3 878.0,310.9 878.4,310.5 878.8,310.0 879.0,309.6 879.3,309.2 879.5,308.7 879.8,308.2 880.0,307.7 880.2,307.3 880.4,306.8 880.7,306.3 880.9,305.8 881.1,305.4 881.2,305.0 881.6,304.3 881.9,303.6 882.1,303.0 882.4,302.5 882.7,302.1 883.0,302.0 883.3,302.1 883.7,302.4 884.0,302.8 884.4,303.3 884.8,303.9 885.2,304.4 885.6,305.0 885.9,305.4 886.2,305.8 886.4,306.3 886.7,306.7 887.0,307.2 887.3,307.7 887.7,308.1 888.0,308.6 888.4,309.0 888.8,309.4 889.1,309.7 889.6,310.1 890.0,310.4 890.5,310.7 891.0,311.0 891.5,311.3 892.0,311.5 892.5,311.8 892.9,312.0 893.4,312.2 893.8,312.3 894.4,312.6 895.0,312.7 895.5,312.8 896.0,312.6 896.6,312.2 896.9,311.9 897.2,311.6 897.5,311.2 897.8,310.8 898.1,310.4 898.4,309.9 898.7,309.4 899.0,308.9 899.3,308.3 899.6,307.8 899.9,307.4 900.1,306.9 900.3,306.4 900.6,305.8 900.8,305.1 901.0,304.5 901.2,303.8 901.4,303.2 901.5,302.7 901.7,302.2 901.9,301.9 902.1,301.6 902.3,301.6 902.5,301.7 902.6,301.9 902.8,302.3 903.0,302.7 903.1,303.2 903.3,303.8 903.5,304.4 903.6,305.0 903.8,305.6 904.0,306.3 904.2,306.8 904.4,307.4 904.6,307.8 904.9,308.3 905.1,308.8 905.4,309.2 905.7,309.7 906.1,310.2 906.4,310.6 906.7,311.0 907.0,311.4 907.4,311.7 907.7,312.0 908.1,312.2 908.6,312.4 909.0,312.6 909.5,312.7 910.1,312.7 910.6,312.7 911.1,312.7 911.6,312.6 912.1,312.4 912.6,312.2 913.0,311.9 913.4,311.6 913.7,311.1 914.1,310.6 914.5,310.1 914.8,309.5 915.2,309.0 915.5,308.5 915.8,308.2 916.2,307.9 916.5,307.8 916.9,307.8 917.2,308.1 917.5,308.4 917.8,308.9 918.1,309.4 918.4,309.9 918.8,310.4 919.2,310.9 919.6,311.3 920.0,311.6 920.3,311.8 920.7,312.1 921.0,312.3 921.4,312.6 921.8,312.8 922.3,313.0 922.7,313.3 923.2,313.5 923.8,313.7 924.4,313.8 925.0,314.0 925.4,314.1 925.8,314.2 926.3,314.2 926.7,314.3 927.2,314.4 927.8,314.5 928.3,314.5 928.8,314.6 929.4,314.7 929.9,314.7 930.5,314.8 931.0,314.8 931.6,314.8 932.1,314.9 932.7,314.9 933.2,314.9 933.7,314.9 934.2,314.9 934.7,314.9 935.2,314.9 935.6,314.9 936.2,314.9 936.8,314.8 937.4,314.7 937.9,314.6 938.5,314.5 939.0,314.4 939.5,314.2 940.0,314.1 940.4,313.9 940.9,313.8 941.4,313.6 941.8,313.4 942.3,313.3 942.7,313.1 943.2,312.9 943.8,312.6 944.3,312.3 944.8,312.0 945.2,311.7 945.7,311.4 946.1,311.2 946.6,310.9 947.1,310.7 947.5,310.5 948.0,310.4 948.5,310.4 949.0,310.4 949.6,310.5 950.1,310.6 950.6,310.8 951.1,311.0 951.6,311.1 952.2,311.2 952.7,311.3 953.3,311.3 953.8,311.2 954.4,311.1 954.9,311.0 955.5,310.8 956.1,310.7 956.7,310.5 957.3,310.3 957.9,310.1 958.4,309.9 958.8,309.7 959.2,309.6 959.5,309.5" fill="none" stroke="#484848" stroke-width="1.2" stroke-linejoin="round" stroke-linecap="round"/>
<polyline points="520.0,304.0 520.3,304.0 520.6,304.0 520.9,304.0 521.2,304.0 521.6,304.0 521.9,304.0 522.3,304.0 522.8,304.0 523.2,304.0 523.6,304.0 524.1,304.0 524.6,304.0 525.1,304.0 525.6,304.0 526.1,304.0 526.7,304.0 527.2,304.0 527.8,304.0 528.4,304.0 528.9,304.0 529.5,304.0 530.1,304.0 530.7,304.0 531.3,304.0 531.9,304.0 532.5,304.0 533.2,304.0 533.8,304.0 534.4,304.0 535.0,304.0 535.6,304.0 536.0,304.0 536.5,304.0 536.9,304.0 537.4,304.0 537.8,304.0 538.3,304.0 538.8,304.0 539.2,304.0 539.7,304.0 540.2,304.1 540.7,304.1 541.2,304.1 541.7,304.1 542.2,304.1 542.7,304.1 543.2,304.1 543.7,304.1 544.2,304.1 544.7,304.1 545.2,304.1 545.7,304.1 546.3,304.1 546.8,304.2 547.3,304.2 547.8,304.2 548.4,304.2 548.9,304.2 549.4,304.2 549.9,304.2 550.5,304.2 551.0,304.2 551.5,304.2 552.1,304.2 552.6,304.2 553.1,304.2 553.6,304.3 554.2,304.3 554.7,304.3 555.2,304.3 555.7,304.3 556.2,304.3 556.7,304.3 557.2,304.3 557.8,304.3 558.3,304.3 558.8,304.3 559.3,304.3 559.8,304.3 560.3,304.3 560.8,304.3 561.3,304.3 561.8,304.3 562.3,304.3 562.8,304.4 563.3,304.4 563.8,304.4 564.3,304.4 564.8,304.4 565.3,304.4 565.8,304.4 566.4,304.4 566.9,304.4 567.4,304.4 567.9,304.4 568.4,304.4 568.9,304.4 569.4,304.4 569.9,304.4 570.4,304.4 570.9,304.4 571.4,304.4 571.9,304.4 572.4,304.4 572.9,304.4 573.4,304.4 573.9,304.4 574.5,304.4 575.0,304.4 575.5,304.4 576.0,304.4 576.5,304.4 577.0,304.4 577.5,304.4 578.0,304.4 578.5,304.4 579.0,304.4 579.5,304.4 580.0,304.4 580.5,304.4 581.0,304.4 581.5,304.4 582.0,304.4 582.5,304.4 583.0,304.4 583.5,304.3 584.0,304.3 584.5,304.3 585.0,304.3 585.5,304.3 586.0,304.3 586.5,304.3 587.0,304.2 587.5,304.2 588.0,304.2 588.5,304.2 589.0,304.2 589.5,304.2 590.0,304.2 590.5,304.1 591.0,304.1 591.5,304.1 592.0,304.1 592.5,304.1 593.0,304.1 593.5,304.0 594.0,304.0 594.5,304.0 595.0,304.0 595.5,304.0 596.0,304.0 596.5,303.9 597.0,303.9 597.5,303.9 598.0,303.9 598.5,303.9 599.0,303.9 599.5,303.9 600.0,303.8 600.5,303.8 601.0,303.8 601.5,303.8 602.0,303.8 602.5,303.8 603.0,303.8 603.5,303.8 604.1,303.8 604.6,303.8 605.1,303.8 605.7,303.8 606.2,303.8 606.8,303.7 607.4,303.7 607.9,303.7 608.5,303.7 609.1,303.7 609.6,303.7 610.2,303.7 610.8,303.7 611.3,303.7 611.9,303.7 612.5,303.7 613.1,303.7 613.6,303.7 614.2,303.7 614.7,303.7 615.3,303.7 615.8,303.7 616.4,303.7 616.9,303.7 617.4,303.7 618.0,303.7 618.5,303.7 619.0,303.7 619.5,303.7 619.9,303.7 620.4,303.7 620.9,303.7 621.3,303.7 621.7,303.7 622.1,303.7 622.5,303.7 622.9,303.7 623.3,303.6 623.6,303.6 624.0,303.6 624.3,303.6 624.6,303.6 626.0,303.5 626.7,303.3 626.9,303.0 626.9,302.8 627.0,302.6 627.2,302.5 628.0,302.5 628.3,302.5 628.7,302.6 629.0,302.6 629.4,302.7 629.8,302.7 630.2,302.8 630.6,302.9 631.1,302.9 631.5,303.0 632.0,303.1 632.5,303.2 633.0,303.3 633.5,303.4 634.0,303.5 634.5,303.6 635.1,303.7 635.7,303.8 636.2,303.9 636.8,304.0 637.4,304.1 638.1,304.1 638.7,304.2 639.3,304.3 640.0,304.3 640.4,304.3 640.8,304.3 641.3,304.4 641.7,304.4 642.2,304.4 642.7,304.4 643.2,304.4 643.7,304.4 644.2,304.4 644.7,304.5 645.2,304.5 645.7,304.5 646.3,304.5 646.8,304.5 647.4,304.5 647.9,304.5 648.5,304.5 649.0,304.5 649.6,304.5 650.2,304.5 650.7,304.5 651.3,304.5 651.8,304.5 652.4,304.5 652.9,304.5 653.5,304.5 654.0,304.5 654.5,304.5 655.0,304.4 655.6,304.4 656.1,304.4 656.6,304.4 657.0,304.4 657.5,304.4 658.0,304.4 658.4,304.4 658.8,304.4 659.2,304.4 659.6,304.4 660.0,304.4 660.8,304.4 661.5,304.4 662.1,304.4 662.7,304.4 663.3,304.4 663.8,304.4 664.3,304.4 664.7,304.4 665.1,304.4 665.6,304.4 666.0,304.4 666.4,304.4 666.8,304.3 667.3,304.3 667.7,304.3 668.3,304.2 668.8,304.2 669.4,304.1 669.8,304.0 670.3,304.0 670.8,303.9 671.3,303.8 671.8,303.7 672.3,303.6 672.8,303.5 673.3,303.4 673.8,303.3 674.4,303.2 674.9,303.1 675.4,302.9 676.0,302.8 676.5,302.7 677.1,302.6 677.6,302.5 678.1,302.4 678.7,302.3 679.2,302.2 679.7,302.1 680.2,302.1 680.7,302.0 681.2,302.0 681.6,301.9 682.1,301.9 682.5,301.9 683.1,301.9 683.7,302.0 684.3,302.1 684.8,302.3 685.4,302.4 685.9,302.6 686.4,302.8 686.9,303.1 687.4,303.3 687.9,303.5 688.3,303.7 688.8,303.9 689.2,304.1 689.6,304.2 690.1,304.3 690.5,304.4 690.9,304.4 691.2,304.4 691.8,304.3 692.2,304.2 692.7,304.1 693.1,304.0 693.5,303.9 693.9,303.7 694.2,303.4 694.6,303.1 694.9,302.6 695.3,302.1 695.6,301.5 695.9,300.8 696.2,300.0 696.4,299.7 696.5,299.4 696.6,299.0 696.7,298.7 696.8,298.3 696.9,297.9 697.0,297.5 697.2,297.1 697.3,296.7 697.4,296.3 697.5,295.8 697.6,295.4 697.7,294.9 697.8,294.5 697.9,294.0 698.0,293.5 698.1,293.0 698.2,292.5 698.3,292.0 698.4,291.5 698.5,290.9 698.6,290.4 698.7,289.9 698.8,289.3 698.9,288.8 699.0,288.2 699.1,287.7 699.2,287.1 699.3,286.5 699.3,285.9 699.4,285.4 699.5,284.8 699.6,284.2 699.7,283.6 699.8,283.0 699.8,282.4 699.9,281.8 700.0,281.2 700.1,280.8 700.1,280.4 700.2,279.9 700.2,279.5 700.3,279.0 700.3,278.5 700.4,278.0 700.4,277.5 700.4,277.0 700.5,276.5 700.5,276.0 700.6,275.5 700.6,275.0 700.7,274.5 700.7,274.0 700.7,273.4 700.8,272.9 700.8,272.4 700.8,271.8 700.9,271.3 700.9,270.8 700.9,270.2 701.0,269.7 701.0,269.1 701.0,268.6 701.1,268.0 701.1,267.5 701.1,267.0 701.2,266.4 701.2,265.9 701.2,265.3 701.3,264.8 701.3,264.3 701.3,263.7 701.4,263.2 701.4,262.7 701.4,262.2 701.5,261.6 701.5,261.1 701.5,260.6 701.6,260.1 701.6,259.6 701.6,259.1 701.7,258.6 701.7,258.2 701.8,257.7 701.8,257.2 701.8,256.8 701.9,256.3 701.9,255.9 702.0,255.4 702.0,255.0 702.1,254.4 702.1,253.7 702.2,253.1 702.3,252.4 702.3,251.7 702.4,251.1 702.5,250.4 702.5,249.7 702.6,249.0 702.7,248.3 702.7,247.7 702.8,247.0 702.9,246.3 703.0,245.7 703.0,245.1 703.1,244.4 703.2,243.8 703.3,243.2 703.3,242.6 703.4,242.1 703.5,241.6 703.5,241.1 703.6,240.6 703.7,240.1 703.8,239.7 703.8,239.3 703.9,238.9 704.0,238.6 704.1,238.3 704.1,238.1 704.2,237.9 704.3,237.7 704.4,237.6 704.4,237.5 704.5,237.5 704.6,237.5 704.6,237.6 704.7,237.7 704.8,237.9 704.9,238.1 704.9,238.3 705.0,238.6 705.1,238.9 705.2,239.3 705.2,239.7 705.3,240.1 705.4,240.6 705.5,241.1 705.5,241.6 705.6,242.1 705.7,242.6 705.8,243.2 705.8,243.8 705.9,244.4 706.0,245.1 706.1,245.7 706.1,246.3 706.2,247.0 706.3,247.7 706.3,248.3 706.4,249.0 706.5,249.7 706.5,250.4 706.6,251.1 706.7,251.7 706.7,252.4 706.8,253.1 706.9,253.7 706.9,254.4 707.0,255.0 707.0,255.4 707.1,255.9 707.1,256.3 707.2,256.8 707.2,257.2 707.2,257.7 707.3,258.2 707.3,258.7 707.3,259.2 707.4,259.7 707.4,260.2 707.4,260.7 707.5,261.2 707.5,261.7 707.5,262.3 707.6,262.8 707.6,263.3 707.6,263.9 707.7,264.4 707.7,265.0 707.7,265.5 707.8,266.1 707.8,266.6 707.8,267.2 707.8,267.7 707.9,268.3 707.9,268.8 707.9,269.4 708.0,269.9 708.0,270.5 708.0,271.0 708.1,271.6 708.1,272.1 708.1,272.7 708.1,273.2 708.2,273.7 708.2,274.2 708.2,274.8 708.3,275.3 708.3,275.8 708.3,276.3 708.4,276.8 708.4,277.3 708.4,277.7 708.5,278.2 708.5,278.7 708.6,279.1 708.6,279.6 708.6,280.0 708.7,280.4 708.7,280.8 708.8,281.2 708.8,281.9 708.9,282.6 709.0,283.3 709.0,283.9 709.1,284.5 709.2,285.2 709.3,285.8 709.3,286.4 709.4,287.0 709.5,287.5 709.6,288.1 709.6,288.6 709.7,289.2 709.8,289.7 709.9,290.2 710.0,290.7 710.0,291.2 710.1,291.6 710.2,292.1 710.3,292.5 710.4,293.0 710.5,293.4 710.6,293.8 710.7,294.2 710.8,294.6 710.8,294.9 710.9,295.3 711.0,295.6 711.1,295.9 711.2,296.2 711.6,297.1 712.0,297.8 712.3,298.2 712.7,298.5 713.1,298.7 713.5,298.9 714.0,299.0 714.5,299.2 715.0,299.4 715.4,299.6 715.9,299.9 716.4,300.2 716.9,300.6 717.4,300.9 718.0,301.2 718.5,301.5 719.1,301.7 719.6,301.9 720.1,301.9 720.5,301.8 720.9,301.6 721.2,301.2 721.4,301.0 721.5,300.8 721.6,300.5 721.7,300.2 721.8,299.8 721.9,299.5 722.0,299.1 722.1,298.7 722.2,298.2 722.2,297.8 722.3,297.3 722.3,296.8 722.4,296.3 722.4,295.8 722.5,295.2 722.5,294.7 722.5,294.1 722.6,293.5 722.6,292.9 722.6,292.3 722.7,291.6 722.7,291.0 722.8,290.3 722.8,289.6 722.9,288.9 722.9,288.2 723.0,287.5 723.0,287.1 723.1,286.7 723.1,286.3 723.2,285.9 723.2,285.4 723.2,285.0 723.3,284.5 723.3,284.0 723.4,283.6 723.4,283.1 723.4,282.6 723.5,282.1 723.5,281.6 723.6,281.1 723.6,280.6 723.6,280.0 723.7,279.5 723.7,279.0 723.8,278.4 723.8,277.9 723.8,277.4 723.9,276.8 723.9,276.3 724.0,275.7 724.0,275.2 724.1,274.6 724.1,274.1 724.1,273.5 724.2,273.0 724.2,272.4 724.3,271.9 724.3,271.3 724.3,270.8 724.4,270.3 724.4,269.7 724.5,269.2 724.5,268.7 724.5,268.2 724.6,267.6 724.6,267.1 724.7,266.6 724.7,266.1 724.7,265.7 724.8,265.2 724.8,264.7 724.9,264.2 724.9,263.8 724.9,263.4 725.0,262.9 725.0,262.5 725.1,261.9 725.1,261.2 725.2,260.6 725.2,259.9 725.3,259.3 725.3,258.6 725.3,258.0 725.4,257.3 725.4,256.7 725.5,256.0 725.5,255.4 725.6,254.8 725.6,254.1 725.7,253.5 725.7,252.9 725.7,252.3 725.8,251.8 725.8,251.2 725.9,250.7 725.9,250.2 726.0,249.7 726.0,249.2 726.0,248.8 726.1,248.4 726.1,248.0 726.2,247.6 726.2,247.3 726.3,247.0 726.3,246.7 726.4,246.5 726.4,246.3 726.5,246.1 726.5,246.0 726.6,245.9 726.7,245.9 726.8,246.1 726.8,246.4 726.9,246.7 727.0,247.2 727.1,247.7 727.2,248.3 727.3,248.9 727.4,249.6 727.5,250.3 727.6,251.0 727.7,251.7 727.8,252.4 727.9,253.1 727.9,253.8 728.0,254.4 728.1,255.0 728.2,255.5 728.3,256.0 728.4,256.6 728.6,257.2 728.7,257.7 728.8,258.2 729.0,258.7 729.1,259.1 729.2,259.6 729.3,260.0 729.5,260.4 729.6,260.9 729.7,261.4 729.9,261.9 730.0,262.5 730.1,262.9 730.2,263.4 730.3,263.9 730.4,264.3 730.5,264.8 730.7,265.3 730.8,265.8 730.9,266.2 731.0,266.8 731.1,267.3 731.2,267.8 731.3,268.3 731.5,268.9 731.6,269.5 731.7,270.0 731.8,270.6 731.9,271.2 732.0,271.7 732.0,272.1 732.1,272.6 732.2,273.1 732.2,273.6 732.3,274.2 732.4,274.7 732.4,275.3 732.5,275.8 732.6,276.4 732.6,277.0 732.7,277.5 732.7,278.1 732.8,278.7 732.9,279.2 732.9,279.7 733.0,280.3 733.1,280.8 733.2,281.3 733.3,281.8 733.3,282.2 733.4,282.6 733.5,283.0 733.6,283.4 733.8,283.8 734.1,284.5 734.4,285.0 734.8,285.3 735.2,285.6 735.6,285.8 736.0,286.0 736.4,286.2 736.8,286.5 737.2,286.9 737.5,287.5 737.7,287.9 737.8,288.3 737.9,288.7 738.1,289.2 738.2,289.7 738.3,290.2 738.5,290.7 738.6,291.3 738.7,291.9 738.8,292.4 738.9,293.0 739.1,293.6 739.2,294.1 739.3,294.7 739.4,295.2 739.5,295.7 739.6,296.2 739.8,296.7 739.9,297.1 740.0,297.5 740.2,298.2 740.4,298.8 740.6,299.3 740.8,299.8 741.0,300.3 741.2,300.7 741.4,301.1 741.6,301.5 741.9,301.8 742.2,302.2 742.5,302.5 742.9,302.8 743.3,303.1 743.8,303.4 744.3,303.6 744.8,303.8 745.3,304.0 745.8,304.1 746.4,304.2 746.9,304.3 747.5,304.4 748.0,304.4 748.5,304.5 749.0,304.4 749.5,304.4 750.1,304.4 750.6,304.3 751.2,304.2 751.7,304.1 752.2,304.1 752.8,304.0 753.3,303.9 753.8,303.8 754.3,303.6 754.9,303.6 755.4,303.5 756.0,303.4 756.5,303.3 757.0,303.2 757.5,303.0 757.9,302.7 758.4,302.3 758.8,301.9 759.0,301.6 759.2,301.2 759.3,300.8 759.5,300.4 759.7,300.0 759.8,299.5 760.0,299.0 760.1,298.5 760.2,298.0 760.3,297.5 760.5,296.9 760.6,296.4 760.7,295.8 760.8,295.3 761.0,294.8 761.1,294.3 761.2,293.8 761.4,293.3 761.5,292.8 761.7,292.3 761.8,291.7 761.9,291.2 762.1,290.7 762.2,290.1 762.4,289.6 762.5,289.1 762.6,288.5 762.8,288.0 762.9,287.5 763.1,287.0 763.2,286.6 763.3,286.1 763.5,285.7 763.6,285.3 763.8,285.0 764.1,284.2 764.5,283.4 764.8,282.7 765.2,282.1 765.5,281.8 765.9,281.7 766.2,281.9 766.4,282.1 766.6,282.4 766.7,282.7 766.8,283.1 767.0,283.6 767.1,284.1 767.3,284.6 767.4,285.2 767.6,285.8 767.7,286.4 767.9,287.0 768.0,287.7 768.2,288.3 768.4,288.9 768.6,289.5 768.8,290.0 768.9,290.5 769.1,290.9 769.3,291.4 769.4,291.9 769.6,292.4 769.8,292.9 770.0,293.4 770.2,293.9 770.4,294.4 770.6,294.9 770.8,295.4 771.0,295.9 771.2,296.3 771.4,296.8 771.6,297.2 771.8,297.6 772.0,298.0 772.3,298.4 772.5,298.8 772.9,299.3 773.3,299.9 773.7,300.5 774.2,301.1 774.7,301.6 775.1,302.1 775.6,302.5 776.0,302.8 776.4,303.0 776.8,303.0 777.2,302.9 777.5,302.5 777.6,302.3 777.7,302.0 777.8,301.8 777.9,301.4 778.0,301.1 778.1,300.7 778.2,300.3 778.2,299.9 778.3,299.4 778.4,298.9 778.5,298.4 778.5,297.9 778.6,297.4 778.6,296.8 778.7,296.2 778.7,295.7 778.8,295.1 778.8,294.5 778.9,293.9 778.9,293.3 779.0,292.7 779.0,292.1 779.1,291.5 779.1,290.9 779.2,290.3 779.2,289.7 779.3,289.1 779.3,288.6 779.3,288.0 779.4,287.5 779.4,287.0 779.5,286.5 779.5,286.0 779.6,285.5 779.6,285.0 779.7,284.5 779.7,284.0 779.7,283.5 779.8,283.0 779.8,282.5 779.8,282.0 779.9,281.5 779.9,281.0 779.9,280.5 780.0,280.0 780.0,279.5 780.0,278.9 780.1,278.4 780.1,277.9 780.1,277.4 780.2,276.9 780.2,276.4 780.2,275.9 780.3,275.3 780.3,274.8 780.4,274.3 780.4,273.8 780.4,273.3 780.5,272.8 780.5,272.3 780.6,271.8 780.6,271.2 780.6,270.7 780.7,270.2 780.7,269.7 780.8,269.2 780.8,268.7 780.9,268.1 780.9,267.6 781.0,267.1 781.0,266.6 781.1,266.0 781.1,265.5 781.2,265.0 781.3,264.5 781.3,263.9 781.4,263.4 781.4,262.9 781.5,262.4 781.5,261.8 781.6,261.3 781.6,260.8 781.7,260.3 781.8,259.8 781.8,259.3 781.9,258.8 781.9,258.3 782.0,257.8 782.0,257.3 782.1,256.9 782.1,256.4 782.2,255.9 782.2,255.5 782.3,255.0 782.4,254.4 782.4,253.8 782.5,253.2 782.6,252.5 782.6,251.9 782.7,251.2 782.8,250.5 782.8,249.9 782.9,249.2 783.0,248.5 783.0,247.9 783.1,247.3 783.2,246.7 783.3,246.1 783.3,245.5 783.4,245.0 783.5,244.5 783.5,244.1 783.6,243.7 783.7,243.3 783.7,243.0 783.8,242.8 783.9,242.6 783.9,242.5 784.0,242.5 784.1,242.5 784.1,242.6 784.2,242.8 784.3,243.0 784.3,243.3 784.4,243.7 784.5,244.1 784.5,244.5 784.6,245.0 784.7,245.5 784.7,246.1 784.8,246.7 784.9,247.3 784.9,247.9 785.0,248.5 785.1,249.2 785.1,249.9 785.2,250.5 785.3,251.2 785.4,251.9 785.4,252.5 785.5,253.2 785.6,253.8 785.6,254.4 785.7,255.0 785.8,255.5 785.8,255.9 785.9,256.4 785.9,256.8 786.0,257.3 786.0,257.8 786.1,258.3 786.1,258.7 786.2,259.2 786.2,259.7 786.3,260.2 786.3,260.7 786.4,261.2 786.4,261.7 786.5,262.2 786.6,262.7 786.6,263.2 786.7,263.8 786.7,264.3 786.8,264.8 786.8,265.3 786.9,265.9 786.9,266.4 787.0,266.9 787.1,267.5 787.1,268.0 787.2,268.5 787.2,269.1 787.3,269.6 787.4,270.2 787.4,270.7 787.5,271.2 787.6,271.7 787.6,272.2 787.7,272.7 787.7,273.2 787.8,273.8 787.9,274.3 787.9,274.9 788.0,275.4 788.1,276.0 788.1,276.5 788.2,277.1 788.3,277.7 788.3,278.3 788.4,278.8 788.5,279.4 788.5,280.0 788.6,280.6 788.7,281.1 788.7,281.7 788.8,282.2 788.9,282.8 789.0,283.4 789.0,283.9 789.1,284.4 789.2,284.9 789.2,285.4 789.3,285.9 789.4,286.4 789.4,286.9 789.5,287.3 789.6,287.8 789.7,288.2 789.7,288.6 789.8,289.0 789.9,289.3 789.9,289.7 790.0,290.0 790.3,291.1 790.6,292.0 790.8,292.7 791.1,293.2 791.4,293.6 791.7,293.8 791.9,293.9 792.2,293.9 792.5,293.8 792.7,293.6 792.9,293.4 793.1,293.1 793.3,292.8 793.5,292.4 793.7,291.9 793.9,291.4 794.1,290.8 794.3,290.2 794.5,289.6 794.6,288.9 794.8,288.2 795.0,287.5 795.1,287.1 795.2,286.8 795.3,286.4 795.3,286.0 795.4,285.7 795.5,285.3 795.6,284.9 795.6,284.6 795.7,284.2 795.8,283.8 795.9,283.4 795.9,283.0 796.0,282.5 796.1,282.0 796.2,281.6 796.2,281.0 796.3,280.5 796.4,279.9 796.4,279.3 796.5,278.7 796.6,278.1 796.7,277.4 796.7,276.6 796.8,275.8 796.9,275.0 796.9,274.6 797.0,274.3 797.0,273.9 797.0,273.5 797.1,273.1 797.1,272.7 797.1,272.3 797.2,271.8 797.2,271.4 797.2,271.0 797.3,270.5 797.3,270.0 797.3,269.6 797.4,269.1 797.4,268.6 797.4,268.1 797.5,267.6 797.5,267.1 797.6,266.6 797.6,266.1 797.6,265.6 797.7,265.1 797.7,264.5 797.7,264.0 797.8,263.5 797.8,263.0 797.8,262.4 797.9,261.9 797.9,261.3 797.9,260.8 798.0,260.2 798.0,259.7 798.1,259.1 798.1,258.6 798.1,258.0 798.2,257.5 798.2,256.9 798.2,256.4 798.3,255.8 798.3,255.3 798.3,254.7 798.4,254.2 798.4,253.6 798.4,253.1 798.5,252.6 798.5,252.0 798.5,251.5 798.6,251.0 798.6,250.4 798.7,249.9 798.7,249.4 798.7,248.9 798.8,248.4 798.8,247.9 798.8,247.4 798.9,246.9 798.9,246.4 798.9,245.9 799.0,245.5 799.0,245.0 799.0,244.4 799.1,243.9 799.1,243.3 799.2,242.8 799.2,242.2 799.2,241.7 799.3,241.1 799.3,240.6 799.4,240.0 799.4,239.5 799.5,238.9 799.5,238.4 799.5,237.8 799.6,237.3 799.6,236.7 799.7,236.2 799.7,235.6 799.7,235.1 799.8,234.6 799.8,234.0 799.9,233.5 799.9,233.0 799.9,232.4 800.0,231.9 800.0,231.4 800.1,230.9 800.1,230.3 800.1,229.8 800.2,229.3 800.2,228.8 800.3,228.3 800.3,227.8 800.3,227.3 800.4,226.9 800.4,226.4 800.5,225.9 800.5,225.4 800.5,225.0 800.6,224.5 800.6,224.1 800.7,223.6 800.7,223.2 800.7,222.8 800.8,222.4 800.8,222.0 800.8,221.5 800.9,221.1 800.9,220.8 801.0,220.4 801.0,220.0 801.1,219.2 801.2,218.5 801.2,217.7 801.3,216.9 801.4,216.2 801.5,215.5 801.5,214.8 801.6,214.1 801.7,213.4 801.8,212.8 801.8,212.1 801.9,211.6 802.0,211.0 802.1,210.5 802.1,210.0 802.2,209.6 802.3,209.2 802.4,208.9 802.4,208.6 802.5,208.3 802.6,208.2 802.7,208.0 802.7,208.0 802.8,208.0 802.9,208.1 802.9,208.2 803.0,208.3 803.1,208.5 803.1,208.8 803.2,209.0 803.2,209.3 803.3,209.7 803.4,210.1 803.4,210.5 803.5,211.0 803.5,211.4 803.6,212.0 803.7,212.5 803.7,213.1 803.8,213.7 803.8,214.3 803.9,214.9 804.0,215.6 804.0,216.2 804.1,216.9 804.2,217.6 804.2,218.3 804.3,219.0 804.4,219.8 804.5,220.5 804.5,221.3 804.6,222.0 804.6,222.4 804.7,222.8 804.7,223.2 804.8,223.6 804.8,224.0 804.8,224.4 804.9,224.9 804.9,225.3 804.9,225.8 805.0,226.3 805.0,226.7 805.1,227.2 805.1,227.7 805.1,228.2 805.2,228.7 805.2,229.2 805.3,229.7 805.3,230.2 805.3,230.8 805.4,231.3 805.4,231.8 805.5,232.4 805.5,232.9 805.6,233.4 805.6,234.0 805.6,234.5 805.7,235.1 805.7,235.6 805.8,236.2 805.8,236.7 805.9,237.3 805.9,237.8 805.9,238.4 806.0,238.9 806.0,239.5 806.1,240.0 806.1,240.6 806.2,241.1 806.2,241.6 806.3,242.2 806.3,242.7 806.3,243.2 806.4,243.8 806.4,244.3 806.5,244.8 806.5,245.3 806.6,245.8 806.6,246.3 806.7,246.8 806.7,247.3 806.8,247.7 806.8,248.2 806.9,248.7 806.9,249.1 807.0,249.6 807.0,250.0 807.1,250.6 807.1,251.2 807.2,251.8 807.3,252.4 807.3,253.0 807.4,253.5 807.5,254.1 807.6,254.7 807.6,255.2 807.7,255.8 807.8,256.4 807.9,256.9 807.9,257.4 808.0,258.0 808.1,258.5 808.2,259.1 808.3,259.6 808.3,260.1 808.4,260.6 808.5,261.1 808.6,261.6 808.7,262.1 808.7,262.6 808.8,263.1 808.9,263.6 809.0,264.1 809.0,264.5 809.1,265.0 809.2,265.4 809.3,265.9 809.3,266.3 809.4,266.8 809.5,267.2 809.6,267.6 809.6,268.0 809.7,268.4 809.8,268.8 809.9,269.2 809.9,269.6 810.0,270.0 810.1,270.7 810.3,271.4 810.4,272.0 810.6,272.6 810.7,273.1 810.8,273.6 811.0,274.1 811.1,274.5 811.2,275.0 811.4,275.4 811.5,275.8 811.6,276.2 811.7,276.6 811.9,277.0 812.0,277.5 812.1,277.9 812.2,278.4 812.3,278.9 812.4,279.4 812.5,280.0 812.6,280.4 812.6,280.9 812.7,281.4 812.7,281.9 812.8,282.4 812.8,282.9 812.9,283.5 812.9,284.0 813.0,284.6 813.0,285.1 813.0,285.7 813.1,286.3 813.1,286.8 813.1,287.4 813.2,287.9 813.2,288.5 813.2,289.0 813.3,289.6 813.3,290.1 813.4,290.6 813.4,291.1 813.5,291.6 813.5,292.1 813.6,292.5 813.6,293.0 813.7,293.4 813.8,293.8 813.9,294.5 814.1,295.2 814.2,295.8 814.4,296.4 814.6,296.9 814.7,297.4 814.9,297.8 815.1,298.3 815.3,298.6 815.6,299.0 815.8,299.4 816.0,299.7 816.2,300.0 816.7,300.5 817.1,300.9 817.5,301.3 818.0,301.5 818.4,301.7 818.9,301.9 819.5,301.9 820.0,301.9 820.4,301.8 820.8,301.6 821.3,301.4 821.7,301.1 822.2,300.8 822.7,300.5 823.1,300.1 823.6,299.7 824.1,299.4 824.5,299.1 825.0,298.8 825.5,298.4 825.9,298.1 826.4,297.7 826.9,297.3 827.4,296.9 827.9,296.6 828.4,296.2 828.8,296.0 829.2,295.7 829.6,295.6 830.0,295.6 830.4,295.7 830.7,296.0 831.0,296.4 831.2,297.0 831.4,297.5 831.7,298.1 831.9,298.6 832.2,299.1 832.5,299.4 833.0,299.7 833.5,300.0 834.0,300.3 834.5,300.4 835.1,300.6 835.7,300.6 836.2,300.6 836.7,300.5 837.2,300.3 837.7,300.0 838.1,299.7 838.6,299.4 839.1,299.2 839.6,298.9 840.1,298.8 840.6,298.8 841.0,298.8 841.4,299.0 841.9,299.2 842.3,299.5 842.7,299.8 843.1,300.1 843.5,300.4 844.0,300.7 844.5,301.0 845.0,301.2 845.5,301.4 845.9,301.6 846.4,301.8 846.9,301.9 847.5,302.1 848.0,302.2 848.6,302.4 849.1,302.5 849.6,302.6 850.2,302.8 850.7,302.9 851.2,303.0 851.8,303.1 852.3,303.2 852.8,303.3 853.3,303.5 853.9,303.6 854.4,303.7 854.9,303.8 855.4,303.8 855.9,303.9 856.5,304.0 857.0,304.0 857.5,304.0 858.0,304.0 858.5,304.0 859.1,303.9 859.6,303.9 860.1,303.8 860.6,303.7 861.1,303.6 861.7,303.5 862.2,303.4 862.7,303.3 863.2,303.1 863.8,303.0 864.2,302.8 864.7,302.7 865.2,302.4 865.7,302.2 866.2,301.9 866.6,301.7 867.1,301.4 867.6,301.2 868.1,301.0 868.6,300.8 869.0,300.7 869.5,300.6 870.0,300.6 870.5,300.7 871.0,300.8 871.5,301.1 872.0,301.4 872.5,301.7 873.0,302.1 873.5,302.4 874.0,302.8 874.5,303.1 875.0,303.4 875.4,303.6 875.9,303.7 876.2,303.8 876.7,303.7 877.2,303.5 877.6,303.3 878.0,303.0 878.3,302.6 878.7,302.2 879.0,301.7 879.3,301.2 879.7,300.6 880.0,300.0 880.2,299.6 880.4,299.2 880.5,298.8 880.7,298.3 880.9,297.8 881.1,297.3 881.2,296.8 881.4,296.2 881.6,295.7 881.7,295.1 881.9,294.6 882.1,294.0 882.2,293.5 882.4,293.0 882.5,292.5 882.7,292.1 882.8,291.6 883.0,291.2 883.3,290.6 883.5,289.9 883.8,289.3 884.0,288.7 884.3,288.2 884.5,287.7 884.8,287.3 885.1,287.1 885.3,286.9 885.6,286.9 885.8,287.0 886.1,287.3 886.3,287.6 886.6,288.0 886.8,288.5 887.1,289.1 887.4,289.7 887.6,290.3 887.9,290.9 888.2,291.5 888.5,292.0 888.8,292.5 889.0,293.0 889.3,293.5 889.6,294.0 889.9,294.6 890.3,295.2 890.6,295.7 890.9,296.2 891.2,296.7 891.5,297.1 891.8,297.4 892.2,297.7 892.5,297.8 892.9,297.9 893.3,297.9 893.7,297.8 894.2,297.7 894.6,297.5 895.0,297.1 895.5,296.7 895.9,296.1 896.2,295.4 896.6,294.5 896.7,294.2 896.8,293.9 896.9,293.5 897.0,293.1 897.1,292.8 897.2,292.4 897.3,291.9 897.4,291.5 897.5,291.1 897.6,290.6 897.7,290.1 897.8,289.6 897.8,289.1 897.9,288.6 898.0,288.1 898.1,287.6 898.2,287.0 898.3,286.5 898.3,285.9 898.4,285.4 898.5,284.8 898.6,284.3 898.7,283.7 898.7,283.1 898.8,282.5 898.9,282.0 898.9,281.4 899.0,280.8 899.1,280.2 899.2,279.6 899.2,279.1 899.3,278.5 899.4,278.1 899.4,277.6 899.5,277.1 899.5,276.7 899.6,276.2 899.6,275.7 899.7,275.3 899.7,274.8 899.7,274.3 899.8,273.8 899.8,273.3 899.9,272.9 899.9,272.4 900.0,271.9 900.0,271.4 900.1,270.9 900.1,270.4 900.1,269.8 900.2,269.3 900.2,268.8 900.3,268.3 900.3,267.8 900.3,267.3 900.4,266.8 900.4,266.3 900.4,265.7 900.5,265.2 900.5,264.7 900.6,264.2 900.6,263.7 900.6,263.2 900.7,262.6 900.7,262.1 900.7,261.6 900.8,261.1 900.8,260.6 900.9,260.0 900.9,259.5 900.9,259.0 901.0,258.5 901.0,258.0 901.0,257.5 901.1,257.0 901.1,256.4 901.1,255.8 901.2,255.2 901.2,254.6 901.2,254.0 901.3,253.4 901.3,252.7 901.3,252.1 901.4,251.4 901.4,250.8 901.4,250.1 901.5,249.4 901.5,248.7 901.5,248.1 901.6,247.4 901.6,246.7 901.6,246.1 901.7,245.4 901.7,244.8 901.7,244.2 901.7,243.6 901.8,243.0 901.8,242.4 901.8,241.8 901.9,241.3 901.9,240.8 901.9,240.3 901.9,239.8 902.0,239.3 902.0,238.9 902.0,238.6 902.1,238.2 902.1,237.9 902.1,237.6 902.2,237.4 902.2,237.2 902.2,237.0 902.2,236.9 902.3,236.8 902.3,236.8 902.3,236.8 902.4,236.9 902.4,237.0 902.4,237.2 902.4,237.4 902.5,237.6 902.5,237.9 902.5,238.2 902.6,238.6 902.6,238.9 902.6,239.3 902.7,239.8 902.7,240.3 902.7,240.8 902.7,241.3 902.8,241.8 902.8,242.4 902.8,243.0 902.9,243.6 902.9,244.2 902.9,244.8 902.9,245.4 903.0,246.1 903.0,246.7 903.0,247.4 903.1,248.1 903.1,248.7 903.1,249.4 903.1,250.1 903.2,250.8 903.2,251.4 903.2,252.1 903.3,252.7 903.3,253.4 903.3,254.0 903.3,254.6 903.4,255.2 903.4,255.8 903.4,256.4 903.4,257.0 903.5,257.5 903.5,258.0 903.5,258.5 903.6,259.0 903.6,259.5 903.6,260.1 903.6,260.6 903.7,261.1 903.7,261.6 903.7,262.2 903.7,262.7 903.7,263.2 903.8,263.8 903.8,264.3 903.8,264.8 903.8,265.4 903.8,265.9 903.9,266.4 903.9,267.0 903.9,267.5 903.9,268.0 904.0,268.5 904.0,269.1 904.0,269.6 904.0,270.1 904.0,270.6 904.1,271.1 904.1,271.6 904.1,272.1 904.1,272.6 904.2,273.1 904.2,273.6 904.2,274.1 904.3,274.5 904.3,275.0 904.3,275.5 904.4,275.9 904.4,276.4 904.4,276.8 904.5,277.3 904.5,277.7 904.6,278.1 904.6,278.5 904.7,279.2 904.8,279.8 904.8,280.4 904.9,281.0 905.0,281.6 905.1,282.2 905.2,282.8 905.3,283.4 905.4,283.9 905.5,284.5 905.6,285.0 905.7,285.5 905.9,286.0 906.0,286.5 906.1,287.0 906.2,287.4 906.3,287.9 906.4,288.3 906.5,288.7 906.6,289.1 906.8,289.5 906.9,289.9 907.0,290.3 907.1,290.7 907.2,291.0 907.5,291.8 907.7,292.5 908.0,293.2 908.3,293.8 908.5,294.3 908.8,294.7 909.1,295.0 909.4,295.2 909.6,295.4 909.9,295.4 910.2,295.3 910.4,295.1 910.7,294.7 911.0,294.2 911.3,293.7 911.5,293.1 911.8,292.5 912.1,292.0 912.3,291.4 912.6,291.0 912.9,290.5 913.2,289.9 913.5,289.3 913.8,288.7 914.2,288.2 914.5,287.8 914.8,287.5 915.2,287.4 915.5,287.4 915.9,287.6 916.2,287.8 916.6,288.1 916.9,288.5 917.3,288.9 917.7,289.4 918.1,289.9 918.4,290.4 918.8,291.0 919.0,291.4 919.2,291.8 919.4,292.2 919.6,292.7 919.8,293.1 920.0,293.6 920.2,294.2 920.4,294.7 920.6,295.2 920.8,295.7 921.0,296.3 921.2,296.8 921.4,297.3 921.6,297.7 921.8,298.1 922.1,298.5 922.3,298.9 922.6,299.4 923.0,299.8 923.3,300.2 923.6,300.6 923.9,300.9 924.2,301.2 924.6,301.4 925.0,301.7 925.5,301.9 926.1,302.2 926.7,302.4 927.1,302.5 927.5,302.6 927.9,302.8 928.4,302.9 928.9,303.0 929.4,303.1 929.9,303.2 930.5,303.3 931.0,303.4 931.6,303.5 932.2,303.6 932.7,303.7 933.3,303.8 933.9,303.9 934.4,303.9 935.0,304.0 935.5,304.1 936.0,304.1 936.5,304.1 937.0,304.2 937.4,304.2 938.0,304.2 938.6,304.2 939.2,304.2 939.7,304.2 940.3,304.2 940.8,304.2 941.3,304.1 941.8,304.1 942.2,304.0 942.7,303.9 943.2,303.8 943.6,303.6 944.1,303.5 944.5,303.3 945.0,303.1 945.4,302.8 945.8,302.5 946.3,302.2 946.7,301.9 947.1,301.6 947.5,301.2 947.8,300.8 948.2,300.4 948.6,300.0 949.0,299.7 949.4,299.3 949.8,298.9 950.2,298.5 950.6,298.2 951.0,297.8 951.3,297.4 951.7,297.0 952.1,296.6 952.5,296.3 952.9,295.9 953.3,295.5 953.7,295.1 954.0,294.7 954.4,294.3 954.7,294.0 955.1,293.6 955.5,293.2 955.9,292.8 956.4,292.3 956.8,291.9 957.2,291.4 957.6,291.0 958.0,290.6 958.4,290.2 958.7,289.9 959.0,289.6 959.3,289.3 959.5,289.1" fill="none" stroke="#767676" stroke-width="1.3" stroke-linejoin="round" stroke-linecap="round"/>
<polyline points="520.0,293.0 520.4,292.8 521.0,292.0 521.6,291.6 522.4,290.9 523.1,290.4 523.8,290.6 524.3,290.6 524.8,291.4 525.4,292.3 525.9,293.1 526.4,293.8 527.0,294.4 527.5,294.8 528.0,294.9 528.6,293.9 529.2,293.1 529.7,292.5 530.3,291.7 530.8,291.2 531.2,291.0 531.7,291.4 532.0,292.0 532.3,292.8 532.6,293.7 533.1,294.3 533.8,294.4 534.2,294.4 534.7,294.1 535.2,293.5 535.8,293.1 536.4,292.4 537.0,292.1 537.6,291.5 538.2,290.8 538.9,290.4 539.5,289.7 540.1,289.8 540.6,289.4 541.3,289.3 542.0,289.6 542.6,289.9 543.2,290.2 543.9,290.8 544.6,291.3 545.3,291.7 546.2,291.9 546.8,291.8 547.4,292.5 548.0,292.1 548.7,292.5 549.3,292.6 550.0,292.7 550.7,292.6 551.5,292.7 552.2,293.0 553.0,293.0 553.8,292.6 554.6,293.1 555.4,292.9 556.2,293.1 556.9,293.0 557.6,293.0 558.3,293.2 559.0,293.2 559.7,293.0 560.5,293.0 561.3,293.0 562.1,293.0 562.9,292.7 563.6,292.8 564.4,292.6 565.2,292.8 566.0,292.8 566.7,292.5 567.4,292.4 568.1,292.5 568.8,292.5 569.4,292.3 570.0,292.5 570.9,292.6 571.8,292.7 572.6,292.9 573.3,293.1 573.9,293.0 574.6,293.4 575.2,293.4 575.9,293.4 576.5,293.3 577.2,293.9 578.0,293.8 578.7,293.8 579.4,293.6 580.1,293.5 580.8,293.7 581.5,293.1 582.3,293.2 583.0,293.2 583.7,293.2 584.5,293.0 585.2,292.8 586.0,292.8 586.7,292.6 587.5,292.5 588.2,292.4 588.9,292.4 589.7,292.4 590.4,292.3 591.1,292.3 591.9,292.3 592.6,292.4 593.4,292.3 594.1,292.2 594.8,292.1 595.5,292.2 596.2,292.2 596.9,292.0 597.5,292.2 598.3,292.4 599.0,292.4 599.6,292.8 600.2,292.3 600.8,292.9 601.4,292.6 602.1,292.9 602.9,293.1 603.9,293.2 605.0,293.2 605.5,293.1 606.1,293.4 606.7,293.2 607.3,293.3 608.0,293.0 608.7,293.2 609.5,293.2 610.2,293.2 611.0,293.1 611.8,293.2 612.6,293.1 613.4,293.1 614.1,293.0 614.9,292.8 615.7,293.2 616.5,293.0 617.3,293.1 618.0,292.8 618.8,292.9 619.5,292.8 620.2,292.9 620.8,292.7 621.4,292.8 622.0,292.5 622.5,292.8 623.7,292.8 624.6,292.6 625.5,292.4 626.2,292.3 626.8,292.3 627.4,292.4 628.0,292.1 628.6,292.0 629.3,291.9 630.0,291.9 630.7,292.0 631.4,291.9 632.0,292.0 632.7,292.1 633.4,291.9 634.1,292.1 634.8,292.4 635.5,292.2 636.3,292.4 637.1,292.2 638.0,292.2 638.6,292.3 639.2,292.2 639.9,292.1 640.6,292.4 641.3,292.2 642.0,293.2 642.8,290.5 643.5,291.9 644.3,292.5 645.0,291.3 645.8,291.2 646.5,291.7 647.2,291.3 648.0,291.0 648.7,292.4 649.3,290.2 650.0,291.0 650.8,290.2 651.6,290.5 652.3,290.5 653.1,290.1 653.8,288.9 654.6,290.1 655.3,289.3 656.0,289.3 656.7,288.9 657.4,289.4 658.1,289.1 658.7,289.0 659.4,289.1 660.0,288.3 660.8,288.7 661.6,287.9 662.3,287.2 662.9,286.1 663.6,287.2 664.3,287.8 665.0,287.5 665.7,287.8 666.6,287.1 667.5,287.5 668.1,286.1 668.7,286.4 669.4,287.0 670.1,289.4 670.8,287.9 671.6,288.3 672.4,287.2 673.1,288.1 673.9,288.4 674.7,287.6 675.5,287.8 676.3,287.6 677.0,287.5 677.8,286.9 678.6,290.2 679.3,287.7 680.0,288.5 680.7,288.8 681.5,288.8 682.3,288.8 683.0,288.7 683.8,288.6 684.5,287.9 685.3,291.5 686.0,289.8 686.7,289.6 687.5,290.0 688.1,288.5 688.8,290.7 689.5,290.3 690.1,289.6 690.7,290.7 691.2,290.0 692.0,288.7 692.6,287.7 693.2,289.9 693.8,289.5 694.3,287.7 694.8,287.8 695.3,287.7 695.8,287.2 696.2,285.5 696.7,284.8 697.1,284.7 697.5,283.8 697.7,283.2 697.9,282.7 698.1,282.1 698.3,281.5 698.5,280.8 698.7,280.1 698.9,279.5 699.1,278.8 699.2,277.9 699.4,277.1 699.6,276.2 699.7,275.7 699.9,274.9 700.0,274.2 700.2,273.4 700.3,272.7 700.5,271.9 700.6,271.3 700.8,270.7 700.9,270.0 701.1,269.4 701.2,268.8 701.5,267.9 701.7,267.0 702.0,265.9 702.2,265.0 702.4,264.1 702.6,263.0 702.9,262.3 703.1,261.7 703.3,260.9 703.5,260.4 703.7,259.7 704.0,259.6 704.2,259.3 704.4,259.4 704.6,259.5 704.8,259.6 705.0,260.2 705.1,260.7 705.3,261.4 705.5,262.0 705.7,262.8 705.9,263.6 706.1,264.6 706.3,265.6 706.5,266.3 706.6,267.5 706.8,268.2 707.0,269.0 707.2,270.0 707.3,270.6 707.5,271.2 707.7,272.0 707.9,272.9 708.1,273.4 708.2,274.6 708.4,275.3 708.5,276.1 708.7,276.7 708.9,277.6 709.0,278.0 709.2,278.8 709.4,279.3 709.6,280.2 709.8,280.8 710.0,281.2 710.4,282.1 710.8,282.9 711.3,283.8 711.8,284.5 712.3,285.1 712.8,285.6 713.3,286.1 713.8,286.2 714.5,286.4 715.2,286.6 716.0,286.3 716.8,286.1 717.5,285.6 718.1,285.4 718.8,285.3 719.5,285.2 720.1,284.9 720.7,284.0 721.2,282.5 721.3,282.1 721.4,281.5 721.5,281.0 721.6,280.5 721.7,280.0 721.8,279.3 721.8,278.7 721.9,277.9 722.0,277.2 722.0,276.6 722.1,275.8 722.2,275.0 722.2,274.2 722.3,273.2 722.3,272.4 722.4,271.7 722.4,271.1 722.5,270.2 722.5,269.3 722.6,268.5 722.6,267.7 722.7,267.0 722.7,266.2 722.8,265.4 722.8,264.7 722.9,263.9 722.9,263.2 723.0,262.5 723.1,261.8 723.1,261.0 723.2,260.4 723.3,259.6 723.3,258.8 723.4,258.1 723.4,257.4 723.5,256.3 723.6,255.8 723.6,255.3 723.7,254.4 723.7,253.6 723.8,253.1 723.9,252.3 723.9,251.5 724.0,250.9 724.0,250.3 724.1,249.6 724.1,249.0 724.2,248.3 724.3,247.5 724.3,247.0 724.4,246.2 724.4,245.6 724.5,245.0 724.6,244.0 724.7,243.1 724.7,242.2 724.8,241.4 724.9,240.7 725.0,239.4 725.1,238.3 725.1,237.5 725.2,236.6 725.3,235.7 725.4,234.8 725.5,234.2 725.5,233.5 725.6,232.9 725.7,232.2 725.8,231.8 725.9,231.6 725.9,231.2 726.0,231.2 726.1,231.4 726.1,231.5 726.2,231.8 726.3,232.1 726.4,232.9 726.4,233.6 726.5,234.2 726.6,235.0 726.6,236.0 726.7,236.8 726.8,237.7 726.8,238.8 726.9,239.7 727.0,240.5 727.0,241.7 727.1,242.4 727.2,243.3 727.2,244.3 727.3,245.0 727.4,245.7 727.4,246.5 727.5,247.1 727.5,247.9 727.6,248.7 727.7,249.4 727.7,250.2 727.8,251.0 727.8,251.8 727.9,252.5 727.9,253.2 728.0,255.2 728.1,255.7 728.1,255.9 728.2,256.4 728.3,257.0 728.4,257.0 728.5,258.6 728.5,258.5 728.6,258.9 728.8,260.0 728.9,261.5 729.1,261.3 729.4,262.0 729.6,262.7 729.8,264.1 730.1,264.4 730.4,265.3 730.6,266.3 730.9,266.9 731.1,266.8 731.4,267.5 731.7,268.3 731.9,268.8 732.3,269.9 732.6,270.7 733.0,271.0 733.3,271.8 733.7,272.0 734.1,272.1 734.5,273.4 735.0,273.8 735.4,274.1 735.9,274.9 736.4,275.7 736.9,276.7 737.4,275.7 737.9,275.4 738.4,276.8 739.0,278.0 739.5,278.2 740.0,278.8 740.5,278.9 741.0,279.5 741.5,280.6 742.0,280.8 742.5,281.6 743.0,281.6 743.5,282.6 744.0,283.6 744.5,284.6 745.0,283.8 745.6,285.0 746.3,284.6 746.9,285.9 747.5,286.4 748.1,286.2 748.7,286.9 749.4,286.9 750.0,286.3 750.7,286.4 751.4,287.0 752.2,286.2 752.9,285.7 753.6,285.6 754.3,285.4 755.0,285.0 755.8,285.1 756.5,284.8 757.3,284.4 758.0,284.4 758.7,284.2 759.4,284.2 760.0,283.8 760.6,283.4 761.2,282.7 761.6,282.0 762.1,281.7 762.5,280.5 763.0,280.0 763.4,279.4 763.7,278.4 764.0,278.1 764.4,276.9 764.7,276.4 765.1,275.8 765.6,275.6 766.1,275.7 766.7,275.8 767.3,275.9 768.0,276.3 768.6,277.0 769.3,277.4 770.0,278.0 770.5,278.5 771.1,279.1 771.7,279.5 772.3,279.9 772.9,280.9 773.5,281.6 774.0,282.1 774.5,282.4 775.0,282.8 775.9,283.4 776.6,283.3 777.3,283.3 778.0,281.9 778.1,281.5 778.3,281.3 778.4,280.6 778.6,279.8 778.7,279.6 778.9,278.5 779.0,278.1 779.2,277.3 779.3,276.6 779.5,275.5 779.6,274.7 779.8,273.7 779.9,273.5 780.0,272.6 780.1,271.7 780.3,271.0 780.4,270.6 780.5,269.6 780.6,268.8 780.7,268.2 780.8,267.4 780.9,266.8 781.0,265.8 781.0,265.3 781.1,264.5 781.2,263.6 781.2,263.6 781.3,262.5 781.3,261.9 781.4,261.2 781.5,260.7 781.5,259.8 781.6,259.5 781.7,258.1 781.7,257.6 781.8,256.5 781.9,256.0 782.0,255.5 782.0,254.2 782.1,253.7 782.2,253.1 782.3,252.1 782.3,251.3 782.4,250.5 782.5,249.6 782.6,248.7 782.6,247.3 782.7,246.6 782.8,245.7 782.9,244.8 783.0,243.8 783.1,242.8 783.2,242.0 783.2,241.3 783.3,240.7 783.4,240.2 783.5,239.8 783.6,238.7 783.7,238.5 783.8,238.1 783.9,238.4 784.0,238.0 784.1,238.1 784.2,238.6 784.3,238.5 784.4,238.9 784.5,239.3 784.6,239.8 784.7,240.0 784.8,241.0 784.9,241.8 785.0,242.6 785.2,243.4 785.3,244.0 785.4,245.1 785.5,245.7 785.6,246.9 785.7,247.6 785.9,248.6 786.0,249.7 786.1,250.3 786.2,251.4 786.3,252.1 786.4,253.2 786.6,253.9 786.7,254.7 786.8,255.2 786.9,256.0 787.0,256.6 787.2,257.4 787.3,258.3 787.5,259.3 787.6,260.0 787.7,260.6 787.9,261.5 788.0,262.3 788.2,262.7 788.3,263.7 788.5,264.2 788.6,265.1 788.8,266.4 788.9,266.7 789.1,267.4 789.2,267.8 789.3,268.8 789.5,269.2 789.6,269.7 789.7,270.3 789.9,270.9 790.0,271.2 790.7,272.6 791.3,273.5 791.9,273.5 792.5,273.0 792.9,272.9 793.2,272.7 793.5,272.3 793.9,271.8 794.2,271.3 794.6,270.1 795.0,268.8 795.1,268.1 795.2,267.8 795.3,267.3 795.4,266.8 795.5,265.9 795.7,265.9 795.8,265.0 795.9,264.5 796.0,264.1 796.1,263.2 796.2,262.6 796.4,262.0 796.5,261.2 796.6,260.6 796.7,260.0 796.8,259.1 796.9,258.5 797.1,258.0 797.2,256.5 797.3,256.0 797.4,255.1 797.5,254.1 797.6,253.4 797.7,252.6 797.8,251.4 797.9,250.8 798.0,250.0 798.1,249.5 798.1,248.7 798.2,248.2 798.2,247.4 798.3,246.9 798.3,246.2 798.4,245.6 798.4,244.9 798.5,244.2 798.5,243.6 798.6,242.9 798.6,241.9 798.7,241.0 798.7,240.5 798.8,239.4 798.8,238.8 798.9,238.1 798.9,237.6 799.0,236.9 799.0,236.0 799.1,235.3 799.1,234.4 799.2,233.8 799.2,233.0 799.2,232.0 799.3,231.0 799.3,230.5 799.4,229.9 799.4,229.0 799.5,228.3 799.5,227.5 799.6,226.9 799.6,226.1 799.6,225.3 799.7,224.7 799.7,223.8 799.8,223.4 799.8,222.4 799.9,221.9 799.9,220.8 800.0,220.5 800.0,220.0 800.1,219.1 800.1,218.4 800.2,217.5 800.3,216.2 800.3,215.4 800.4,214.7 800.5,213.4 800.5,212.5 800.6,212.0 800.6,210.7 800.7,210.0 800.8,208.8 800.8,207.8 800.9,207.1 801.0,206.5 801.0,205.1 801.1,204.7 801.1,203.7 801.2,203.0 801.3,202.3 801.3,201.8 801.4,201.2 801.5,200.6 801.5,200.2 801.6,199.7 801.6,199.5 801.7,199.0 801.8,199.2 801.8,198.8 801.9,198.8 802.0,198.5 802.0,199.1 802.1,198.9 802.1,199.3 802.2,199.8 802.3,200.0 802.3,200.5 802.4,201.0 802.4,201.7 802.5,202.4 802.5,203.1 802.6,203.8 802.7,204.4 802.7,205.2 802.8,206.1 802.8,207.2 802.9,208.2 803.0,208.9 803.0,209.9 803.1,210.8 803.1,211.6 803.2,212.7 803.3,213.9 803.3,214.4 803.4,215.5 803.5,216.2 803.6,217.2 803.6,218.3 803.7,219.0 803.8,220.0 803.9,220.7 803.9,220.8 804.0,222.0 804.1,222.2 804.1,223.2 804.2,223.8 804.3,224.5 804.3,225.1 804.4,225.8 804.5,226.8 804.6,227.5 804.6,228.0 804.7,228.8 804.8,229.7 804.9,230.3 805.0,231.1 805.0,231.8 805.1,233.0 805.2,233.5 805.3,234.3 805.4,235.3 805.4,235.6 805.5,236.6 805.6,237.2 805.7,237.9 805.8,238.7 805.8,239.5 805.9,240.4 806.0,241.1 806.1,241.7 806.1,242.5 806.2,243.3 806.3,243.8 806.4,244.5 806.4,245.1 806.5,246.2 806.6,246.7 806.6,247.0 806.7,247.8 806.7,248.4 806.8,248.8 806.8,249.3 806.9,250.0 807.0,251.4 807.1,251.9 807.2,253.0 807.2,253.8 807.3,254.7 807.3,255.2 807.4,256.3 807.4,256.9 807.5,257.6 807.5,258.4 807.5,259.2 807.6,259.7 807.6,260.7 807.6,260.8 807.7,261.6 807.7,261.9 807.8,263.0 807.8,263.2 807.9,263.8 807.9,264.5 808.0,265.0 808.1,265.8 808.2,266.7 808.4,267.8 808.5,268.4 808.6,268.9 808.8,269.9 808.9,270.8 809.1,271.2 809.2,272.2 809.4,272.7 809.5,273.3 809.7,273.6 809.8,274.6 810.0,275.0 810.5,276.4 811.0,276.8 811.5,277.0 812.0,277.5 812.5,278.0 812.9,278.3 813.2,279.5 813.6,280.2 814.0,280.7 814.4,281.4 815.0,281.9 815.6,281.8 816.3,282.1 817.0,282.3 817.8,282.1 818.6,282.3 819.3,282.3 820.0,282.5 820.6,283.0 821.1,283.6 821.6,284.0 822.0,285.1 822.5,285.4 823.1,285.9 823.8,286.2 824.4,286.2 825.2,286.5 826.0,286.3 826.8,286.3 827.6,286.0 828.5,286.2 829.3,285.8 830.0,285.6 830.8,285.5 831.5,285.8 832.2,285.7 832.9,286.2 833.6,286.4 834.3,287.1 835.0,286.9 835.7,286.7 836.4,287.3 837.1,287.2 837.9,287.3 838.6,287.2 839.3,287.5 840.0,287.5 840.7,288.0 841.4,287.9 842.1,288.1 842.8,288.4 843.5,288.6 844.2,289.0 845.0,289.4 845.6,289.3 846.3,289.6 847.0,290.2 847.7,290.0 848.4,290.0 849.1,290.3 849.8,290.3 850.5,290.1 851.2,290.2 852.0,290.4 852.8,290.3 853.6,290.4 854.4,290.2 855.2,290.2 855.9,290.3 856.7,290.2 857.5,290.0 858.2,289.9 858.9,289.9 859.6,289.6 860.3,289.7 861.0,289.4 861.7,289.4 862.4,288.9 863.1,289.4 863.8,288.8 864.4,288.4 865.1,288.2 865.8,287.6 866.4,287.3 867.1,286.8 867.7,286.4 868.3,286.2 868.9,285.8 869.4,285.6 870.2,285.4 870.8,286.0 871.3,286.8 871.9,287.2 872.5,287.5 873.1,287.8 873.7,288.6 874.4,289.5 875.0,289.7 875.7,289.5 876.2,289.4 876.5,289.2 876.8,288.7 877.1,288.0 877.3,287.5 877.6,286.6 877.8,285.9 878.1,285.3 878.3,284.3 878.6,283.5 878.9,282.9 879.1,282.0 879.4,281.2 879.7,280.8 879.9,279.9 880.2,279.1 880.5,277.8 880.8,277.3 881.1,276.3 881.3,275.9 881.6,274.9 881.9,274.4 882.2,273.7 882.5,273.0 882.7,272.7 883.0,272.5 883.5,272.3 883.9,272.6 884.4,273.2 884.8,274.2 885.3,275.1 885.8,276.2 886.2,276.9 886.6,277.6 886.9,277.9 887.2,278.5 887.6,279.2 887.9,280.2 888.3,280.6 888.6,281.3 889.0,282.0 889.3,282.8 889.7,283.0 890.0,283.8 890.5,284.7 891.0,285.2 891.4,285.8 891.9,286.5 892.4,287.2 892.9,288.0 893.3,287.8 893.8,288.0 894.2,288.1 894.6,287.6 895.0,287.2 895.4,286.3 895.8,285.4 896.2,285.0 896.6,283.8 896.9,283.2 897.1,282.7 897.4,282.3 897.7,281.6 898.0,281.0 898.2,280.2 898.5,279.6 898.8,278.6 899.1,278.1 899.4,277.5 899.6,276.5 899.9,275.9 900.1,275.0 900.3,274.4 900.4,273.5 900.5,272.9 900.7,271.9 900.8,271.0 900.9,270.3 901.0,269.6 901.2,268.4 901.3,267.5 901.4,266.3 901.5,265.9 901.6,264.7 901.7,264.4 901.8,263.7 901.9,262.9 902.1,262.6 902.2,262.6 902.3,262.5 902.4,262.5 902.5,262.9 902.6,263.4 902.7,263.9 902.8,264.3 902.9,264.9 903.0,266.2 903.2,266.4 903.3,267.2 903.4,268.3 903.5,269.2 903.6,270.0 903.7,271.2 903.8,272.0 903.9,273.0 904.1,273.7 904.2,274.9 904.3,275.4 904.5,276.0 904.6,276.7 904.8,277.6 905.1,278.5 905.3,279.3 905.6,280.1 905.9,280.9 906.1,281.6 906.4,282.4 906.7,283.3 907.0,283.4 907.3,284.0 907.5,284.9 907.8,285.4 908.1,285.6 908.7,286.6 909.3,287.3 909.9,287.7 910.5,288.2 911.1,288.2 911.7,288.3 912.3,287.7 912.9,287.8 913.5,287.0 914.1,286.4 914.7,285.6 915.2,285.2 916.1,284.5 916.8,284.6 917.5,285.2 918.2,285.3 918.8,285.7 919.6,286.5 920.0,286.7 920.4,287.6 920.8,288.1 921.2,288.5 921.7,289.3 922.1,290.2 922.7,291.0 923.2,291.0 923.9,291.4 924.5,291.9 925.3,291.9 926.0,292.1 926.8,291.9 927.6,291.9 928.5,292.3 929.1,292.3 929.8,292.6 930.5,292.3 931.2,292.7 931.9,293.0 932.7,292.9 933.4,293.1 934.2,292.6 934.9,293.0 935.6,293.0 936.3,293.0 937.0,292.9 937.8,292.5 938.5,292.1 939.3,292.2 940.0,291.9 940.7,291.7 941.4,291.3 942.1,291.0 942.7,291.0 943.4,290.8 944.2,290.6 944.8,290.0 945.5,289.5 946.1,289.4 946.7,289.0 947.3,288.3 948.0,288.3 948.7,288.2 949.5,288.3 950.2,287.9 951.0,287.7 951.7,287.5 952.5,287.5 953.3,287.4 954.0,287.2 954.7,287.2 955.5,286.8 956.3,286.6 957.1,287.0 957.9,286.4 958.5,286.1 959.1,286.0 959.5,286.0" fill="none" stroke="#000" stroke-width="1.9" stroke-linejoin="round" stroke-linecap="round"/>
<polyline points="915.8,285.5 916.5,254.6 917.2,285.5" fill="none" stroke="#000" stroke-width="1" stroke-linejoin="round" stroke-linecap="round"/>
<circle cx="535.6" cy="304" r="2.7" fill="#fff" stroke="#b0b0b0" stroke-width="0.9"/>
<circle cx="557.75" cy="304.3" r="2.7" fill="#fff" stroke="#b0b0b0" stroke-width="0.9"/>
<circle cx="580" cy="304.4" r="2.7" fill="#fff" stroke="#b0b0b0" stroke-width="0.9"/>
<circle cx="602.1" cy="303.8" r="2.7" fill="#fff" stroke="#b0b0b0" stroke-width="0.9"/>
<circle cx="624.6" cy="303.5" r="2.7" fill="#fff" stroke="#b0b0b0" stroke-width="0.9"/>
<circle cx="646.9" cy="304.3" r="2.7" fill="#fff" stroke="#b0b0b0" stroke-width="0.9"/>
<circle cx="669.4" cy="304.1" r="2.7" fill="#fff" stroke="#b0b0b0" stroke-width="0.9"/>
<circle cx="691.6" cy="304.6" r="2.7" fill="#fff" stroke="#b0b0b0" stroke-width="0.9"/>
<circle cx="714" cy="299.4" r="2.7" fill="#fff" stroke="#b0b0b0" stroke-width="0.9"/>
<circle cx="736.25" cy="286.9" r="2.7" fill="#fff" stroke="#b0b0b0" stroke-width="0.9"/>
<circle cx="758.5" cy="303.1" r="2.7" fill="#fff" stroke="#b0b0b0" stroke-width="0.9"/>
<circle cx="780.9" cy="270.9" r="2.7" fill="#fff" stroke="#b0b0b0" stroke-width="0.9"/>
<circle cx="803.1" cy="209" r="2.7" fill="#fff" stroke="#b0b0b0" stroke-width="0.9"/>
<circle cx="825.6" cy="298" r="2.7" fill="#fff" stroke="#b0b0b0" stroke-width="0.9"/>
<circle cx="847.9" cy="301.6" r="2.7" fill="#fff" stroke="#b0b0b0" stroke-width="0.9"/>
<circle cx="870.25" cy="300.6" r="2.7" fill="#fff" stroke="#b0b0b0" stroke-width="0.9"/>
<circle cx="892.6" cy="298.3" r="2.7" fill="#fff" stroke="#b0b0b0" stroke-width="0.9"/>
<circle cx="915.2" cy="287.4" r="2.7" fill="#fff" stroke="#b0b0b0" stroke-width="0.9"/>
<circle cx="937.4" cy="303.9" r="2.7" fill="#fff" stroke="#b0b0b0" stroke-width="0.9"/>
<circle cx="959.9" cy="288.8" r="2.7" fill="#fff" stroke="#b0b0b0" stroke-width="0.9"/>
<rect x="517.75" y="312.1" width="5" height="5" fill="#000"/>
<rect x="540.9" y="312" width="5" height="5" fill="#000"/>
<rect x="563.75" y="312.3" width="5" height="5" fill="#000"/>
<rect x="586.9" y="312.4" width="5" height="5" fill="#000"/>
<rect x="610" y="312.3" width="5" height="5" fill="#000"/>
<rect x="633.1" y="312.1" width="5" height="5" fill="#000"/>
<rect x="656.2" y="312.5" width="5" height="5" fill="#000"/>
<rect x="679.5" y="311.9" width="5" height="5" fill="#000"/>
<rect x="702.5" y="291.25" width="5" height="5" fill="#000"/>
<rect x="725.5" y="296" width="5" height="5" fill="#000"/>
<rect x="748.75" y="311" width="5" height="5" fill="#000"/>
<rect x="772" y="308.75" width="5" height="5" fill="#000"/>
<rect x="795.25" y="290.9" width="5" height="5" fill="#000"/>
<rect x="818.5" y="309.4" width="5" height="5" fill="#000"/>
<rect x="841.5" y="311.5" width="5" height="5" fill="#000"/>
<rect x="864.75" y="309.1" width="5" height="5" fill="#000"/>
<rect x="888" y="308.5" width="5" height="5" fill="#000"/>
<rect x="910.9" y="309.7" width="5" height="5" fill="#000"/>
<rect x="934" y="311.8" width="5" height="5" fill="#000"/>
<rect x="957.4" y="307" width="5" height="5" fill="#000"/>
<text x="612.7" y="347.5" font-size="16.6" text-anchor="middle" fill="#111">2000</text>
<text x="728.65" y="347.5" font-size="16.6" text-anchor="middle" fill="#111">1500</text>
<text x="844.6" y="347.5" font-size="16.6" text-anchor="middle" fill="#111">1000</text>
<text x="960.55" y="347.5" font-size="16.6" text-anchor="middle" fill="#111">500</text>
<text x="539.2" y="213.1" font-size="21.8" text-anchor="middle" fill="#111">(d)</text>
</g>
<text x="484.3" y="242.4" font-size="21.3" text-anchor="middle" fill="#111" transform="rotate(-90 484.3 242.4)">extinction sample</text>
<text x="1010.2" y="246.9" font-size="21.3" text-anchor="middle" fill="#111" transform="rotate(-90 1010.2 246.9)">extinction reference</text>
<g id="panel-e">
<line x1="519.9" y1="379.73" x2="519.9" y2="508.57" stroke="#0a0a0a" stroke-width="1.75" stroke-linecap="butt"/>
<line x1="959.7" y1="380.6" x2="959.7" y2="508.57" stroke="#0a0a0a" stroke-width="1.75" stroke-linecap="butt"/>
<line x1="519.9" y1="507.7" x2="959.7" y2="507.7" stroke="#0a0a0a" stroke-width="1.75" stroke-linecap="butt"/>
<line x1="515.3" y1="380.6" x2="519.9" y2="380.6" stroke="#0a0a0a" stroke-width="1.75" stroke-linecap="butt"/>
<line x1="511.2" y1="403" x2="519.9" y2="403" stroke="#0a0a0a" stroke-width="1.75" stroke-linecap="butt"/>
<line x1="515.3" y1="425" x2="519.9" y2="425" stroke="#0a0a0a" stroke-width="1.75" stroke-linecap="butt"/>
<line x1="511.2" y1="447" x2="519.9" y2="447" stroke="#0a0a0a" stroke-width="1.75" stroke-linecap="butt"/>
<line x1="515.3" y1="469" x2="519.9" y2="469" stroke="#0a0a0a" stroke-width="1.75" stroke-linecap="butt"/>
<line x1="511.2" y1="490.9" x2="519.9" y2="490.9" stroke="#0a0a0a" stroke-width="1.75" stroke-linecap="butt"/>
<line x1="959.7" y1="396.6" x2="968.1" y2="396.6" stroke="#0a0a0a" stroke-width="1.75" stroke-linecap="butt"/>
<line x1="959.7" y1="423" x2="964" y2="423" stroke="#0a0a0a" stroke-width="1.75" stroke-linecap="butt"/>
<line x1="959.7" y1="449.5" x2="968.1" y2="449.5" stroke="#0a0a0a" stroke-width="1.75" stroke-linecap="butt"/>
<line x1="959.7" y1="476.3" x2="964" y2="476.3" stroke="#0a0a0a" stroke-width="1.75" stroke-linecap="butt"/>
<line x1="959.7" y1="502.7" x2="968.1" y2="502.7" stroke="#0a0a0a" stroke-width="1.75" stroke-linecap="butt"/>
<line x1="553.92" y1="507.7" x2="553.92" y2="512" stroke="#0a0a0a" stroke-width="1.75" stroke-linecap="butt"/>
<line x1="611.9" y1="507.7" x2="611.9" y2="516" stroke="#0a0a0a" stroke-width="1.75" stroke-linecap="butt"/>
<line x1="669.88" y1="507.7" x2="669.88" y2="512" stroke="#0a0a0a" stroke-width="1.75" stroke-linecap="butt"/>
<line x1="727.85" y1="507.7" x2="727.85" y2="516" stroke="#0a0a0a" stroke-width="1.75" stroke-linecap="butt"/>
<line x1="785.83" y1="507.7" x2="785.83" y2="512" stroke="#0a0a0a" stroke-width="1.75" stroke-linecap="butt"/>
<line x1="843.8" y1="507.7" x2="843.8" y2="516" stroke="#0a0a0a" stroke-width="1.75" stroke-linecap="butt"/>
<line x1="901.77" y1="507.7" x2="901.77" y2="512" stroke="#0a0a0a" stroke-width="1.75" stroke-linecap="butt"/>
<line x1="959.75" y1="507.7" x2="959.75" y2="516" stroke="#0a0a0a" stroke-width="1.75" stroke-linecap="butt"/>
<polyline points="520.0,501.6 520.3,501.6 520.6,501.6 520.9,501.6 521.2,501.6 521.5,501.6 521.9,501.6 522.3,501.6 522.7,501.6 523.1,501.6 523.5,501.6 524.0,501.6 524.4,501.6 524.9,501.6 525.4,501.6 525.9,501.6 526.4,501.6 526.9,501.6 527.5,501.6 528.0,501.6 528.6,501.6 529.1,501.6 529.7,501.6 530.3,501.6 530.8,501.6 531.4,501.6 532.0,501.6 532.6,501.6 533.2,501.6 533.8,501.6 534.4,501.6 535.0,501.6 535.5,501.6 536.1,501.6 536.7,501.6 537.3,501.6 537.9,501.6 538.5,501.6 539.1,501.6 539.6,501.6 540.2,501.6 540.7,501.6 541.3,501.6 541.8,501.6 542.4,501.6 542.9,501.6 543.4,501.6 543.9,501.6 544.4,501.6 544.9,501.6 545.4,501.6 545.9,501.6 546.4,501.6 546.9,501.6 547.4,501.6 547.9,501.6 548.4,501.6 548.9,501.6 549.4,501.6 550.0,501.6 550.5,501.7 551.0,501.7 551.5,501.7 552.0,501.7 552.5,501.7 553.0,501.7 553.5,501.7 554.0,501.7 554.5,501.7 555.0,501.7 555.5,501.7 556.0,501.7 556.5,501.7 557.0,501.7 557.5,501.7 558.0,501.7 558.5,501.7 559.0,501.7 559.5,501.7 560.0,501.8 560.5,501.8 561.0,501.8 561.5,501.8 562.0,501.8 562.5,501.8 563.0,501.8 563.5,501.8 564.0,501.8 564.5,501.8 565.0,501.8 565.5,501.8 566.0,501.8 566.5,501.8 567.0,501.8 567.5,501.8 568.0,501.8 568.5,501.8 569.0,501.8 569.5,501.8 570.0,501.8 570.5,501.8 571.0,501.8 571.5,501.8 572.0,501.8 572.5,501.8 573.0,501.8 573.5,501.8 574.0,501.8 574.5,501.8 575.0,501.8 575.5,501.8 576.0,501.8 576.5,501.8 577.0,501.8 577.5,501.8 578.0,501.8 578.5,501.8 579.1,501.8 579.6,501.8 580.1,501.8 580.6,501.8 581.1,501.8 581.6,501.8 582.1,501.8 582.6,501.8 583.1,501.8 583.6,501.8 584.1,501.8 584.6,501.8 585.1,501.8 585.6,501.8 586.1,501.8 586.6,501.8 587.1,501.8 587.6,501.8 588.1,501.8 588.6,501.8 589.1,501.8 589.6,501.8 590.1,501.8 590.6,501.8 591.1,501.8 591.6,501.8 592.1,501.8 592.6,501.8 593.1,501.8 593.6,501.8 594.1,501.8 594.6,501.8 595.1,501.8 595.6,501.8 596.1,501.8 596.7,501.8 597.2,501.8 597.7,501.8 598.2,501.8 598.7,501.8 599.2,501.8 599.7,501.8 600.2,501.8 600.7,501.8 601.2,501.8 601.7,501.8 602.2,501.8 602.7,501.7 603.2,501.7 603.7,501.7 604.2,501.7 604.7,501.7 605.2,501.7 605.7,501.7 606.2,501.7 606.7,501.7 607.2,501.7 607.7,501.7 608.2,501.7 608.7,501.7 609.2,501.7 609.7,501.7 610.2,501.7 610.7,501.7 611.2,501.7 611.7,501.7 612.2,501.7 612.8,501.7 613.3,501.7 613.8,501.7 614.3,501.7 614.8,501.7 615.3,501.7 615.8,501.7 616.3,501.7 616.8,501.7 617.3,501.7 617.8,501.7 618.3,501.7 618.8,501.7 619.3,501.7 619.8,501.7 620.3,501.7 620.8,501.7 621.3,501.7 621.8,501.7 622.3,501.6 622.8,501.6 623.3,501.6 623.8,501.6 624.3,501.6 624.9,501.6 625.4,501.6 625.9,501.6 626.4,501.6 626.9,501.6 627.4,501.6 627.9,501.6 628.4,501.6 628.9,501.6 629.4,501.6 629.9,501.6 630.4,501.6 630.9,501.6 631.4,501.6 632.0,501.6 632.5,501.6 633.0,501.6 633.5,501.6 634.0,501.6 634.6,501.6 635.1,501.6 635.6,501.6 636.1,501.6 636.6,501.6 637.1,501.6 637.6,501.6 638.1,501.6 638.6,501.6 639.1,501.6 639.6,501.6 640.1,501.6 640.6,501.6 641.1,501.6 641.6,501.6 642.2,501.6 642.7,501.6 643.2,501.6 643.7,501.6 644.2,501.6 644.7,501.6 645.2,501.7 645.8,501.7 646.3,501.7 646.8,501.7 647.3,501.7 647.8,501.7 648.4,501.7 648.9,501.7 649.4,501.7 649.9,501.7 650.4,501.7 650.9,501.7 651.5,501.7 652.0,501.7 652.5,501.7 653.0,501.7 653.5,501.7 654.0,501.7 654.5,501.7 655.0,501.7 655.5,501.7 656.0,501.7 656.5,501.7 657.0,501.7 657.5,501.7 658.0,501.7 658.5,501.7 659.0,501.7 659.5,501.7 660.0,501.7 660.5,501.7 661.1,501.7 661.6,501.7 662.1,501.7 662.7,501.7 663.2,501.7 663.8,501.7 664.3,501.6 664.9,501.6 665.4,501.6 666.0,501.6 666.5,501.6 667.1,501.6 667.7,501.6 668.2,501.6 668.8,501.6 669.3,501.5 669.8,501.5 670.4,501.5 670.9,501.5 671.5,501.5 672.0,501.5 672.5,501.5 673.1,501.5 673.6,501.4 674.1,501.4 674.6,501.4 675.1,501.4 675.6,501.4 676.1,501.4 676.6,501.4 677.1,501.4 677.6,501.3 678.1,501.3 678.5,501.3 679.0,501.3 679.4,501.3 679.8,501.3 680.3,501.3 680.7,501.3 681.1,501.3 681.5,501.3 681.9,501.3 682.2,501.2 683.0,501.2 683.8,501.3 684.5,501.3 685.2,501.3 685.8,501.3 686.4,501.4 686.9,501.4 687.5,501.4 688.0,501.5 688.5,501.5 688.9,501.5 689.4,501.5 689.8,501.6 690.2,501.6 690.6,501.5 691.0,501.5 691.4,501.5 691.7,501.4 692.1,501.3 692.5,501.2 693.1,501.1 693.6,500.9 694.1,500.6 694.5,500.4 694.9,500.1 695.3,499.8 695.6,499.4 696.0,499.0 696.3,498.7 696.6,498.3 696.9,497.8 697.2,497.4 697.5,496.9 697.7,496.5 697.9,496.1 698.1,495.7 698.3,495.2 698.5,494.8 698.7,494.3 698.9,493.8 699.0,493.3 699.2,492.8 699.3,492.3 699.5,491.8 699.7,491.3 699.8,490.7 700.0,490.2 700.2,489.7 700.4,489.2 700.6,488.8 700.8,488.3 701.0,487.7 701.2,487.2 701.5,486.6 701.7,486.0 701.9,485.4 702.2,484.8 702.4,484.2 702.7,483.6 702.9,483.0 703.2,482.5 703.4,482.0 703.6,481.6 703.9,481.2 704.1,480.9 704.3,480.7 704.5,480.6 704.8,480.6 704.9,480.7 705.1,480.9 705.3,481.1 705.5,481.5 705.7,481.9 705.8,482.3 706.0,482.9 706.2,483.4 706.3,484.0 706.5,484.6 706.7,485.3 706.8,485.9 707.0,486.6 707.2,487.2 707.3,487.8 707.5,488.4 707.7,489.0 707.8,489.5 708.0,490.0 708.2,490.5 708.4,491.1 708.6,491.6 708.8,492.1 709.0,492.7 709.2,493.2 709.4,493.7 709.6,494.2 709.8,494.7 710.0,495.1 710.2,495.6 710.4,496.0 710.6,496.4 710.8,496.8 711.0,497.2 711.2,497.5 711.6,498.0 712.0,498.4 712.4,498.8 712.8,499.1 713.2,499.3 713.6,499.5 714.1,499.7 714.5,499.9 715.0,500.0 715.5,500.1 716.0,500.3 716.5,500.4 717.0,500.5 717.6,500.5 718.1,500.6 718.6,500.5 719.1,500.4 719.6,500.3 720.0,500.0 720.3,499.7 720.5,499.4 720.7,499.0 721.0,498.6 721.1,498.1 721.3,497.6 721.5,497.1 721.7,496.5 721.8,496.0 722.0,495.4 722.1,494.8 722.3,494.3 722.5,493.8 722.7,493.3 722.8,492.8 723.0,492.2 723.1,491.7 723.3,491.1 723.5,490.5 723.6,489.9 723.8,489.4 723.9,488.8 724.1,488.3 724.3,487.8 724.4,487.3 724.6,486.9 724.8,486.6 725.0,486.2 725.4,485.8 725.9,485.4 726.4,485.2 727.0,485.2 727.5,485.2 728.0,485.4 728.5,485.6 728.8,485.8 729.1,486.1 729.4,486.5 729.8,486.9 730.1,487.3 730.4,487.8 730.7,488.2 731.0,488.7 731.3,489.2 731.6,489.6 731.9,490.0 732.2,490.4 732.5,490.9 732.8,491.3 733.1,491.7 733.4,492.1 733.7,492.5 734.1,492.9 734.5,493.3 735.0,493.8 735.3,494.0 735.7,494.3 736.0,494.6 736.4,494.9 736.9,495.2 737.3,495.5 737.7,495.8 738.2,496.2 738.6,496.5 739.1,496.8 739.5,497.0 739.9,497.3 740.4,497.6 740.8,497.8 741.2,498.0 741.8,498.2 742.2,498.5 742.7,498.7 743.1,498.9 743.6,499.0 744.1,499.2 744.5,499.3 745.0,499.5 745.6,499.6 746.2,499.6 746.8,499.7 747.5,499.8 747.9,499.8 748.4,499.8 748.8,499.8 749.3,499.8 749.8,499.8 750.4,499.8 750.9,499.7 751.5,499.7 752.1,499.7 752.6,499.6 753.2,499.6 753.8,499.5 754.3,499.5 754.9,499.4 755.5,499.4 756.0,499.3 756.5,499.2 757.0,499.1 757.5,499.0 757.9,499.0 758.4,498.9 758.8,498.8 759.4,498.5 760.0,498.3 760.5,498.0 760.9,497.7 761.3,497.3 761.7,497.0 762.1,496.6 762.4,496.3 762.7,495.9 763.1,495.6 763.4,495.3 763.8,495.0 764.2,494.6 764.7,494.3 765.1,493.9 765.5,493.5 765.9,493.2 766.3,492.9 766.7,492.7 767.1,492.5 767.5,492.5 767.9,492.6 768.3,492.9 768.7,493.3 769.0,493.7 769.4,494.2 769.8,494.7 770.2,495.2 770.6,495.6 771.0,496.0 771.5,496.3 771.9,496.7 772.4,497.1 772.9,497.4 773.4,497.7 773.9,497.9 774.4,498.0 774.9,498.1 775.5,498.1 776.1,498.1 776.7,498.0 777.3,497.9 777.8,497.7 778.3,497.3 778.8,496.9 779.0,496.6 779.1,496.2 779.3,495.8 779.4,495.3 779.6,494.8 779.7,494.3 779.8,493.8 779.9,493.2 780.0,492.6 780.1,492.1 780.2,491.5 780.3,491.0 780.4,490.5 780.6,490.0 780.8,489.5 781.0,488.9 781.2,488.3 781.4,487.7 781.6,487.1 781.8,486.5 782.0,485.9 782.3,485.4 782.5,484.9 782.7,484.5 783.0,484.3 783.2,484.1 783.5,484.0 783.8,484.1 784.0,484.2 784.3,484.5 784.6,484.9 784.9,485.3 785.2,485.8 785.4,486.3 785.7,486.9 786.0,487.5 786.3,488.1 786.6,488.6 786.9,489.1 787.2,489.6 787.5,490.0 787.9,490.5 788.2,491.0 788.6,491.5 788.9,491.9 789.3,492.4 789.6,492.8 790.0,493.2 790.3,493.6 790.6,493.9 791.0,494.2 791.2,494.4 791.8,494.7 792.3,494.7 792.8,494.6 793.3,494.2 793.8,493.8 794.0,493.5 794.2,493.1 794.5,492.8 794.7,492.4 794.9,491.9 795.2,491.5 795.4,491.0 795.6,490.5 795.8,489.9 796.1,489.3 796.2,488.8 796.4,488.3 796.5,488.0 796.6,487.6 796.7,487.2 796.8,486.9 796.9,486.5 797.0,486.1 797.1,485.6 797.2,485.2 797.3,484.7 797.4,484.2 797.5,483.6 797.6,482.9 797.8,482.2 797.9,481.5 798.0,480.6 798.1,480.2 798.1,479.9 798.2,479.5 798.2,479.1 798.3,478.7 798.3,478.2 798.4,477.8 798.4,477.4 798.5,476.9 798.6,476.4 798.6,476.0 798.7,475.5 798.8,475.0 798.8,474.5 798.9,474.0 798.9,473.4 799.0,472.9 799.1,472.4 799.1,471.8 799.2,471.3 799.3,470.8 799.3,470.2 799.4,469.7 799.5,469.1 799.5,468.6 799.6,468.0 799.7,467.5 799.7,466.9 799.8,466.4 799.8,465.8 799.9,465.3 800.0,464.7 800.0,464.2 800.1,463.6 800.2,463.1 800.2,462.6 800.3,462.0 800.3,461.5 800.4,461.0 800.4,460.5 800.5,460.0 800.6,459.5 800.6,458.9 800.7,458.4 800.7,457.8 800.8,457.2 800.8,456.6 800.9,456.0 800.9,455.3 801.0,454.7 801.0,454.0 801.1,453.4 801.1,452.7 801.2,452.0 801.2,451.4 801.3,450.7 801.4,450.0 801.4,449.4 801.5,448.7 801.5,448.1 801.6,447.5 801.6,446.8 801.6,446.2 801.7,445.7 801.7,445.1 801.8,444.5 801.8,444.0 801.9,443.5 801.9,443.0 802.0,442.6 802.0,442.2 802.1,441.8 802.1,441.4 802.2,441.1 802.2,440.8 802.3,440.6 802.3,440.4 802.4,440.2 802.4,440.1 802.5,440.0 802.5,440.0 802.5,440.0 802.6,440.1 802.6,440.2 802.7,440.4 802.7,440.6 802.8,440.9 802.8,441.2 802.9,441.6 802.9,442.0 803.0,442.4 803.0,442.8 803.1,443.3 803.1,443.9 803.2,444.4 803.2,445.0 803.2,445.5 803.3,446.1 803.3,446.8 803.4,447.4 803.4,448.0 803.5,448.7 803.5,449.4 803.6,450.0 803.6,450.7 803.6,451.4 803.7,452.1 803.7,452.7 803.8,453.4 803.8,454.0 803.8,454.7 803.9,455.3 803.9,455.9 804.0,456.5 804.0,457.1 804.0,457.6 804.1,458.2 804.1,458.7 804.1,459.1 804.2,459.6 804.2,460.0 804.3,460.7 804.3,461.3 804.3,462.0 804.4,462.5 804.4,463.1 804.5,463.6 804.5,464.1 804.5,464.6 804.5,465.1 804.6,465.6 804.6,466.0 804.6,466.5 804.6,466.9 804.7,467.3 804.7,467.8 804.7,468.2 804.8,468.7 804.8,469.2 804.8,469.7 804.9,470.2 804.9,470.7 805.0,471.2 805.1,471.7 805.1,472.2 805.2,472.7 805.2,473.2 805.3,473.7 805.3,474.3 805.4,474.8 805.5,475.3 805.5,475.9 805.6,476.4 805.7,477.0 805.7,477.5 805.8,478.1 805.9,478.6 806.0,479.2 806.0,479.7 806.1,480.3 806.2,480.8 806.3,481.3 806.3,481.8 806.4,482.3 806.5,482.8 806.6,483.3 806.7,483.7 806.7,484.2 806.8,484.6 806.9,485.0 807.0,485.7 807.2,486.3 807.3,486.9 807.5,487.5 807.6,488.1 807.8,488.6 807.9,489.1 808.1,489.6 808.2,490.0 808.4,490.5 808.6,490.9 808.8,491.3 809.0,491.7 809.2,492.1 809.4,492.5 809.7,493.0 810.0,493.4 810.3,493.9 810.7,494.3 811.0,494.7 811.4,495.1 811.8,495.4 812.2,495.8 812.6,496.1 813.0,496.4 813.4,496.6 813.8,496.9 814.2,497.2 814.6,497.4 815.0,497.6 815.3,497.8 815.7,497.9 816.2,498.0 816.7,498.2 817.3,498.3 817.9,498.4 818.8,498.5 819.1,498.5 819.5,498.6 819.9,498.6 820.3,498.7 820.8,498.7 821.2,498.7 821.7,498.8 822.2,498.8 822.7,498.8 823.2,498.9 823.7,498.9 824.3,498.9 824.8,498.9 825.3,499.0 825.9,499.0 826.4,499.0 827.0,499.1 827.5,499.1 828.1,499.1 828.6,499.2 829.2,499.2 829.7,499.3 830.2,499.3 830.7,499.3 831.2,499.4 831.8,499.5 832.2,499.5 832.8,499.6 833.2,499.7 833.8,499.7 834.2,499.8 834.8,499.9 835.2,500.0 835.8,500.1 836.2,500.2 836.8,500.3 837.2,500.4 837.8,500.4 838.2,500.5 838.8,500.6 839.2,500.7 839.8,500.8 840.2,500.9 840.8,500.9 841.2,501.0 841.8,501.1 842.2,501.1 842.8,501.2 843.2,501.2 843.8,501.2 844.3,501.3 844.8,501.3 845.3,501.3 845.8,501.4 846.3,501.4 846.8,501.4 847.3,501.4 847.8,501.4 848.3,501.4 848.8,501.4 849.3,501.4 849.8,501.4 850.3,501.4 850.8,501.4 851.3,501.3 851.8,501.3 852.3,501.3 852.8,501.3 853.3,501.2 853.8,501.2 854.3,501.2 854.8,501.1 855.3,501.1 855.8,501.0 856.2,501.0 856.8,500.9 857.3,500.9 857.9,500.8 858.4,500.7 859.0,500.6 859.5,500.4 860.1,500.3 860.6,500.2 861.1,500.0 861.7,499.9 862.2,499.8 862.7,499.6 863.2,499.5 863.7,499.4 864.2,499.3 864.7,499.2 865.2,499.1 865.7,499.0 866.2,498.9 866.6,498.8 867.1,498.8 867.5,498.8 868.1,498.7 868.7,498.8 869.3,498.9 869.9,499.0 870.4,499.1 871.0,499.2 871.5,499.4 872.0,499.5 872.5,499.7 872.9,499.8 873.4,499.9 873.8,500.0 874.2,500.1 874.6,500.1 875.0,500.0 875.5,499.8 876.0,499.6 876.4,499.3 876.8,498.9 877.2,498.5 877.5,498.1 877.8,497.6 878.1,497.2 878.4,496.7 878.8,496.2 879.0,495.8 879.3,495.4 879.5,494.9 879.8,494.4 880.0,493.9 880.2,493.3 880.4,492.8 880.6,492.4 880.8,491.9 881.0,491.6 881.2,491.2 881.7,490.7 882.2,490.2 882.7,489.9 883.2,489.8 883.8,490.0 884.0,490.2 884.3,490.5 884.6,490.8 884.9,491.2 885.2,491.7 885.5,492.2 885.9,492.7 886.2,493.2 886.5,493.7 886.9,494.2 887.2,494.6 887.5,495.0 887.9,495.4 888.2,495.9 888.6,496.3 889.0,496.8 889.4,497.2 889.8,497.6 890.1,497.9 890.5,498.3 890.9,498.5 891.2,498.8 891.8,499.0 892.3,499.1 892.9,499.1 893.5,499.1 894.0,499.0 894.5,498.9 895.0,498.8 895.5,498.6 896.0,498.5 896.5,498.3 897.0,498.0 897.4,497.6 897.9,497.1 898.1,496.8 898.4,496.4 898.6,495.9 898.9,495.4 899.1,494.9 899.4,494.3 899.6,493.8 899.9,493.2 900.1,492.7 900.3,492.2 900.5,491.8 900.7,491.4 901.0,490.7 901.3,489.9 901.6,489.3 901.9,488.8 902.1,488.5 902.4,488.6 902.5,488.8 902.7,489.1 902.8,489.5 902.9,489.9 903.1,490.4 903.2,491.0 903.3,491.6 903.5,492.2 903.7,492.8 903.8,493.3 904.1,493.8 904.3,494.3 904.6,494.7 904.9,495.1 905.2,495.6 905.5,496.0 905.9,496.4 906.3,496.8 906.6,497.1 907.0,497.5 907.4,497.8 907.8,498.1 908.2,498.4 908.6,498.6 909.1,498.8 909.6,499.0 910.1,499.2 910.7,499.3 911.2,499.4 911.7,499.5 912.2,499.5 912.7,499.5 913.2,499.4 913.6,499.3 914.0,499.0 914.4,498.7 914.7,498.2 915.0,497.6 915.3,497.0 915.5,496.5 915.8,496.1 916.1,495.8 916.4,495.7 916.7,495.8 917.0,496.0 917.3,496.4 917.6,496.9 917.9,497.4 918.2,497.9 918.5,498.5 918.9,498.9 919.3,499.3 919.7,499.6 920.0,499.8 920.4,500.1 920.8,500.3 921.2,500.5 921.6,500.7 922.2,500.9 922.8,501.1 923.5,501.3 924.3,501.4 924.7,501.5 925.1,501.5 925.5,501.5 926.0,501.6 926.5,501.6 927.0,501.7 927.5,501.7 928.1,501.8 928.6,501.8 929.2,501.8 929.8,501.9 930.4,501.9 930.9,501.9 931.5,501.9 932.1,501.9 932.7,502.0 933.3,502.0 933.8,502.0 934.3,502.0 934.9,502.0 935.4,502.0 935.8,502.0 936.3,501.9 936.7,501.9 937.1,501.9 937.8,501.8 938.5,501.7 939.0,501.6 939.6,501.5 940.0,501.3 940.4,501.1 940.8,500.9 941.2,500.7 941.6,500.5 942.0,500.4 942.4,500.2 942.9,500.0 943.4,499.8 943.9,499.6 944.4,499.4 944.9,499.2 945.4,499.0 945.8,498.7 946.3,498.5 946.8,498.3 947.3,498.2 947.7,498.0 948.2,498.0 948.6,497.9 949.1,497.9 949.7,498.0 950.1,498.2 950.6,498.4 951.1,498.7 951.5,498.9 952.0,499.1 952.4,499.2 952.9,499.3 953.4,499.3 954.0,499.1 954.5,499.0 955.1,498.8 955.6,498.6 956.1,498.3 956.6,498.1 957.1,497.9 957.7,497.6 958.3,497.4 958.8,497.1 959.3,496.8 959.7,496.6 960.0,496.4" fill="none" stroke="#484848" stroke-width="1.2" stroke-linejoin="round" stroke-linecap="round"/>
<polyline points="520.0,487.5 520.3,487.5 520.5,487.5 520.8,487.5 521.2,487.5 521.5,487.5 521.9,487.4 522.2,487.4 522.6,487.4 523.1,487.4 523.5,487.4 523.9,487.4 524.4,487.3 524.8,487.3 525.3,487.3 525.8,487.3 526.3,487.3 526.8,487.2 527.4,487.2 527.9,487.2 528.4,487.2 529.0,487.2 529.5,487.1 530.1,487.1 530.7,487.1 531.2,487.1 531.8,487.1 532.4,487.0 533.0,487.0 533.6,487.0 534.2,487.0 534.7,487.0 535.3,487.0 535.9,486.9 536.5,486.9 537.1,486.9 537.7,486.9 538.2,486.9 538.8,486.9 539.4,486.9 539.9,486.9 540.5,486.9 541.0,486.9 541.5,486.9 542.1,486.9 542.6,486.9 543.1,486.9 543.6,486.9 544.1,486.9 544.5,486.9 545.0,486.9 545.6,486.9 546.1,486.9 546.7,487.0 547.2,487.0 547.7,487.0 548.3,487.1 548.8,487.1 549.3,487.1 549.8,487.2 550.4,487.2 550.9,487.2 551.4,487.3 551.9,487.3 552.4,487.4 552.9,487.4 553.4,487.5 553.9,487.5 554.4,487.6 554.9,487.7 555.4,487.7 555.8,487.8 556.3,487.8 556.8,487.9 557.3,487.9 557.8,488.0 558.2,488.0 558.7,488.1 559.2,488.2 559.7,488.2 560.2,488.3 560.6,488.3 561.1,488.4 561.6,488.4 562.1,488.5 562.6,488.5 563.0,488.6 563.5,488.6 564.0,488.7 564.5,488.7 565.0,488.8 565.5,488.8 566.0,488.8 566.6,488.9 567.1,488.9 567.6,489.0 568.1,489.0 568.6,489.0 569.1,489.1 569.6,489.1 570.1,489.1 570.7,489.2 571.2,489.2 571.7,489.3 572.2,489.3 572.7,489.3 573.2,489.4 573.7,489.4 574.2,489.4 574.7,489.5 575.2,489.5 575.8,489.5 576.3,489.6 576.8,489.6 577.3,489.6 577.8,489.7 578.3,489.7 578.8,489.7 579.3,489.8 579.8,489.8 580.3,489.8 580.8,489.8 581.3,489.9 581.9,489.9 582.4,489.9 582.9,489.9 583.4,490.0 583.9,490.0 584.4,490.0 584.9,490.0 585.4,490.0 585.9,490.1 586.4,490.1 586.9,490.1 587.5,490.1 588.0,490.1 588.5,490.1 589.0,490.1 589.5,490.1 590.0,490.2 590.5,490.2 591.0,490.2 591.5,490.2 592.0,490.2 592.5,490.2 593.0,490.2 593.5,490.2 594.0,490.2 594.5,490.2 595.1,490.2 595.6,490.2 596.1,490.2 596.6,490.2 597.1,490.2 597.6,490.2 598.1,490.2 598.6,490.2 599.1,490.2 599.6,490.2 600.1,490.2 600.7,490.2 601.2,490.2 601.7,490.2 602.2,490.2 602.7,490.2 603.2,490.2 603.8,490.2 604.2,490.3 604.7,490.3 605.2,490.3 605.7,490.3 606.2,490.3 606.7,490.3 607.2,490.3 607.7,490.3 608.2,490.3 608.7,490.3 609.2,490.3 609.7,490.3 610.2,490.3 610.7,490.3 611.2,490.3 611.7,490.3 612.2,490.3 612.7,490.3 613.2,490.3 613.7,490.3 614.2,490.3 614.7,490.3 615.2,490.3 615.7,490.3 616.2,490.3 616.7,490.3 617.2,490.3 617.7,490.3 618.2,490.3 618.7,490.3 619.2,490.3 619.7,490.3 620.2,490.3 620.7,490.2 621.2,490.2 621.7,490.2 622.2,490.2 622.7,490.2 623.2,490.2 623.8,490.2 624.3,490.3 624.8,490.3 625.3,490.3 625.8,490.3 626.3,490.3 626.8,490.3 627.3,490.3 627.8,490.3 628.3,490.3 628.8,490.3 629.3,490.3 629.8,490.3 630.3,490.3 630.8,490.3 631.3,490.3 631.8,490.3 632.3,490.3 632.8,490.3 633.3,490.3 633.8,490.3 634.3,490.3 634.8,490.3 635.3,490.3 635.8,490.3 636.3,490.3 636.8,490.3 637.3,490.3 637.8,490.3 638.3,490.3 638.8,490.3 639.3,490.3 639.8,490.3 640.3,490.3 640.8,490.3 641.3,490.3 641.8,490.3 642.3,490.3 642.8,490.3 643.3,490.3 643.8,490.3 644.3,490.3 644.8,490.3 645.3,490.3 645.8,490.3 646.3,490.3 646.8,490.3 647.3,490.3 647.8,490.4 648.3,490.4 648.8,490.4 649.3,490.4 649.9,490.4 650.4,490.4 650.9,490.4 651.4,490.4 651.9,490.4 652.4,490.4 652.9,490.4 653.4,490.4 653.9,490.5 654.4,490.5 654.9,490.5 655.4,490.5 655.9,490.5 656.4,490.5 656.9,490.5 657.4,490.5 657.9,490.5 658.5,490.5 659.0,490.5 659.5,490.6 660.0,490.6 660.5,490.6 661.0,490.6 661.5,490.6 662.0,490.6 662.5,490.6 663.0,490.6 663.5,490.6 664.0,490.6 664.5,490.6 665.0,490.6 665.5,490.6 666.1,490.6 666.6,490.6 667.1,490.6 667.6,490.6 668.1,490.6 668.7,490.6 669.2,490.6 669.7,490.6 670.2,490.6 670.8,490.6 671.3,490.6 671.8,490.6 672.3,490.6 672.9,490.6 673.4,490.6 673.9,490.6 674.4,490.6 674.9,490.6 675.4,490.6 675.9,490.6 676.5,490.6 677.0,490.6 677.5,490.6 678.0,490.6 678.4,490.6 678.9,490.6 679.4,490.6 679.9,490.6 680.4,490.6 680.8,490.6 681.3,490.6 681.8,490.6 682.2,490.6 682.7,490.6 683.1,490.6 683.7,490.6 684.3,490.6 684.9,490.6 685.5,490.6 686.1,490.6 686.7,490.7 687.3,490.7 687.9,490.7 688.5,490.7 689.1,490.7 689.7,490.7 690.2,490.8 690.8,490.8 691.3,490.8 691.9,490.8 692.4,490.8 692.9,490.8 693.4,490.8 693.9,490.8 694.4,490.8 694.8,490.8 695.3,490.8 695.7,490.8 696.1,490.8 696.5,490.7 696.8,490.7 697.2,490.7 697.5,490.6 698.4,490.4 699.1,490.0 699.5,489.7 699.8,489.3 699.9,488.8 700.1,488.4 700.3,487.9 700.6,487.5 700.9,487.1 701.3,486.6 701.6,486.2 702.0,485.7 702.3,485.2 702.7,484.8 703.0,484.5 703.4,484.3 703.8,484.2 704.1,484.3 704.4,484.5 704.8,484.9 705.1,485.3 705.5,485.8 705.9,486.3 706.3,486.8 706.7,487.3 707.1,487.7 707.5,488.0 707.9,488.3 708.4,488.5 708.8,488.7 709.3,488.9 709.8,489.1 710.3,489.2 710.8,489.4 711.3,489.5 711.9,489.6 712.5,489.8 712.9,489.8 713.4,489.9 713.9,490.1 714.5,490.2 715.0,490.3 715.6,490.4 716.1,490.5 716.7,490.6 717.2,490.7 717.8,490.7 718.3,490.8 718.8,490.8 719.2,490.8 719.6,490.7 720.0,490.6 720.5,490.4 720.8,490.2 721.1,490.0 721.4,489.7 721.6,489.4 721.7,489.0 721.9,488.5 722.1,487.8 722.3,487.1 722.5,486.2 722.6,485.9 722.7,485.5 722.8,485.1 722.8,484.6 722.9,484.1 723.0,483.5 723.1,483.0 723.2,482.4 723.3,481.7 723.4,481.1 723.5,480.5 723.6,479.8 723.7,479.2 723.7,478.5 723.8,477.9 723.9,477.3 724.0,476.7 724.1,476.1 724.2,475.5 724.3,474.9 724.4,474.4 724.4,473.9 724.5,473.5 724.6,473.1 724.7,472.7 724.8,472.4 724.8,472.2 724.9,472.0 725.0,471.9 725.1,471.8 725.2,471.9 725.3,472.1 725.4,472.4 725.5,472.8 725.6,473.2 725.7,473.8 725.8,474.4 725.9,475.0 726.0,475.7 726.1,476.4 726.2,477.1 726.3,477.8 726.4,478.5 726.5,479.2 726.6,479.8 726.7,480.3 726.8,480.8 726.9,481.2 727.1,481.9 727.3,482.6 727.4,483.1 727.6,483.7 727.8,484.2 728.0,484.6 728.1,485.1 728.3,485.5 728.5,485.9 728.8,486.2 729.1,486.8 729.5,487.5 729.9,488.1 730.2,488.6 730.6,488.9 731.0,489.0 731.2,488.8 731.3,488.5 731.4,488.1 731.5,487.6 731.6,487.1 731.6,486.4 731.7,485.8 731.7,485.0 731.8,484.3 731.8,483.6 731.9,482.9 731.9,482.2 732.0,481.6 732.0,481.0 732.1,480.6 732.1,480.3 732.2,480.1 732.2,480.0 732.3,480.1 732.4,480.3 732.4,480.6 732.4,480.9 732.5,481.4 732.5,481.9 732.6,482.5 732.6,483.1 732.6,483.8 732.7,484.5 732.8,485.1 732.8,485.8 732.9,486.5 733.0,487.1 733.1,487.7 733.2,488.2 733.4,488.7 733.6,489.1 733.8,489.4 734.1,489.8 734.6,490.3 735.1,490.8 735.7,491.2 736.3,491.6 736.9,491.8 737.5,492.0 738.1,492.0 738.7,491.9 739.2,491.5 739.6,490.9 740.0,490.0 740.1,489.7 740.1,489.5 740.2,489.2 740.3,488.9 740.3,488.6 740.4,488.3 740.4,487.9 740.5,487.6 740.5,487.2 740.5,486.8 740.6,486.4 740.6,486.0 740.6,485.6 740.7,485.2 740.7,484.7 740.7,484.3 740.7,483.8 740.8,483.4 740.8,482.9 740.8,482.4 740.8,481.9 740.8,481.4 740.8,480.9 740.8,480.3 740.8,479.8 740.8,479.3 740.9,478.7 740.9,478.2 740.9,477.6 740.9,477.0 740.9,476.5 740.9,475.9 740.9,475.3 740.9,474.7 740.9,474.1 740.9,473.5 740.9,472.9 740.9,472.3 740.9,471.7 740.9,471.1 740.9,470.5 740.9,469.9 740.9,469.3 740.9,468.7 740.9,468.1 740.9,467.5 741.0,466.8 741.0,466.2 741.0,465.6 741.0,465.0 741.0,464.6 741.0,464.1 741.0,463.7 741.0,463.2 741.1,462.7 741.1,462.2 741.1,461.7 741.1,461.1 741.1,460.6 741.1,460.0 741.1,459.5 741.1,458.9 741.2,458.3 741.2,457.7 741.2,457.1 741.2,456.5 741.2,455.9 741.2,455.3 741.2,454.6 741.2,454.0 741.2,453.4 741.3,452.7 741.3,452.1 741.3,451.4 741.3,450.8 741.3,450.1 741.3,449.5 741.3,448.8 741.3,448.2 741.3,447.5 741.4,446.9 741.4,446.2 741.4,445.6 741.4,444.9 741.4,444.3 741.4,443.7 741.4,443.0 741.4,442.4 741.4,441.8 741.5,441.2 741.5,440.6 741.5,440.0 741.5,439.4 741.5,438.8 741.5,438.3 741.5,437.7 741.5,437.2 741.5,436.6 741.6,436.1 741.6,435.6 741.6,435.1 741.6,434.6 741.6,434.1 741.6,433.7 741.6,433.2 741.6,432.8 741.6,432.4 741.6,432.0 741.7,431.7 741.7,431.3 741.7,431.0 741.7,430.7 741.7,430.4 741.7,430.1 741.7,429.8 741.7,429.6 741.7,429.4 741.8,429.2 741.8,429.1 741.8,428.9 741.8,428.8 741.8,428.8 741.8,428.7 741.8,428.7 741.8,428.7 741.9,428.7 741.9,428.9 741.9,429.0 741.9,429.2 741.9,429.4 741.9,429.7 742.0,430.0 742.0,430.4 742.0,430.7 742.0,431.2 742.0,431.6 742.0,432.1 742.0,432.5 742.1,433.1 742.1,433.6 742.1,434.2 742.1,434.7 742.1,435.4 742.1,436.0 742.1,436.6 742.2,437.3 742.2,437.9 742.2,438.6 742.2,439.3 742.2,440.0 742.2,440.7 742.3,441.4 742.3,442.1 742.3,442.8 742.3,443.5 742.3,444.2 742.3,444.9 742.3,445.6 742.4,446.3 742.4,447.0 742.4,447.7 742.4,448.3 742.4,449.0 742.4,449.6 742.5,450.3 742.5,450.9 742.5,451.5 742.5,452.1 742.5,452.6 742.5,453.1 742.6,453.6 742.6,454.1 742.6,454.6 742.6,455.0 742.6,455.7 742.7,456.3 742.7,456.9 742.7,457.5 742.7,458.1 742.8,458.7 742.8,459.2 742.8,459.8 742.8,460.3 742.9,460.9 742.9,461.4 742.9,461.9 742.9,462.4 743.0,462.9 743.0,463.4 743.0,463.8 743.0,464.3 743.1,464.8 743.1,465.2 743.1,465.7 743.1,466.1 743.2,466.6 743.2,467.1 743.2,467.5 743.3,468.0 743.3,468.4 743.3,468.9 743.4,469.3 743.4,469.8 743.4,470.3 743.5,470.8 743.5,471.2 743.5,471.8 743.6,472.3 743.6,472.9 743.7,473.4 743.7,474.0 743.7,474.5 743.8,475.1 743.8,475.7 743.9,476.3 743.9,476.8 744.0,477.4 744.0,478.0 744.1,478.6 744.1,479.1 744.1,479.7 744.2,480.2 744.2,480.8 744.3,481.3 744.4,481.8 744.4,482.3 744.5,482.8 744.5,483.3 744.6,483.7 744.6,484.1 744.7,484.5 744.7,484.9 744.8,485.3 744.9,485.6 744.9,486.0 745.0,486.2 745.4,487.4 745.7,487.9 746.1,487.9 746.7,487.8 747.5,487.8 747.9,487.8 748.3,487.8 748.7,487.8 749.2,487.8 749.7,487.7 750.2,487.7 750.7,487.6 751.2,487.6 751.8,487.5 752.4,487.5 752.9,487.5 753.5,487.4 754.0,487.4 754.5,487.5 755.0,487.5 755.5,487.6 756.0,487.7 756.5,487.8 757.1,488.0 757.6,488.2 758.1,488.3 758.6,488.5 759.1,488.7 759.6,488.9 760.0,489.0 760.5,489.2 761.0,489.3 761.4,489.4 761.9,489.4 762.5,489.4 763.0,489.4 763.6,489.3 764.1,489.2 764.6,489.1 765.1,489.0 765.6,488.8 766.1,488.6 766.6,488.4 767.0,488.2 767.5,488.0 768.0,487.7 768.4,487.4 768.8,487.0 769.3,486.6 769.7,486.1 770.1,485.7 770.5,485.3 770.9,485.0 771.2,484.7 771.6,484.5 771.9,484.4 772.3,484.5 772.7,484.9 773.0,485.4 773.3,485.9 773.6,486.6 774.0,487.1 774.4,487.5 774.8,487.8 775.3,488.0 775.8,488.3 776.3,488.5 776.9,488.7 777.4,488.9 777.9,488.9 778.4,488.9 778.8,488.8 779.0,488.5 779.3,488.3 779.4,488.0 779.6,487.6 779.8,487.2 779.9,486.6 780.0,486.0 780.2,485.4 780.4,484.6 780.6,483.8 780.7,483.4 780.8,483.0 780.9,482.5 781.0,482.0 781.1,481.4 781.2,480.9 781.3,480.3 781.4,479.6 781.5,479.0 781.7,478.3 781.8,477.7 781.9,477.0 782.0,476.4 782.1,475.7 782.2,475.1 782.4,474.5 782.5,473.9 782.6,473.3 782.7,472.8 782.9,472.3 783.0,471.9 783.1,471.5 783.2,471.2 783.3,471.0 783.5,470.8 783.6,470.6 783.7,470.6 783.8,470.6 783.9,470.8 784.1,470.9 784.2,471.2 784.3,471.5 784.4,471.8 784.5,472.2 784.6,472.7 784.8,473.2 784.9,473.7 785.0,474.3 785.1,474.9 785.2,475.5 785.4,476.1 785.5,476.8 785.6,477.4 785.7,478.1 785.8,478.7 786.0,479.4 786.1,480.0 786.2,480.6 786.3,481.2 786.4,481.8 786.5,482.3 786.7,482.8 786.8,483.3 786.9,483.8 787.1,484.4 787.3,485.0 787.4,485.5 787.6,486.1 787.8,486.7 788.0,487.2 788.1,487.8 788.3,488.3 788.5,488.8 788.7,489.3 788.8,489.8 789.0,490.3 789.2,490.7 789.4,491.1 789.5,491.5 789.7,491.9 789.8,492.2 790.0,492.5 790.4,493.3 790.9,493.9 791.2,494.3 791.6,494.5 792.1,494.5 792.5,494.4 792.8,494.3 793.1,494.1 793.4,493.8 793.7,493.5 794.1,493.1 794.4,492.6 794.7,492.1 795.0,491.5 795.3,490.8 795.6,490.0 795.7,489.7 795.8,489.3 795.9,489.0 796.0,488.6 796.1,488.2 796.3,487.8 796.4,487.4 796.5,487.0 796.6,486.6 796.7,486.2 796.8,485.7 796.9,485.3 797.0,484.8 797.1,484.3 797.2,483.8 797.3,483.3 797.3,482.7 797.4,482.1 797.5,481.5 797.6,480.9 797.7,480.3 797.8,479.6 797.9,478.9 797.9,478.2 798.0,477.5 798.0,477.1 798.1,476.7 798.1,476.4 798.1,476.0 798.2,475.6 798.2,475.2 798.2,474.8 798.3,474.4 798.3,474.0 798.3,473.6 798.4,473.2 798.4,472.8 798.4,472.4 798.4,472.0 798.5,471.6 798.5,471.2 798.5,470.7 798.5,470.3 798.6,469.9 798.6,469.4 798.6,469.0 798.6,468.5 798.7,468.1 798.7,467.6 798.7,467.1 798.7,466.6 798.7,466.1 798.8,465.6 798.8,465.1 798.8,464.6 798.8,464.1 798.8,463.6 798.9,463.1 798.9,462.5 798.9,462.0 798.9,461.4 798.9,460.8 799.0,460.2 799.0,459.7 799.0,459.1 799.0,458.5 799.0,457.8 799.1,457.2 799.1,456.6 799.1,455.9 799.1,455.3 799.1,454.6 799.2,453.9 799.2,453.2 799.2,452.5 799.2,452.1 799.2,451.7 799.2,451.3 799.2,450.8 799.3,450.4 799.3,449.9 799.3,449.5 799.3,449.0 799.3,448.5 799.3,448.0 799.3,447.5 799.3,446.9 799.3,446.4 799.3,445.8 799.4,445.3 799.4,444.7 799.4,444.1 799.4,443.6 799.4,443.0 799.4,442.4 799.4,441.8 799.4,441.2 799.4,440.6 799.4,439.9 799.4,439.3 799.4,438.7 799.5,438.0 799.5,437.4 799.5,436.8 799.5,436.1 799.5,435.5 799.5,434.8 799.5,434.2 799.5,433.5 799.5,432.9 799.5,432.2 799.5,431.6 799.5,430.9 799.6,430.2 799.6,429.6 799.6,428.9 799.6,428.3 799.6,427.6 799.6,427.0 799.6,426.3 799.6,425.7 799.6,425.1 799.6,424.4 799.6,423.8 799.6,423.2 799.7,422.6 799.7,421.9 799.7,421.3 799.7,420.7 799.7,420.1 799.7,419.5 799.7,419.0 799.7,418.4 799.7,417.8 799.7,417.3 799.7,416.7 799.7,416.2 799.7,415.6 799.8,415.1 799.8,414.6 799.8,414.1 799.8,413.6 799.8,413.1 799.8,412.7 799.8,412.2 799.8,411.8 799.8,411.4 799.8,411.0 799.8,410.6 799.8,410.2 799.9,409.8 799.9,409.5 799.9,409.1 799.9,408.8 799.9,408.5 799.9,408.2 799.9,407.9 799.9,407.7 799.9,407.4 799.9,407.2 799.9,407.0 800.0,406.8 800.0,406.7 800.0,406.5 800.0,406.4 800.0,406.3 800.0,406.2 800.0,406.2 800.0,406.1 800.0,406.1 800.1,406.2 800.1,406.3 800.1,406.4 800.1,406.5 800.1,406.7 800.1,406.9 800.1,407.2 800.2,407.4 800.2,407.7 800.2,408.1 800.2,408.4 800.2,408.8 800.2,409.2 800.2,409.6 800.3,410.1 800.3,410.6 800.3,411.1 800.3,411.6 800.3,412.1 800.3,412.7 800.3,413.3 800.4,413.9 800.4,414.5 800.4,415.1 800.4,415.7 800.4,416.4 800.4,417.0 800.5,417.7 800.5,418.3 800.5,419.0 800.5,419.7 800.5,420.4 800.5,421.1 800.5,421.8 800.6,422.5 800.6,423.2 800.6,424.0 800.6,424.7 800.6,425.4 800.6,426.1 800.7,426.8 800.7,427.5 800.7,428.2 800.7,428.9 800.7,429.6 800.7,430.3 800.7,430.9 800.8,431.6 800.8,432.2 800.8,432.9 800.8,433.5 800.8,434.1 800.8,434.7 800.9,435.3 800.9,435.8 800.9,436.4 800.9,436.9 800.9,437.4 800.9,437.9 800.9,438.4 801.0,438.8 801.0,439.2 801.0,439.6 801.0,440.0 801.0,440.9 801.1,441.7 801.1,442.5 801.1,443.2 801.2,443.9 801.2,444.6 801.2,445.3 801.2,445.9 801.2,446.5 801.3,447.1 801.3,447.6 801.3,448.1 801.3,448.6 801.4,449.1 801.4,449.5 801.4,450.0 801.5,450.4 801.5,450.8 801.5,451.1 801.6,451.5 801.6,451.9 801.6,452.2 801.7,452.5 801.7,452.8 801.8,453.1 801.8,453.5 801.9,453.8 802.2,454.6 802.7,454.7 803.1,454.5 803.6,454.4 804.0,454.8 804.4,456.0 804.4,456.3 804.5,456.6 804.5,457.0 804.6,457.4 804.6,457.8 804.7,458.2 804.7,458.6 804.7,459.1 804.8,459.6 804.8,460.1 804.8,460.6 804.9,461.2 804.9,461.7 804.9,462.3 804.9,462.8 805.0,463.4 805.0,464.0 805.0,464.6 805.0,465.2 805.1,465.8 805.1,466.4 805.1,467.0 805.1,467.5 805.2,468.1 805.2,468.7 805.2,469.3 805.2,469.8 805.3,470.4 805.3,470.9 805.3,471.5 805.4,472.0 805.4,472.5 805.4,472.9 805.5,473.4 805.5,473.8 805.5,474.2 805.6,474.6 805.6,475.0 805.7,475.8 805.8,476.6 805.9,477.3 806.0,477.9 806.1,478.5 806.3,479.0 806.4,479.5 806.5,479.9 806.6,480.3 806.8,480.7 806.9,481.1 807.0,481.4 807.2,481.8 807.3,482.1 807.5,482.5 807.8,483.1 808.1,483.7 808.4,484.3 808.8,484.8 809.2,485.2 809.5,485.6 809.9,485.9 810.2,486.1 810.6,486.2 811.0,486.3 811.4,486.4 811.8,486.5 812.3,486.4 812.7,486.2 813.1,485.7 813.4,484.9 813.8,483.8 813.8,483.5 813.9,483.2 813.9,482.8 814.0,482.5 814.1,482.2 814.1,481.8 814.2,481.5 814.3,481.1 814.3,480.7 814.4,480.3 814.4,479.9 814.5,479.5 814.5,479.0 814.6,478.6 814.7,478.1 814.7,477.7 814.8,477.2 814.8,476.7 814.9,476.2 814.9,475.7 815.0,475.1 815.0,474.6 815.0,474.0 815.1,473.5 815.1,472.9 815.2,472.3 815.2,471.7 815.3,471.1 815.3,470.5 815.3,469.8 815.4,469.2 815.4,468.5 815.5,467.8 815.5,467.1 815.5,466.4 815.6,465.7 815.6,465.0 815.6,464.6 815.6,464.2 815.7,463.8 815.7,463.3 815.7,462.8 815.7,462.4 815.7,461.9 815.7,461.3 815.7,460.8 815.8,460.3 815.8,459.7 815.8,459.1 815.8,458.5 815.8,457.9 815.8,457.3 815.8,456.7 815.8,456.1 815.8,455.5 815.9,454.8 815.9,454.2 815.9,453.5 815.9,452.9 815.9,452.2 815.9,451.5 815.9,450.9 815.9,450.2 815.9,449.5 815.9,448.8 815.9,448.1 816.0,447.5 816.0,446.8 816.0,446.1 816.0,445.5 816.0,444.8 816.0,444.1 816.0,443.5 816.0,442.8 816.0,442.2 816.0,441.5 816.0,440.9 816.0,440.3 816.0,439.7 816.0,439.1 816.0,438.5 816.1,437.9 816.1,437.4 816.1,436.8 816.1,436.3 816.1,435.7 816.1,435.2 816.1,434.7 816.1,434.3 816.1,433.8 816.1,433.4 816.1,432.9 816.1,432.5 816.1,432.2 816.1,431.8 816.1,431.5 816.2,431.1 816.2,430.9 816.2,430.6 816.2,430.3 816.2,430.1 816.2,429.9 816.2,429.8 816.2,429.6 816.2,429.5 816.2,429.5 816.2,429.4 816.2,429.4 816.3,429.4 816.3,429.5 816.3,429.5 816.3,429.6 816.3,429.8 816.3,429.9 816.3,430.1 816.3,430.4 816.3,430.6 816.3,430.9 816.3,431.2 816.4,431.5 816.4,431.8 816.4,432.2 816.4,432.6 816.4,433.0 816.4,433.4 816.4,433.8 816.4,434.3 816.4,434.8 816.4,435.3 816.4,435.8 816.4,436.3 816.4,436.8 816.4,437.4 816.4,438.0 816.5,438.5 816.5,439.1 816.5,439.7 816.5,440.4 816.5,441.0 816.5,441.6 816.5,442.3 816.5,442.9 816.5,443.6 816.5,444.2 816.5,444.9 816.5,445.5 816.5,446.2 816.6,446.9 816.6,447.6 816.6,448.2 816.6,448.9 816.6,449.6 816.6,450.3 816.6,450.9 816.6,451.6 816.6,452.3 816.6,452.9 816.7,453.6 816.7,454.3 816.7,454.9 816.7,455.5 816.7,456.2 816.7,456.8 816.7,457.4 816.7,458.0 816.8,458.6 816.8,459.2 816.8,459.8 816.8,460.3 816.8,460.9 816.8,461.4 816.9,461.9 816.9,462.4 816.9,462.9 816.9,463.3 816.9,463.8 817.0,464.2 817.0,464.6 817.0,465.0 817.0,465.7 817.1,466.5 817.1,467.2 817.2,467.9 817.3,468.6 817.3,469.2 817.4,469.9 817.4,470.5 817.5,471.1 817.6,471.7 817.6,472.3 817.7,472.9 817.8,473.5 817.8,474.0 817.9,474.5 818.0,475.0 818.1,475.5 818.1,476.0 818.2,476.5 818.3,477.0 818.4,477.4 818.4,477.8 818.5,478.3 818.6,478.7 818.7,479.1 818.7,479.5 818.8,479.8 818.9,480.2 819.0,480.6 819.0,480.9 819.1,481.3 819.2,481.6 819.3,481.9 819.3,482.2 819.4,482.5 819.7,483.7 820.1,484.5 820.4,484.9 820.7,485.1 821.0,485.2 821.4,485.3 821.9,485.6 822.3,485.9 822.8,486.4 823.3,486.8 823.9,487.2 824.4,487.6 824.9,487.9 825.4,488.1 825.9,488.1 826.2,488.0 826.5,487.7 826.6,487.3 826.8,486.8 826.9,486.2 827.0,485.5 827.1,484.7 827.2,484.0 827.3,483.3 827.4,482.6 827.5,482.1 827.6,481.6 827.7,481.4 827.8,481.2 827.8,481.3 827.9,481.6 827.9,482.0 827.9,482.5 827.9,483.1 827.9,483.8 828.0,484.5 828.0,485.2 828.1,485.9 828.2,486.5 828.4,487.1 828.7,487.6 829.0,488.0 829.3,488.2 829.7,488.4 830.2,488.6 830.7,488.8 831.2,488.9 831.8,489.1 832.3,489.2 832.9,489.3 833.6,489.4 834.2,489.4 834.7,489.5 835.3,489.5 835.8,489.5 836.3,489.5 836.8,489.5 837.2,489.4 837.5,489.4 838.1,489.1 838.4,488.5 838.5,487.7 838.5,487.0 838.6,486.5 838.8,486.2 839.0,486.4 839.3,486.7 839.6,487.2 839.9,487.7 840.3,488.3 840.6,488.8 840.9,489.2 841.2,489.4 841.8,489.5 842.3,489.4 842.8,489.1 843.3,488.7 843.8,488.0 843.9,487.6 844.1,487.1 844.2,486.5 844.3,485.9 844.5,485.2 844.6,484.5 844.7,483.8 844.8,483.2 845.0,482.7 845.1,482.3 845.2,482.0 845.4,481.9 845.5,482.0 845.7,482.3 845.8,482.7 845.9,483.2 846.0,483.8 846.1,484.5 846.2,485.2 846.4,485.9 846.6,486.5 846.8,487.1 847.1,487.6 847.5,488.0 847.8,488.2 848.2,488.4 848.7,488.6 849.1,488.7 849.6,488.8 850.2,488.9 850.7,489.0 851.3,489.1 851.8,489.1 852.4,489.2 852.9,489.2 853.5,489.2 854.0,489.3 854.5,489.3 855.0,489.4 855.5,489.5 856.0,489.5 856.5,489.6 856.9,489.7 857.3,489.7 857.7,489.8 858.2,489.8 858.7,489.8 859.2,489.9 859.8,489.9 860.5,490.0 861.2,490.0 861.6,490.0 862.1,490.0 862.5,490.1 863.0,490.1 863.4,490.1 864.0,490.2 864.5,490.2 865.0,490.2 865.6,490.2 866.1,490.3 866.7,490.3 867.3,490.3 867.9,490.4 868.5,490.4 869.0,490.4 869.6,490.4 870.2,490.5 870.7,490.5 871.3,490.5 871.8,490.5 872.3,490.5 872.8,490.6 873.3,490.6 873.8,490.6 874.2,490.6 874.6,490.6 875.0,490.6 875.8,490.6 876.5,490.5 877.1,490.5 877.6,490.4 878.0,490.3 878.4,490.2 878.8,490.1 879.2,490.1 879.6,490.0 880.1,490.0 880.6,490.0 881.1,490.0 881.5,490.1 882.0,490.2 882.5,490.3 882.9,490.4 883.4,490.5 883.9,490.6 884.4,490.8 884.9,490.9 885.4,491.0 886.0,491.1 886.5,491.2 887.0,491.2 887.5,491.2 888.0,491.3 888.5,491.3 889.0,491.3 889.6,491.3 890.1,491.3 890.7,491.3 891.2,491.3 891.8,491.3 892.3,491.2 892.8,491.2 893.3,491.1 893.8,491.0 894.2,490.9 894.6,490.8 895.0,490.6 895.5,490.4 895.9,490.2 896.3,489.9 896.6,489.7 896.9,489.4 897.1,489.0 897.3,488.5 897.6,487.9 897.8,487.2 898.0,486.2 898.1,485.9 898.1,485.5 898.2,485.1 898.3,484.7 898.3,484.3 898.4,483.8 898.5,483.3 898.5,482.8 898.6,482.3 898.6,481.7 898.7,481.2 898.7,480.6 898.8,480.0 898.8,479.4 898.9,478.8 898.9,478.3 899.0,477.7 899.0,477.1 899.1,476.5 899.1,475.9 899.2,475.3 899.2,474.8 899.2,474.2 899.3,473.6 899.3,473.1 899.4,472.6 899.4,472.1 899.4,471.6 899.5,471.2 899.5,470.8 899.6,470.4 899.6,470.0 899.7,469.1 899.8,468.3 899.9,467.5 899.9,466.8 900.0,466.2 900.0,465.7 900.1,465.2 900.1,464.8 900.2,464.4 900.3,464.1 900.3,463.8 900.4,463.6 900.7,463.0 901.0,463.2 901.4,465.0 901.4,465.3 901.5,465.6 901.5,466.0 901.6,466.4 901.6,466.8 901.7,467.3 901.7,467.8 901.8,468.3 901.8,468.8 901.9,469.4 901.9,469.9 902.0,470.5 902.0,471.1 902.1,471.7 902.1,472.3 902.2,472.9 902.2,473.5 902.3,474.1 902.3,474.7 902.4,475.2 902.4,475.8 902.5,476.4 902.5,476.9 902.6,477.4 902.6,477.9 902.7,478.4 902.7,478.8 902.8,479.3 902.8,479.6 902.9,480.0 903.1,481.0 903.2,481.9 903.4,482.8 903.6,483.5 903.7,484.2 903.9,484.7 904.1,485.1 904.3,485.3 904.4,485.2 904.6,485.0 904.7,484.8 904.7,484.7 904.8,484.4 904.9,484.2 905.0,484.0 905.1,483.7 905.1,483.3 905.2,483.0 905.3,482.6 905.4,482.2 905.5,481.8 905.5,481.3 905.6,480.8 905.7,480.3 905.8,479.7 905.8,479.1 905.9,478.5 906.0,477.8 906.1,477.1 906.1,476.3 906.2,475.5 906.3,474.7 906.3,473.8 906.4,472.9 906.4,472.6 906.4,472.2 906.5,471.8 906.5,471.5 906.5,471.1 906.5,470.7 906.6,470.3 906.6,469.9 906.6,469.6 906.6,469.2 906.6,468.8 906.7,468.3 906.7,467.9 906.7,467.5 906.7,467.1 906.7,466.6 906.8,466.2 906.8,465.8 906.8,465.3 906.8,464.9 906.8,464.4 906.8,464.0 906.9,463.5 906.9,463.0 906.9,462.5 906.9,462.1 906.9,461.6 906.9,461.1 907.0,460.6 907.0,460.1 907.0,459.6 907.0,459.1 907.0,458.6 907.0,458.0 907.1,457.5 907.1,457.0 907.1,456.5 907.1,455.9 907.1,455.4 907.1,454.8 907.2,454.3 907.2,453.7 907.2,453.2 907.2,452.6 907.2,452.1 907.2,451.5 907.3,450.9 907.3,450.3 907.3,449.8 907.3,449.2 907.3,448.6 907.3,448.0 907.3,447.4 907.4,446.8 907.4,446.2 907.4,445.6 907.4,445.0 907.4,444.4 907.4,443.8 907.4,443.1 907.4,442.5 907.5,441.9 907.5,441.3 907.5,440.6 907.5,440.0 907.5,439.6 907.5,439.1 907.5,438.7 907.5,438.2 907.5,437.8 907.5,437.3 907.6,436.8 907.6,436.3 907.6,435.8 907.6,435.2 907.6,434.7 907.6,434.2 907.6,433.6 907.6,433.0 907.6,432.5 907.6,431.9 907.6,431.3 907.6,430.7 907.6,430.1 907.7,429.5 907.7,428.9 907.7,428.3 907.7,427.6 907.7,427.0 907.7,426.4 907.7,425.7 907.7,425.1 907.7,424.4 907.7,423.8 907.7,423.1 907.7,422.4 907.7,421.8 907.7,421.1 907.7,420.5 907.7,419.8 907.8,419.1 907.8,418.4 907.8,417.8 907.8,417.1 907.8,416.4 907.8,415.8 907.8,415.1 907.8,414.4 907.8,413.8 907.8,413.1 907.8,412.4 907.8,411.8 907.8,411.1 907.8,410.5 907.8,409.8 907.8,409.2 907.8,408.5 907.8,407.9 907.9,407.3 907.9,406.6 907.9,406.0 907.9,405.4 907.9,404.8 907.9,404.2 907.9,403.6 907.9,403.0 907.9,402.5 907.9,401.9 907.9,401.3 907.9,400.8 907.9,400.2 907.9,399.7 907.9,399.2 907.9,398.7 907.9,398.2 907.9,397.7 907.9,397.2 908.0,396.8 908.0,396.3 908.0,395.9 908.0,395.4 908.0,395.0 908.0,394.6 908.0,394.2 908.0,393.9 908.0,393.5 908.0,393.2 908.0,392.8 908.0,392.5 908.0,392.2 908.0,392.0 908.0,391.7 908.0,391.5 908.0,391.2 908.0,391.0 908.0,390.8 908.1,390.7 908.1,390.5 908.1,390.4 908.1,390.3 908.1,390.2 908.1,390.1 908.1,390.0 908.1,390.0 908.1,390.0 908.1,390.0 908.1,390.0 908.1,390.1 908.1,390.2 908.1,390.3 908.1,390.4 908.1,390.5 908.1,390.7 908.2,390.9 908.2,391.1 908.2,391.3 908.2,391.5 908.2,391.8 908.2,392.0 908.2,392.3 908.2,392.6 908.2,392.9 908.2,393.3 908.2,393.6 908.2,394.0 908.2,394.4 908.2,394.8 908.2,395.2 908.2,395.6 908.2,396.0 908.3,396.5 908.3,397.0 908.3,397.4 908.3,397.9 908.3,398.4 908.3,398.9 908.3,399.4 908.3,400.0 908.3,400.5 908.3,401.1 908.3,401.6 908.3,402.2 908.3,402.8 908.3,403.4 908.3,404.0 908.3,404.6 908.4,405.2 908.4,405.8 908.4,406.4 908.4,407.0 908.4,407.7 908.4,408.3 908.4,409.0 908.4,409.6 908.4,410.3 908.4,410.9 908.4,411.6 908.4,412.3 908.4,412.9 908.4,413.6 908.4,414.3 908.4,414.9 908.4,415.6 908.5,416.3 908.5,416.9 908.5,417.6 908.5,418.3 908.5,419.0 908.5,419.6 908.5,420.3 908.5,421.0 908.5,421.7 908.5,422.3 908.5,423.0 908.5,423.6 908.5,424.3 908.5,424.9 908.5,425.6 908.5,426.2 908.6,426.9 908.6,427.5 908.6,428.1 908.6,428.7 908.6,429.4 908.6,430.0 908.6,430.6 908.6,431.1 908.6,431.7 908.6,432.3 908.6,432.9 908.6,433.4 908.6,434.0 908.6,434.5 908.6,435.0 908.6,435.5 908.6,436.0 908.7,436.5 908.7,437.0 908.7,437.5 908.7,437.9 908.7,438.4 908.7,438.8 908.7,439.2 908.7,439.6 908.7,440.0 908.7,440.7 908.7,441.5 908.7,442.2 908.7,442.9 908.8,443.5 908.8,444.2 908.8,444.9 908.8,445.5 908.8,446.2 908.8,446.8 908.8,447.4 908.8,448.0 908.8,448.6 908.8,449.2 908.9,449.7 908.9,450.3 908.9,450.8 908.9,451.4 908.9,451.9 908.9,452.4 908.9,453.0 908.9,453.5 908.9,454.0 908.9,454.4 908.9,454.9 909.0,455.4 909.0,455.9 909.0,456.3 909.0,456.8 909.0,457.2 909.0,457.7 909.0,458.1 909.0,458.6 909.0,459.0 909.1,459.4 909.1,459.8 909.1,460.2 909.1,460.6 909.1,461.0 909.1,461.4 909.1,461.8 909.1,462.2 909.2,462.6 909.2,463.0 909.2,463.4 909.2,463.8 909.2,464.2 909.2,464.6 909.3,464.9 909.3,465.3 909.3,465.7 909.3,466.5 909.4,467.2 909.4,468.0 909.5,468.7 909.5,469.4 909.6,470.1 909.6,470.8 909.7,471.4 909.7,472.1 909.8,472.7 909.8,473.3 909.9,473.8 909.9,474.4 910.0,474.9 910.1,475.4 910.1,475.9 910.2,476.3 910.2,476.7 910.3,477.1 910.4,477.4 910.4,477.7 910.5,478.0 910.6,478.2 910.6,478.4 910.7,478.6 910.8,478.8 911.0,478.9 911.2,478.8 911.3,478.5 911.5,478.2 911.7,477.7 911.9,477.1 912.0,476.4 912.2,475.6 912.3,474.8 912.5,473.9 912.6,472.9 912.6,472.6 912.7,472.2 912.7,471.8 912.7,471.4 912.8,470.9 912.8,470.5 912.8,470.0 912.9,469.6 912.9,469.1 912.9,468.5 913.0,468.0 913.0,467.5 913.0,467.0 913.0,466.4 913.1,465.9 913.1,465.3 913.1,464.7 913.1,464.2 913.2,463.6 913.2,463.0 913.2,462.4 913.2,461.9 913.2,461.3 913.3,460.7 913.3,460.2 913.3,459.6 913.3,459.0 913.3,458.5 913.4,458.0 913.4,457.4 913.4,456.9 913.4,456.4 913.5,455.9 913.5,455.5 913.5,455.0 913.5,454.4 913.6,453.8 913.6,453.2 913.6,452.5 913.7,451.8 913.7,451.2 913.7,450.5 913.7,449.8 913.8,449.1 913.8,448.5 913.8,447.8 913.9,447.2 913.9,446.5 913.9,445.9 914.0,445.3 914.0,444.8 914.0,444.3 914.0,443.8 914.1,443.3 914.1,442.9 914.1,442.5 914.2,442.2 914.2,441.9 914.2,441.7 914.2,441.5 914.3,441.4 914.3,441.4 914.3,441.4 914.4,441.5 914.4,441.7 914.4,441.9 914.4,442.2 914.5,442.5 914.5,442.9 914.5,443.3 914.5,443.8 914.6,444.3 914.6,444.8 914.6,445.3 914.6,445.9 914.7,446.5 914.7,447.2 914.7,447.8 914.7,448.5 914.8,449.1 914.8,449.8 914.8,450.5 914.8,451.2 914.9,451.8 914.9,452.5 914.9,453.2 914.9,453.8 915.0,454.4 915.0,455.0 915.0,455.5 915.0,455.9 915.1,456.4 915.1,456.9 915.1,457.4 915.1,457.9 915.1,458.4 915.1,458.9 915.2,459.4 915.2,459.9 915.2,460.4 915.2,461.0 915.2,461.5 915.2,462.0 915.2,462.6 915.3,463.1 915.3,463.6 915.3,464.2 915.3,464.7 915.3,465.3 915.3,465.8 915.4,466.3 915.4,466.9 915.4,467.4 915.4,467.9 915.4,468.5 915.5,469.0 915.5,469.5 915.5,470.0 915.5,470.5 915.6,471.0 915.6,471.5 915.6,472.0 915.7,472.4 915.7,472.9 915.7,473.5 915.8,474.1 915.8,474.6 915.9,475.2 915.9,475.8 916.0,476.4 916.0,477.0 916.1,477.5 916.1,478.1 916.2,478.7 916.2,479.2 916.3,479.8 916.3,480.4 916.4,480.9 916.4,481.4 916.5,482.0 916.6,482.5 916.6,483.0 916.7,483.4 916.8,483.9 916.8,484.4 916.9,484.8 917.0,485.3 917.1,485.7 917.1,486.1 917.2,486.4 917.3,486.8 917.4,487.1 917.7,488.0 917.9,488.7 918.2,489.2 918.5,489.5 918.8,489.8 919.2,490.1 919.6,490.3 920.1,490.5 920.7,490.7 921.1,490.9 921.5,491.0 921.9,491.1 922.4,491.3 922.9,491.4 923.4,491.5 924.0,491.6 924.5,491.7 925.0,491.8 925.6,491.8 926.1,491.9 926.7,492.0 927.2,492.0 927.7,492.1 928.2,492.1 928.6,492.1 929.2,492.1 929.8,492.0 930.3,491.9 930.8,491.8 931.3,491.7 931.8,491.6 932.3,491.4 932.8,491.3 933.3,491.2 933.8,491.1 934.3,491.1 934.8,491.1 935.3,491.2 935.9,491.3 936.4,491.4 936.9,491.6 937.5,491.7 938.0,491.9 938.5,492.0 939.0,492.1 939.5,492.1 940.0,492.1 940.5,492.1 941.1,492.0 941.6,491.9 942.2,491.9 942.7,491.7 943.2,491.6 943.7,491.3 944.2,491.0 944.6,490.5 945.0,490.0 945.2,489.7 945.3,489.4 945.5,489.1 945.6,488.8 945.7,488.5 945.9,488.2 946.0,487.8 946.1,487.5 946.2,487.1 946.3,486.7 946.4,486.2 946.4,485.7 946.5,485.2 946.6,484.6 946.7,484.0 946.8,483.3 946.8,482.6 946.9,481.8 947.0,480.9 947.1,480.0 947.1,479.7 947.2,479.3 947.2,479.0 947.2,478.7 947.3,478.3 947.3,478.0 947.3,477.6 947.3,477.3 947.4,477.0 947.4,476.6 947.4,476.3 947.5,475.9 947.5,475.6 947.5,475.2 947.6,474.8 947.6,474.5 947.6,474.1 947.6,473.7 947.7,473.4 947.7,473.0 947.7,472.6 947.7,472.2 947.8,471.8 947.8,471.4 947.8,471.0 947.9,470.5 947.9,470.1 947.9,469.6 947.9,469.2 948.0,468.7 948.0,468.3 948.0,467.8 948.0,467.3 948.1,466.8 948.1,466.3 948.1,465.7 948.1,465.2 948.2,464.7 948.2,464.1 948.2,463.5 948.2,462.9 948.3,462.3 948.3,461.7 948.3,461.1 948.3,460.4 948.4,459.8 948.4,459.1 948.4,458.4 948.4,457.7 948.4,457.0 948.5,456.2 948.5,455.5 948.5,454.7 948.5,453.9 948.6,453.1 948.6,452.3 948.6,451.4 948.6,451.0 948.6,450.7 948.6,450.3 948.6,449.9 948.6,449.5 948.7,449.1 948.7,448.7 948.7,448.2 948.7,447.8 948.7,447.3 948.7,446.9 948.7,446.4 948.7,445.9 948.7,445.4 948.7,444.9 948.7,444.4 948.7,443.9 948.8,443.4 948.8,442.9 948.8,442.3 948.8,441.8 948.8,441.2 948.8,440.7 948.8,440.1 948.8,439.5 948.8,439.0 948.8,438.4 948.8,437.8 948.8,437.2 948.8,436.6 948.9,436.0 948.9,435.4 948.9,434.7 948.9,434.1 948.9,433.5 948.9,432.9 948.9,432.2 948.9,431.6 948.9,430.9 948.9,430.3 948.9,429.6 948.9,429.0 948.9,428.3 949.0,427.7 949.0,427.0 949.0,426.3 949.0,425.7 949.0,425.0 949.0,424.3 949.0,423.7 949.0,423.0 949.0,422.3 949.0,421.6 949.0,421.0 949.0,420.3 949.0,419.6 949.0,418.9 949.1,418.2 949.1,417.6 949.1,416.9 949.1,416.2 949.1,415.5 949.1,414.9 949.1,414.2 949.1,413.5 949.1,412.8 949.1,412.2 949.1,411.5 949.1,410.8 949.1,410.2 949.1,409.5 949.1,408.9 949.2,408.2 949.2,407.6 949.2,406.9 949.2,406.3 949.2,405.6 949.2,405.0 949.2,404.4 949.2,403.7 949.2,403.1 949.2,402.5 949.2,401.9 949.2,401.3 949.2,400.7 949.2,400.1 949.2,399.5 949.3,398.9 949.3,398.3 949.3,397.8 949.3,397.2 949.3,396.7 949.3,396.1 949.3,395.6 949.3,395.0 949.3,394.5 949.3,394.0 949.3,393.5 949.3,393.0 949.3,392.5 949.3,392.0 949.3,391.5 949.4,391.0 949.4,390.6 949.4,390.1 949.4,389.7 949.4,389.3 949.4,388.8 949.4,388.4 949.4,388.0 949.4,387.6 949.4,387.3 949.4,386.9 949.4,386.5 949.4,386.2 949.4,385.9 949.4,385.5 949.5,385.2 949.5,384.9 949.5,384.6 949.5,384.4 949.5,384.1 949.5,383.9 949.5,383.6 949.5,383.4 949.5,383.2 949.5,383.0 949.5,382.9 949.5,382.7 949.5,382.5 949.5,382.4 949.6,382.3 949.6,382.2 949.6,382.1 949.6,382.0 949.6,382.0 949.6,381.9 949.6,381.9 949.6,381.9 949.6,381.9 949.6,381.9 949.6,382.0 949.6,382.0 949.6,382.1 949.6,382.2 949.6,382.3 949.7,382.4 949.7,382.5 949.7,382.7 949.7,382.9 949.7,383.0 949.7,383.2 949.7,383.4 949.7,383.7 949.7,383.9 949.7,384.1 949.7,384.4 949.7,384.7 949.7,385.0 949.7,385.3 949.7,385.6 949.8,385.9 949.8,386.2 949.8,386.6 949.8,386.9 949.8,387.3 949.8,387.7 949.8,388.1 949.8,388.5 949.8,388.9 949.8,389.3 949.8,389.7 949.8,390.2 949.8,390.6 949.8,391.1 949.8,391.6 949.8,392.1 949.9,392.5 949.9,393.0 949.9,393.6 949.9,394.1 949.9,394.6 949.9,395.1 949.9,395.7 949.9,396.2 949.9,396.8 949.9,397.3 949.9,397.9 949.9,398.5 949.9,399.0 949.9,399.6 949.9,400.2 949.9,400.8 949.9,401.4 950.0,402.0 950.0,402.7 950.0,403.3 950.0,403.9 950.0,404.5 950.0,405.2 950.0,405.8 950.0,406.4 950.0,407.1 950.0,407.7 950.0,408.4 950.0,409.0 950.0,409.7 950.0,410.4 950.0,411.0 950.0,411.7 950.1,412.4 950.1,413.0 950.1,413.7 950.1,414.4 950.1,415.1 950.1,415.7 950.1,416.4 950.1,417.1 950.1,417.8 950.1,418.5 950.1,419.1 950.1,419.8 950.1,420.5 950.1,421.2 950.1,421.8 950.2,422.5 950.2,423.2 950.2,423.9 950.2,424.5 950.2,425.2 950.2,425.9 950.2,426.6 950.2,427.2 950.2,427.9 950.2,428.5 950.2,429.2 950.2,429.8 950.2,430.5 950.2,431.1 950.3,431.8 950.3,432.4 950.3,433.1 950.3,433.7 950.3,434.3 950.3,434.9 950.3,435.6 950.3,436.2 950.3,436.8 950.3,437.4 950.3,438.0 950.3,438.5 950.4,439.1 950.4,439.7 950.4,440.3 950.4,440.8 950.4,441.4 950.4,441.9 950.4,442.5 950.4,443.0 950.4,443.5 950.4,444.1 950.4,444.6 950.4,445.1 950.5,445.5 950.5,446.0 950.5,446.5 950.5,447.0 950.5,447.4 950.5,447.9 950.5,448.3 950.5,448.7 950.5,449.1 950.5,449.5 950.6,449.9 950.6,450.3 950.6,450.7 950.6,451.1 950.6,451.4 950.6,452.3 950.7,453.2 950.7,454.1 950.7,454.9 950.8,455.7 950.8,456.5 950.8,457.3 950.9,458.1 950.9,458.8 950.9,459.5 951.0,460.2 951.0,460.8 951.0,461.5 951.1,462.1 951.1,462.7 951.1,463.3 951.2,463.8 951.2,464.4 951.3,464.9 951.3,465.5 951.3,466.0 951.4,466.4 951.4,466.9 951.5,467.4 951.5,467.8 951.5,468.3 951.6,468.7 951.6,469.1 951.7,469.5 951.7,469.9 951.7,470.3 951.8,470.7 951.8,471.1 951.9,471.4 951.9,471.8 952.0,472.1 952.0,472.5 952.0,472.8 952.1,473.2 952.1,473.5 952.2,473.8 952.2,474.1 952.3,474.5 952.3,474.8 952.3,475.1 952.4,475.5 952.4,475.8 952.5,476.1 952.5,476.4 952.6,476.8 952.6,477.1 952.7,478.1 952.9,478.9 953.0,479.7 953.1,480.5 953.3,481.1 953.4,481.7 953.5,482.2 953.7,482.7 953.8,483.1 954.0,483.5 954.1,483.9 954.2,484.2 954.4,484.5 954.5,484.8 954.7,485.1 954.8,485.4 955.0,485.7 955.5,486.4 956.0,486.9 956.5,487.1 957.0,487.2 957.5,487.2 957.9,487.1 958.3,486.9 958.6,486.5 959.0,486.0 959.3,485.5 959.6,485.0 959.8,484.6 960.0,484.3" fill="none" stroke="#6a6a6a" stroke-width="1.3" stroke-linejoin="round" stroke-linecap="round"/>
<polyline points="520.0,480.0 520.2,479.6 520.5,479.0 520.8,478.4 521.2,477.7 521.6,476.9 522.0,476.1 522.5,475.3 522.9,474.5 523.3,473.9 523.7,473.3 524.1,472.7 524.4,472.5 525.0,472.4 525.5,473.0 526.0,474.0 526.4,475.0 526.9,475.6 527.5,476.4 528.1,477.0 528.7,477.5 529.4,477.5 529.8,477.0 530.3,476.3 530.8,475.5 531.3,474.6 531.7,473.6 532.2,473.2 532.5,473.0 532.7,473.3 532.8,473.9 532.9,474.6 533.0,475.5 533.1,476.5 533.1,477.7 533.2,478.4 533.3,478.9 533.5,479.4 534.1,479.6 534.7,479.4 535.5,478.4 536.2,477.5 536.6,476.9 537.0,476.4 537.4,475.7 537.8,474.9 538.2,474.2 538.6,473.6 539.0,473.0 539.4,472.5 540.3,471.7 541.1,471.4 541.9,471.5 542.4,471.7 542.9,472.2 543.4,472.8 543.9,473.5 544.4,474.4 544.8,474.9 545.1,475.5 545.5,476.1 545.9,477.0 546.3,477.6 546.7,478.3 547.1,478.8 547.5,479.4 548.1,480.0 548.7,480.5 549.3,480.9 549.9,481.3 550.5,481.5 551.2,481.9 551.9,482.1 552.5,483.0 553.2,482.1 553.9,482.2 554.6,483.3 555.4,483.1 556.2,483.0 556.9,483.1 557.5,482.6 558.1,483.8 558.7,482.8 559.4,483.1 560.1,482.7 560.9,481.6 561.7,483.0 562.7,482.6 563.8,483.0 564.3,483.5 564.9,482.6 565.5,482.5 566.2,482.9 566.9,482.2 567.6,482.6 568.3,483.7 569.1,482.3 569.9,481.8 570.6,482.1 571.4,481.3 572.2,482.8 573.0,481.3 573.8,481.1 574.5,481.7 575.3,482.0 576.0,481.5 576.7,480.0 577.4,480.6 578.1,481.3 578.8,481.0 579.6,481.2 580.4,481.1 581.1,481.4 581.9,480.2 582.7,481.1 583.4,481.2 584.1,481.2 584.8,480.3 585.5,481.0 586.2,480.3 586.9,481.3 587.5,480.3 588.2,481.8 588.8,481.2 589.4,481.4 590.0,481.0 590.9,481.3 591.7,481.2 592.5,481.2 593.3,481.6 594.0,481.4 594.7,481.9 595.4,482.0 596.1,481.9 596.8,482.1 597.5,482.5 598.3,483.2 599.0,482.8 599.8,483.3 600.6,482.7 601.4,482.9 602.2,483.4 602.9,483.3 603.7,483.0 604.4,482.8 605.0,483.0 605.8,483.1 606.6,481.6 607.3,482.5 607.9,482.0 608.6,481.7 609.2,480.6 610.0,481.0 610.7,480.4 611.5,481.1 612.2,481.7 613.0,480.4 613.8,480.9 614.6,482.2 615.4,481.4 616.2,481.5 617.0,481.4 617.7,481.7 618.5,482.2 619.2,480.7 620.0,481.1 620.7,479.9 621.5,480.7 622.2,479.5 623.0,480.0 623.7,481.3 624.4,479.8 625.1,479.9 625.7,480.9 626.4,480.5 627.1,480.5 627.8,480.9 628.5,480.6 629.3,481.7 630.0,481.5 630.7,481.8 631.4,481.3 632.1,481.9 632.8,481.5 633.5,482.3 634.2,481.0 634.9,482.0 635.6,481.4 636.4,482.1 637.2,481.9 638.0,481.9 638.7,481.5 639.3,481.7 640.1,482.3 640.8,482.3 641.5,482.1 642.3,481.7 643.1,481.0 643.8,482.5 644.6,481.8 645.3,481.9 646.0,481.1 646.7,481.3 647.4,482.2 648.0,481.0 648.8,480.7 649.6,479.5 650.4,480.8 651.1,480.9 651.8,480.0 652.5,479.3 653.1,479.2 653.8,479.5 654.4,479.3 655.0,479.5 655.7,479.6 656.3,478.7 656.8,480.0 657.3,480.8 657.9,481.1 658.8,480.8 660.0,481.2 660.5,481.4 661.1,480.9 661.7,481.1 662.3,481.7 663.0,481.4 663.7,482.1 664.4,481.7 665.2,481.4 666.0,481.5 666.8,482.2 667.6,482.0 668.4,482.5 669.2,482.6 670.0,482.5 670.8,482.0 671.6,482.9 672.3,482.4 673.0,482.1 673.7,482.6 674.4,482.2 675.0,482.5 675.9,482.1 676.7,482.1 677.5,482.2 678.3,481.9 679.0,482.4 679.8,482.0 680.5,482.2 681.2,482.4 681.8,481.6 682.5,482.2 683.1,482.1 683.7,481.6 684.4,482.6 685.0,481.5 685.9,481.0 686.7,480.9 687.6,482.9 688.4,480.7 689.1,480.5 689.9,481.5 690.6,481.8 691.3,481.6 691.9,481.0 692.5,480.6 692.9,479.3 693.3,479.3 693.7,479.2 694.0,478.7 694.3,478.2 694.6,477.7 694.9,477.2 695.1,476.7 695.4,475.6 695.7,474.6 695.9,474.2 696.2,473.0 696.4,472.2 696.6,472.0 696.8,471.2 696.9,470.2 697.1,469.7 697.3,469.0 697.5,468.3 697.6,467.5 697.8,466.4 698.0,465.7 698.2,464.8 698.3,464.0 698.5,463.3 698.7,462.6 698.9,462.0 699.0,460.9 699.2,460.4 699.4,459.6 699.5,458.9 699.7,458.4 699.8,458.0 700.0,457.5 700.7,456.4 701.3,456.3 701.9,456.2 702.4,456.1 703.0,455.0 703.1,454.6 703.3,454.1 703.4,453.6 703.5,453.1 703.7,452.4 703.8,451.6 703.9,450.9 704.1,450.5 704.2,449.7 704.3,448.9 704.5,447.8 704.6,447.2 704.7,446.4 704.8,445.8 705.0,444.7 705.1,444.1 705.2,443.2 705.3,442.4 705.4,441.7 705.5,440.9 705.6,440.0 705.7,439.2 705.7,438.6 705.8,437.7 705.9,436.7 705.9,435.8 706.0,435.1 706.0,434.1 706.1,433.2 706.1,432.1 706.2,431.3 706.2,430.4 706.3,429.0 706.3,428.3 706.4,427.4 706.4,426.6 706.4,425.9 706.5,425.2 706.5,424.2 706.6,423.7 706.6,423.3 706.7,423.0 706.7,422.4 706.8,422.5 706.8,422.4 706.9,422.3 707.0,422.4 707.0,422.7 707.1,422.9 707.1,423.3 707.2,423.6 707.2,424.1 707.3,424.6 707.3,425.3 707.4,426.0 707.5,426.7 707.5,427.1 707.6,428.4 707.6,428.7 707.7,430.0 707.8,430.8 707.8,431.7 707.9,432.7 707.9,433.6 708.0,434.6 708.1,435.4 708.1,436.4 708.2,437.2 708.3,438.1 708.3,438.9 708.4,440.0 708.5,440.9 708.5,441.7 708.6,442.4 708.7,443.0 708.8,443.8 708.8,444.5 708.9,445.2 709.0,446.0 709.1,446.7 709.2,447.5 709.3,448.2 709.4,449.2 709.5,449.9 709.6,450.5 709.7,451.3 709.8,451.8 709.9,452.8 710.0,453.4 710.1,454.1 710.2,455.2 710.3,455.6 710.4,456.1 710.5,457.0 710.6,457.6 710.7,458.1 710.8,458.5 710.9,459.5 711.0,460.0 711.1,460.7 711.2,461.2 711.4,462.0 711.6,462.8 711.8,463.7 711.9,464.5 712.1,465.3 712.3,466.1 712.4,466.6 712.6,467.3 712.8,468.3 713.0,469.2 713.2,469.6 713.4,470.4 713.6,470.8 713.8,471.4 714.0,472.0 714.2,472.5 714.4,473.0 715.0,474.0 715.6,474.9 716.2,475.4 716.9,476.0 717.6,476.3 718.2,476.3 718.8,476.2 719.2,475.8 719.6,475.9 719.9,475.5 720.3,474.6 720.7,473.7 721.0,473.1 721.3,472.1 721.6,471.2 721.9,470.0 722.0,469.4 722.1,468.8 722.3,468.3 722.4,467.6 722.5,466.9 722.6,466.2 722.7,465.3 722.8,464.6 722.9,463.8 723.0,463.2 723.0,462.3 723.1,461.5 723.2,460.8 723.3,460.1 723.4,459.1 723.5,458.2 723.6,457.8 723.7,457.2 723.8,456.2 723.9,455.3 724.0,454.7 724.1,453.8 724.2,453.3 724.3,452.3 724.4,451.2 724.4,450.4 724.5,449.6 724.6,448.9 724.7,448.2 724.9,447.5 725.0,446.7 725.1,446.0 725.2,445.5 725.3,445.2 725.5,444.6 725.6,444.4 726.1,443.9 726.6,444.5 727.2,445.6 727.8,446.6 728.3,447.2 728.8,447.5 729.0,447.1 729.3,447.0 729.5,446.1 729.7,445.3 729.9,444.5 730.1,443.6 730.3,442.7 730.5,442.0 730.7,441.0 731.0,439.8 731.2,438.6 731.4,437.6 731.6,437.4 731.9,437.5 732.0,437.8 732.1,438.1 732.2,438.7 732.2,439.5 732.3,440.1 732.4,441.0 732.5,441.5 732.6,442.2 732.7,443.3 732.8,444.0 732.9,445.2 733.0,445.8 733.1,446.8 733.2,448.1 733.3,448.6 733.4,449.2 733.5,449.8 733.6,450.7 733.8,451.2 734.1,452.3 734.4,453.3 734.8,454.1 735.1,454.7 735.5,455.2 735.9,455.8 736.3,456.4 736.6,457.0 736.9,457.5 737.3,458.2 737.6,459.2 737.9,460.2 738.2,461.2 738.5,461.8 738.8,461.9 739.1,462.1 739.5,461.8 739.9,461.4 740.3,460.4 740.6,458.8 740.7,458.3 740.7,457.7 740.8,457.2 740.8,456.6 740.8,455.8 740.9,455.4 740.9,453.8 741.0,453.4 741.0,452.6 741.0,451.9 741.1,450.7 741.1,449.7 741.2,448.9 741.2,447.9 741.2,447.0 741.3,446.2 741.3,444.9 741.3,444.5 741.4,444.0 741.4,443.0 741.4,442.3 741.5,441.8 741.5,441.1 741.5,440.3 741.6,439.9 741.6,440.0 741.7,439.7 741.8,439.7 741.9,440.5 742.0,441.5 742.2,442.7 742.3,444.1 742.4,444.9 742.6,446.0 742.8,446.6 742.9,447.4 743.1,447.9 743.3,448.8 743.5,449.0 743.7,449.9 743.9,450.7 744.2,451.5 744.4,452.5 744.5,452.7 744.6,453.6 744.7,454.3 744.8,455.1 745.0,455.9 745.1,456.5 745.2,457.7 745.3,458.4 745.4,458.9 745.6,460.0 745.7,460.4 745.8,461.8 745.9,462.5 746.1,463.0 746.2,464.2 746.4,464.6 746.6,465.3 746.7,465.7 746.9,466.2 747.3,467.3 747.8,468.2 748.3,468.5 748.8,469.2 749.4,469.6 750.0,469.7 750.6,470.1 751.2,470.6 751.9,471.0 752.5,471.1 753.2,471.7 753.9,471.9 754.6,472.6 755.3,472.8 756.1,472.9 756.8,473.1 757.5,473.0 758.1,472.8 758.8,472.5 759.5,472.3 760.1,471.9 760.8,471.4 761.5,470.8 762.1,470.2 762.7,469.5 763.3,469.2 763.8,468.8 764.3,468.3 764.7,467.5 765.1,467.2 765.4,466.2 765.7,465.3 766.1,464.7 766.4,464.3 766.9,463.8 767.6,463.3 768.3,463.0 769.1,462.8 769.9,462.4 770.7,462.2 771.4,462.1 771.9,461.2 772.2,460.6 772.4,459.7 772.5,458.9 772.6,458.2 772.7,456.9 772.7,455.7 772.8,455.4 772.9,454.6 773.0,454.4 773.3,454.1 773.6,455.4 773.9,456.2 774.3,457.2 774.6,458.0 775.0,458.8 775.8,460.0 776.6,460.4 777.5,460.0 777.7,459.4 777.8,459.2 778.0,458.8 778.2,458.1 778.3,457.2 778.5,456.6 778.7,455.9 778.8,455.0 779.0,454.2 779.2,453.5 779.4,452.6 779.6,451.7 779.7,450.9 779.9,450.3 780.1,449.3 780.3,448.6 780.4,448.2 780.6,447.5 780.9,446.3 781.2,445.5 781.5,444.6 781.8,443.5 782.0,442.9 782.3,442.2 782.6,441.3 782.9,441.0 783.2,440.7 783.5,440.8 783.7,441.0 784.0,441.4 784.2,441.7 784.4,442.3 784.7,443.0 784.9,443.8 785.2,444.6 785.4,445.5 785.7,446.3 785.9,447.1 786.2,448.1 786.4,448.8 786.7,449.4 786.9,450.0 787.3,450.9 787.6,451.6 787.9,452.5 788.3,452.9 788.6,453.7 788.9,454.3 789.3,454.8 789.6,455.3 790.0,455.6 790.7,456.1 791.5,456.2 792.3,456.4 793.0,456.8 793.8,456.9 794.6,456.9 795.4,457.2 796.2,456.8 796.9,455.6 797.1,455.1 797.2,454.5 797.4,454.1 797.6,453.8 797.7,453.4 797.9,452.7 798.0,452.0 798.2,451.4 798.3,450.5 798.5,450.0 798.6,449.2 798.8,448.5 798.9,447.6 799.0,446.8 799.2,445.6 799.3,444.8 799.4,443.8 799.5,443.3 799.5,442.5 799.6,442.2 799.6,441.4 799.7,441.2 799.7,440.2 799.8,439.5 799.8,439.0 799.9,438.3 799.9,437.3 800.0,436.6 800.0,435.9 800.1,435.2 800.1,434.5 800.1,433.8 800.2,433.1 800.2,432.5 800.3,431.7 800.3,430.8 800.4,430.0 800.4,429.4 800.4,428.4 800.5,428.0 800.5,427.0 800.6,426.2 800.6,425.4 800.7,424.8 800.7,424.1 800.7,423.5 800.8,422.7 800.8,421.9 800.9,421.2 800.9,420.5 801.0,420.0 801.1,418.8 801.1,418.4 801.2,417.3 801.3,416.4 801.4,415.4 801.5,414.7 801.5,413.7 801.6,412.4 801.7,411.8 801.8,410.8 801.9,410.0 801.9,408.7 802.0,407.7 802.1,407.3 802.2,406.3 802.3,405.6 802.4,404.9 802.5,404.2 802.5,403.6 802.6,402.9 802.7,402.4 802.8,402.1 802.9,401.7 802.9,401.8 803.0,401.0 803.1,401.2 803.2,401.4 803.3,401.3 803.3,401.7 803.4,402.2 803.5,402.3 803.5,402.8 803.6,403.5 803.7,404.4 803.7,404.8 803.8,405.8 803.9,406.4 804.0,407.5 804.0,408.2 804.1,409.3 804.2,410.2 804.2,411.2 804.3,412.0 804.4,412.9 804.5,413.9 804.5,414.5 804.6,415.7 804.7,416.6 804.8,417.6 804.8,418.5 804.9,419.2 805.0,420.0 805.1,420.5 805.2,421.4 805.2,422.0 805.3,422.7 805.4,423.6 805.5,424.5 805.6,425.3 805.7,425.9 805.8,426.7 805.9,427.5 806.0,428.1 806.1,429.2 806.2,429.4 806.2,430.4 806.3,431.4 806.4,432.1 806.5,432.7 806.6,433.6 806.7,434.2 806.8,435.0 806.9,435.5 807.0,436.2 807.1,437.0 807.2,437.6 807.3,438.2 807.3,438.5 807.4,439.5 807.5,440.0 807.6,440.9 807.8,441.8 807.9,442.6 808.0,443.9 808.1,444.4 808.2,445.0 808.3,446.1 808.5,446.5 808.6,447.3 808.7,447.8 808.8,448.6 808.9,449.4 809.0,449.7 809.1,450.4 809.3,450.6 809.4,451.2 809.7,452.4 810.1,453.4 810.4,454.2 810.8,455.3 811.2,455.4 811.5,455.9 811.9,456.2 812.5,456.6 813.2,455.9 813.8,455.5 814.4,454.4 814.6,453.9 814.7,453.4 814.9,452.7 815.0,452.1 815.2,451.0 815.3,450.2 815.4,449.5 815.6,448.6 815.7,447.7 815.9,446.9 816.0,446.3 816.1,445.6 816.2,445.0 816.5,444.0 816.7,442.9 816.9,441.8 817.2,441.1 817.4,440.2 817.6,439.9 817.9,440.0 818.1,440.2 818.2,440.6 818.4,441.2 818.6,442.2 818.7,442.7 818.9,443.6 819.1,444.4 819.3,445.2 819.4,446.3 819.6,447.1 819.8,447.9 820.0,448.8 820.2,449.3 820.3,450.2 820.5,450.7 820.6,451.6 820.8,452.3 821.0,453.3 821.1,453.9 821.3,454.6 821.5,455.4 821.7,456.4 821.9,457.0 822.1,457.4 822.3,458.1 822.5,458.8 822.9,459.6 823.2,460.4 823.7,461.0 824.1,461.9 824.5,462.2 825.0,462.7 825.4,463.1 825.8,463.9 826.2,464.4 826.9,464.8 827.5,465.4 828.2,466.2 828.8,466.2 829.4,466.4 830.0,466.9 830.5,467.6 831.1,468.1 831.6,468.6 832.1,469.5 832.5,469.7 833.0,470.0 833.7,469.8 834.3,468.9 834.9,467.9 835.6,468.0 836.1,468.2 836.6,468.7 837.1,469.4 837.6,470.0 838.2,470.8 838.8,471.2 839.3,471.7 839.9,472.3 840.5,472.6 841.2,473.5 841.8,473.6 842.4,474.0 843.0,473.8 843.4,473.3 843.7,472.7 844.1,471.9 844.4,470.9 844.7,470.1 845.1,469.1 845.4,467.9 845.7,467.7 846.0,467.4 846.2,466.9 846.5,467.1 846.7,467.6 846.9,468.1 847.1,469.1 847.3,469.9 847.5,470.7 847.7,471.9 848.0,472.9 848.4,473.2 848.8,473.8 849.4,474.2 850.0,474.1 850.8,474.2 851.6,474.1 852.5,473.7 853.3,473.7 854.2,473.4 855.0,473.5 855.7,473.6 856.4,474.0 857.1,474.0 857.8,474.5 858.5,474.4 859.2,474.7 859.9,474.6 860.6,475.1 861.2,475.0 861.9,474.8 862.5,474.6 863.1,474.3 863.8,473.6 864.4,473.3 865.0,473.0 865.6,472.0 866.2,471.8 866.9,471.3 867.5,471.2 868.2,471.1 868.9,470.8 869.7,470.7 870.4,470.3 871.1,470.3 871.8,470.2 872.5,470.1 873.1,470.1 873.8,470.0 874.6,470.3 875.4,470.7 876.1,471.3 876.8,471.8 877.4,472.1 878.0,471.9 878.4,471.6 878.8,470.8 879.1,470.4 879.4,469.5 879.7,468.9 880.0,467.8 880.3,467.1 880.6,466.2 880.9,465.4 881.2,464.6 881.5,464.0 881.8,462.9 882.1,462.0 882.4,461.4 882.7,460.8 883.0,459.9 883.3,460.0 883.6,460.1 883.9,460.6 884.1,461.6 884.4,461.9 884.7,462.9 885.0,463.8 885.4,464.7 885.8,465.3 886.4,465.8 887.1,466.2 887.9,466.8 888.7,467.0 889.4,467.1 890.1,467.2 890.7,467.0 891.1,466.5 891.5,466.4 891.8,465.6 892.0,464.4 892.3,463.7 892.5,462.5 892.7,461.9 893.0,461.2 893.3,460.4 893.6,459.5 893.9,458.6 894.2,457.5 894.5,457.0 894.8,456.5 895.1,456.3 895.3,456.6 895.6,457.4 895.9,457.4 896.1,458.7 896.4,459.6 896.7,460.3 896.9,461.1 897.2,462.0 897.4,462.8 897.7,463.0 898.3,463.5 898.9,463.0 899.4,462.0 900.0,460.7 900.2,460.0 900.3,459.5 900.4,458.7 900.6,457.6 900.7,456.4 900.8,455.7 901.0,454.6 901.1,454.0 901.2,453.0 901.4,452.4 901.6,451.4 901.7,451.1 901.9,450.9 902.1,450.7 902.3,450.8 902.4,451.3 902.6,451.8 902.8,452.4 903.0,453.0 903.2,453.9 903.4,454.8 903.6,455.8 903.8,456.7 904.0,457.7 904.2,458.9 904.4,460.0 904.6,460.5 904.8,461.5 905.0,462.0 905.2,462.6 905.4,463.3 905.5,463.4 905.7,463.6 905.9,463.4 906.0,463.3 906.2,462.9 906.3,462.5 906.4,461.9 906.6,461.2 906.7,460.3 906.8,459.8 906.9,459.0 907.0,458.0 907.1,456.9 907.3,456.0 907.4,455.0 907.5,454.1 907.6,453.1 907.8,452.2 907.9,451.4 908.0,450.9 908.1,450.1 908.3,449.2 908.4,448.5 908.5,447.7 908.7,446.7 908.8,445.9 908.9,445.2 909.1,444.1 909.2,443.0 909.4,442.4 909.5,441.7 909.6,440.9 909.8,439.9 909.9,439.2 910.0,438.5 910.1,437.8 910.3,437.2 910.4,436.7 910.5,436.3 910.6,436.1 910.7,435.7 910.9,435.5 911.1,436.3 911.3,437.1 911.5,438.6 911.6,439.6 911.7,440.9 911.9,441.6 912.1,441.4 912.2,441.3 912.2,441.1 912.3,440.5 912.4,439.7 912.5,439.4 912.6,438.6 912.7,438.1 912.7,437.1 912.8,436.4 912.9,435.8 913.0,435.0 913.1,433.9 913.2,433.1 913.3,432.4 913.4,431.0 913.4,430.3 913.5,429.8 913.6,428.7 913.7,427.6 913.8,427.0 913.9,426.3 913.9,425.9 914.0,425.0 914.1,424.3 914.2,423.6 914.3,422.0 914.3,421.1 914.4,420.2 914.5,418.9 914.6,418.2 914.7,417.3 914.7,416.4 914.8,415.3 914.9,414.7 915.0,414.0 915.0,413.4 915.1,412.8 915.2,412.4 915.3,411.9 915.3,411.8 915.4,412.0 915.5,412.2 915.5,412.5 915.6,412.7 915.6,413.1 915.7,413.5 915.7,413.9 915.7,414.6 915.8,415.3 915.8,415.8 915.9,416.4 915.9,417.3 916.0,418.2 916.0,419.0 916.1,419.9 916.1,420.5 916.2,421.8 916.2,422.4 916.3,423.5 916.3,424.2 916.4,425.2 916.4,426.2 916.5,427.1 916.5,428.1 916.6,429.1 916.6,430.0 916.6,430.6 916.7,431.4 916.7,432.0 916.7,432.7 916.8,433.6 916.8,434.5 916.8,435.0 916.9,436.2 916.9,437.1 916.9,438.1 917.0,439.1 917.0,439.9 917.0,441.1 917.1,442.3 917.1,443.1 917.1,444.0 917.2,445.1 917.2,446.2 917.2,447.1 917.3,447.9 917.3,448.7 917.3,449.6 917.4,450.3 917.4,451.3 917.5,452.2 917.5,453.0 917.5,453.4 917.6,454.1 917.6,454.7 917.6,455.3 917.7,455.9 917.7,456.1 917.7,456.6 917.8,456.7 917.8,457.0 917.8,457.2 917.9,457.1 917.9,457.0 917.9,456.8 918.0,456.6 918.0,456.5 918.0,456.6 918.0,456.0 918.1,455.7 918.1,455.6 918.1,454.6 918.1,454.4 918.2,454.0 918.2,453.5 918.2,452.8 918.2,452.3 918.3,452.1 918.3,450.8 918.3,450.4 918.4,449.6 918.4,448.8 918.4,448.2 918.4,447.4 918.5,446.6 918.5,445.9 918.5,445.1 918.5,444.2 918.6,443.3 918.6,442.7 918.6,441.7 918.7,440.9 918.7,440.0 918.7,438.9 918.7,438.1 918.8,437.2 918.8,436.3 918.8,435.5 918.8,434.5 918.9,433.4 918.9,432.8 918.9,431.8 918.9,430.9 919.0,430.0 919.0,429.2 919.0,428.1 919.0,427.0 919.0,426.4 919.1,425.2 919.1,424.8 919.1,423.8 919.1,423.2 919.1,422.0 919.2,421.4 919.2,420.7 919.2,420.0 919.2,419.3 919.2,418.5 919.2,417.7 919.3,417.1 919.3,416.3 919.3,415.4 919.3,414.4 919.3,413.8 919.3,412.8 919.3,412.1 919.4,411.1 919.4,410.3 919.4,409.1 919.4,408.3 919.4,407.4 919.4,406.3 919.4,405.5 919.4,404.7 919.4,403.9 919.5,402.3 919.5,401.7 919.5,400.9 919.5,399.6 919.5,399.1 919.5,398.0 919.5,397.1 919.5,396.3 919.5,395.3 919.5,394.1 919.5,393.5 919.6,392.8 919.6,391.8 919.6,391.0 919.6,390.3 919.6,389.7 919.6,388.9 919.6,388.2 919.6,387.6 919.6,387.0 919.6,386.3 919.6,386.0 919.6,385.1 919.7,384.7 919.7,384.4 919.7,384.1 919.7,383.5 919.7,383.1 919.7,382.9 919.7,382.4 919.7,382.3 919.7,382.2 919.7,381.9 919.7,381.7 919.8,381.9 919.8,382.0 919.8,382.1 919.8,382.2 919.8,382.2 919.8,382.6 919.8,382.8 919.8,383.0 919.8,383.3 919.8,383.8 919.8,384.3 919.9,384.9 919.9,385.2 919.9,385.9 919.9,386.3 919.9,387.1 919.9,387.5 919.9,388.2 919.9,389.0 919.9,389.7 919.9,390.4 919.9,391.1 919.9,391.9 920.0,392.8 920.0,393.5 920.0,394.4 920.0,395.2 920.0,396.5 920.0,396.8 920.0,398.0 920.0,399.0 920.0,399.7 920.0,400.7 920.0,401.6 920.1,402.7 920.1,403.4 920.1,404.4 920.1,405.4 920.1,406.4 920.1,407.4 920.1,408.2 920.1,409.1 920.1,410.0 920.2,410.9 920.2,411.9 920.2,412.7 920.2,413.8 920.2,414.3 920.2,415.4 920.2,416.2 920.2,417.0 920.3,417.8 920.3,418.4 920.3,419.3 920.3,420.0 920.3,420.8 920.3,421.7 920.3,422.2 920.4,422.9 920.4,423.5 920.4,424.5 920.4,425.0 920.4,426.0 920.4,426.8 920.4,427.2 920.5,428.3 920.5,429.1 920.5,429.8 920.5,430.8 920.5,431.8 920.5,432.5 920.5,433.4 920.6,434.0 920.6,434.8 920.6,435.8 920.6,436.6 920.6,437.4 920.6,438.2 920.6,439.0 920.7,439.8 920.7,440.7 920.7,441.3 920.7,442.4 920.7,443.1 920.7,443.7 920.8,444.7 920.8,445.0 920.8,446.2 920.8,446.9 920.8,447.5 920.9,448.2 920.9,449.1 920.9,449.7 920.9,450.4 921.0,451.1 921.0,451.7 921.0,452.5 921.0,453.1 921.1,453.6 921.1,454.2 921.1,454.7 921.1,455.0 921.2,455.7 921.2,456.4 921.2,456.6 921.3,457.0 921.3,457.7 921.3,457.9 921.4,457.9 921.4,458.6 921.9,460.6 922.5,460.0 923.1,458.1 923.7,456.3 924.3,455.7 924.6,456.3 924.9,456.3 925.1,457.0 925.4,457.7 925.6,458.9 925.8,459.5 926.1,460.7 926.4,461.4 926.6,462.1 926.8,462.3 927.1,463.4 927.3,464.0 927.6,464.8 927.8,465.8 928.1,466.1 928.3,467.0 928.6,467.4 928.8,468.3 929.1,468.8 929.3,469.3 929.8,470.0 930.2,470.9 930.7,471.8 931.2,472.3 931.6,472.9 932.1,472.9 932.8,473.4 933.5,472.8 934.2,472.5 935.0,471.4 935.3,471.0 935.6,470.3 936.0,469.7 936.3,468.7 936.6,467.6 937.0,467.1 937.3,466.5 937.7,465.6 938.0,465.1 938.3,464.6 938.6,464.3 939.2,464.3 939.8,464.6 940.3,465.3 940.8,466.3 941.4,467.1 941.8,467.7 942.2,468.7 942.6,469.6 943.1,470.4 943.5,471.0 943.9,471.5 944.3,471.4 944.5,471.1 944.8,470.8 945.0,470.4 945.3,469.6 945.5,469.0 945.7,468.0 946.0,467.5 946.2,466.5 946.4,465.7 946.7,464.7 946.9,463.8 947.1,462.9 947.2,462.2 947.3,461.6 947.5,460.9 947.6,460.0 947.7,459.2 947.8,458.4 947.9,457.6 948.0,456.5 948.1,455.8 948.2,455.1 948.4,454.1 948.5,453.5 948.6,452.6 948.7,451.7 948.8,451.0 948.9,450.3 949.0,449.7 949.1,449.6 949.2,448.9 949.3,448.6 949.7,448.1 950.1,448.7 950.5,450.0 950.9,451.6 951.4,452.1 952.1,453.0 952.8,452.8 953.6,453.4 954.3,452.9 954.6,452.6 954.9,452.0 955.2,451.3 955.4,450.7 955.7,450.1 956.0,449.4 956.3,448.5 956.6,447.8 956.8,447.1 957.1,446.4 957.5,445.6 957.8,444.9 958.2,444.3 958.6,443.4 958.9,442.9 959.2,442.3 959.5,441.7 959.7,441.4" fill="none" stroke="#000" stroke-width="1.9" stroke-linejoin="round" stroke-linecap="round"/>
<polygon points="525.25,483.8 528.85,487.4 525.25,491 521.65,487.4" fill="#fff" stroke="#b8b8b8" stroke-width="0.9"/>
<polygon points="545,483.3 548.6,486.9 545,490.5 541.4,486.9" fill="#fff" stroke="#b8b8b8" stroke-width="0.9"/>
<polygon points="565,485.15 568.6,488.75 565,492.35 561.4,488.75" fill="#fff" stroke="#b8b8b8" stroke-width="0.9"/>
<polygon points="584.4,486.4 588,490 584.4,493.6 580.8,490" fill="#fff" stroke="#b8b8b8" stroke-width="0.9"/>
<polygon points="603.75,486.65 607.35,490.25 603.75,493.85 600.15,490.25" fill="#fff" stroke="#b8b8b8" stroke-width="0.9"/>
<polygon points="623.75,486.65 627.35,490.25 623.75,493.85 620.15,490.25" fill="#fff" stroke="#b8b8b8" stroke-width="0.9"/>
<polygon points="643.75,486.7 647.35,490.3 643.75,493.9 640.15,490.3" fill="#fff" stroke="#b8b8b8" stroke-width="0.9"/>
<polygon points="663.5,487 667.1,490.6 663.5,494.2 659.9,490.6" fill="#fff" stroke="#b8b8b8" stroke-width="0.9"/>
<polygon points="683.1,487 686.7,490.6 683.1,494.2 679.5,490.6" fill="#fff" stroke="#b8b8b8" stroke-width="0.9"/>
<polygon points="703.1,486.4 706.7,490 703.1,493.6 699.5,490" fill="#fff" stroke="#b8b8b8" stroke-width="0.9"/>
<polygon points="722.5,487.4 726.1,491 722.5,494.6 718.9,491" fill="#fff" stroke="#b8b8b8" stroke-width="0.9"/>
<polygon points="742.5,448.5 746.1,452.1 742.5,455.7 738.9,452.1" fill="#fff" stroke="#b8b8b8" stroke-width="0.9"/>
<polygon points="761.9,485.5 765.5,489.1 761.9,492.7 758.3,489.1" fill="#fff" stroke="#b8b8b8" stroke-width="0.9"/>
<polygon points="781.9,485.15 785.5,488.75 781.9,492.35 778.3,488.75" fill="#fff" stroke="#b8b8b8" stroke-width="0.9"/>
<polygon points="801.9,450.15 805.5,453.75 801.9,457.35 798.3,453.75" fill="#fff" stroke="#b8b8b8" stroke-width="0.9"/>
<polygon points="821.25,482.4 824.85,486 821.25,489.6 817.65,486" fill="#fff" stroke="#b8b8b8" stroke-width="0.9"/>
<polygon points="841.25,486.4 844.85,490 841.25,493.6 837.65,490" fill="#fff" stroke="#b8b8b8" stroke-width="0.9"/>
<polygon points="861,486.65 864.6,490.25 861,493.85 857.4,490.25" fill="#fff" stroke="#b8b8b8" stroke-width="0.9"/>
<polygon points="880.6,486.65 884.2,490.25 880.6,493.85 877,490.25" fill="#fff" stroke="#b8b8b8" stroke-width="0.9"/>
<polygon points="900.4,460 904,463.6 900.4,467.2 896.8,463.6" fill="#fff" stroke="#b8b8b8" stroke-width="0.9"/>
<polygon points="920.3,486.7 923.9,490.3 920.3,493.9 916.7,490.3" fill="#fff" stroke="#b8b8b8" stroke-width="0.9"/>
<polygon points="940.1,487.8 943.7,491.4 940.1,495 936.5,491.4" fill="#fff" stroke="#b8b8b8" stroke-width="0.9"/>
<polygon points="959.8,480.4 963.4,484 959.8,487.6 956.2,484" fill="#fff" stroke="#b8b8b8" stroke-width="0.9"/>
<rect x="517.75" y="499.1" width="5" height="5" fill="#000"/>
<rect x="540.9" y="499.1" width="5" height="5" fill="#000"/>
<rect x="564" y="499.3" width="5" height="5" fill="#000"/>
<rect x="587.1" y="499.3" width="5" height="5" fill="#000"/>
<rect x="610.25" y="499.2" width="5" height="5" fill="#000"/>
<rect x="633.1" y="499.1" width="5" height="5" fill="#000"/>
<rect x="656.25" y="499.2" width="5" height="5" fill="#000"/>
<rect x="679.75" y="498.75" width="5" height="5" fill="#000"/>
<rect x="702.5" y="478.1" width="5" height="5" fill="#000"/>
<rect x="726" y="483.1" width="5" height="5" fill="#000"/>
<rect x="748.75" y="498.1" width="5" height="5" fill="#000"/>
<rect x="771.9" y="495.5" width="5" height="5" fill="#000"/>
<rect x="795.6" y="477.9" width="5" height="5" fill="#000"/>
<rect x="818.75" y="496.25" width="5" height="5" fill="#000"/>
<rect x="841.9" y="498.5" width="5" height="5" fill="#000"/>
<rect x="865" y="496" width="5" height="5" fill="#000"/>
<rect x="888.1" y="495.7" width="5" height="5" fill="#000"/>
<rect x="911.4" y="497.2" width="5" height="5" fill="#000"/>
<rect x="934.6" y="499.4" width="5" height="5" fill="#000"/>
<rect x="957.8" y="494.2" width="5" height="5" fill="#000"/>
<text x="612.4" y="536.3" font-size="16.6" text-anchor="middle" fill="#111">2000</text>
<text x="728.35" y="536.3" font-size="16.6" text-anchor="middle" fill="#111">1500</text>
<text x="844.3" y="536.3" font-size="16.6" text-anchor="middle" fill="#111">1000</text>
<text x="960.25" y="536.3" font-size="16.6" text-anchor="middle" fill="#111">500</text>
<text x="541.6" y="402.6" font-size="21.8" text-anchor="middle" fill="#111">(e)</text>
<text x="646.2" y="568.2" font-size="21.3" text-anchor="start" fill="#111">wavenumber / cm<tspan font-size="11.8" dy="-11.6">-1</tspan></text>
</g>
</svg>
</body>
</html>
